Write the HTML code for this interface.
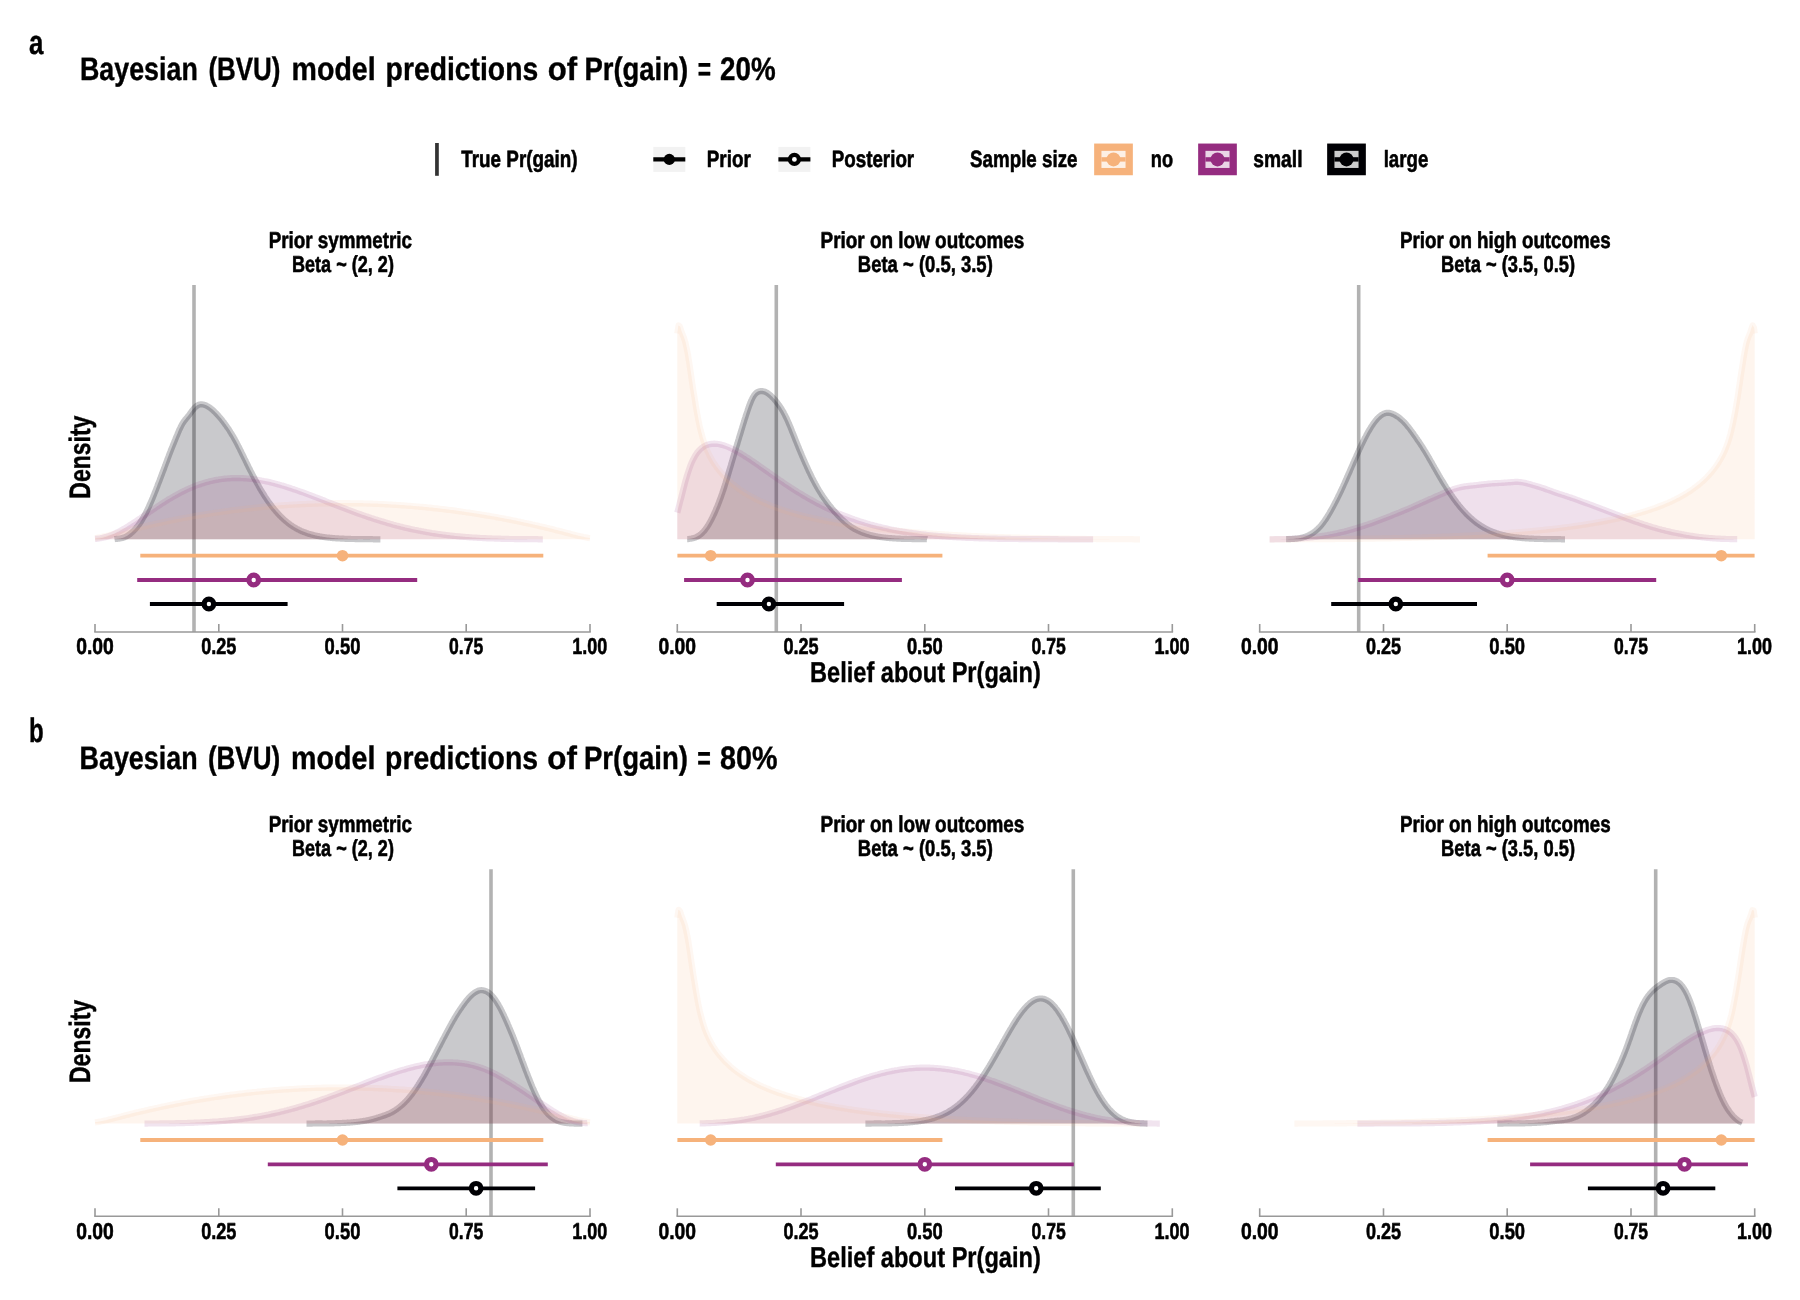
<!DOCTYPE html>
<html><head><meta charset="utf-8"><title>BVU model predictions</title>
<style>html,body{margin:0;padding:0;background:#fff;}svg{display:block;will-change:transform;}</style></head>
<body>
<svg width="1800" height="1300" viewBox="0 0 1800 1300" font-family='"Liberation Sans", sans-serif' fill="#000" text-rendering="geometricPrecision">
<rect width="1800" height="1300" fill="#fff"/>
<defs><filter id="soft" x="0" y="0" width="1800" height="1300" filterUnits="userSpaceOnUse" color-interpolation-filters="sRGB"><feGaussianBlur stdDeviation="0.6"/></filter></defs>
<g filter="url(#soft)">
<rect width="1800" height="1300" fill="#fff"/>
<text x="28.9" y="54.4" font-size="34" font-weight="bold" stroke="#000" stroke-width="0.4" stroke-linejoin="round" textLength="14.4" lengthAdjust="spacingAndGlyphs" >a</text>
<text x="80.0" y="80.4" font-size="32.5" font-weight="bold" stroke="#000" stroke-width="0.4" stroke-linejoin="round" textLength="117.8" lengthAdjust="spacingAndGlyphs" >Bayesian</text>
<text x="208.4" y="80.4" font-size="32.5" font-weight="bold" stroke="#000" stroke-width="0.4" stroke-linejoin="round" textLength="72.0" lengthAdjust="spacingAndGlyphs" >(BVU)</text>
<text x="291.6" y="80.4" font-size="32.5" font-weight="bold" stroke="#000" stroke-width="0.4" stroke-linejoin="round" textLength="84.0" lengthAdjust="spacingAndGlyphs" >model</text>
<text x="385.6" y="80.4" font-size="32.5" font-weight="bold" stroke="#000" stroke-width="0.4" stroke-linejoin="round" textLength="152.6" lengthAdjust="spacingAndGlyphs" >predictions</text>
<text x="547.8" y="80.4" font-size="32.5" font-weight="bold" stroke="#000" stroke-width="0.4" stroke-linejoin="round" textLength="29.3" lengthAdjust="spacingAndGlyphs" >of</text>
<text x="584.4" y="80.4" font-size="32.5" font-weight="bold" stroke="#000" stroke-width="0.4" stroke-linejoin="round" textLength="103.8" lengthAdjust="spacingAndGlyphs" >Pr(gain)</text>
<text x="697.8" y="80.4" font-size="32.5" font-weight="bold" stroke="#000" stroke-width="0.4" stroke-linejoin="round" textLength="13.3" lengthAdjust="spacingAndGlyphs" >=</text>
<text x="720.0" y="80.4" font-size="32.5" font-weight="bold" stroke="#000" stroke-width="0.4" stroke-linejoin="round" textLength="55.6" lengthAdjust="spacingAndGlyphs" >20%</text>
<text x="28.9" y="742.2" font-size="34" font-weight="bold" stroke="#000" stroke-width="0.4" stroke-linejoin="round" textLength="14.7" lengthAdjust="spacingAndGlyphs" >b</text>
<text x="79.5" y="768.9" font-size="32.5" font-weight="bold" stroke="#000" stroke-width="0.4" stroke-linejoin="round" textLength="118.1" lengthAdjust="spacingAndGlyphs" >Bayesian</text>
<text x="207.9" y="768.9" font-size="32.5" font-weight="bold" stroke="#000" stroke-width="0.4" stroke-linejoin="round" textLength="72.3" lengthAdjust="spacingAndGlyphs" >(BVU)</text>
<text x="291.1" y="768.9" font-size="32.5" font-weight="bold" stroke="#000" stroke-width="0.4" stroke-linejoin="round" textLength="84.3" lengthAdjust="spacingAndGlyphs" >model</text>
<text x="385.1" y="768.9" font-size="32.5" font-weight="bold" stroke="#000" stroke-width="0.4" stroke-linejoin="round" textLength="152.9" lengthAdjust="spacingAndGlyphs" >predictions</text>
<text x="547.3" y="768.9" font-size="32.5" font-weight="bold" stroke="#000" stroke-width="0.4" stroke-linejoin="round" textLength="29.6" lengthAdjust="spacingAndGlyphs" >of</text>
<text x="583.9" y="768.9" font-size="32.5" font-weight="bold" stroke="#000" stroke-width="0.4" stroke-linejoin="round" textLength="104.1" lengthAdjust="spacingAndGlyphs" >Pr(gain)</text>
<text x="697.3" y="768.9" font-size="32.5" font-weight="bold" stroke="#000" stroke-width="0.4" stroke-linejoin="round" textLength="13.6" lengthAdjust="spacingAndGlyphs" >=</text>
<text x="720.1" y="768.9" font-size="32.5" font-weight="bold" stroke="#000" stroke-width="0.4" stroke-linejoin="round" textLength="57.5" lengthAdjust="spacingAndGlyphs" >80%</text>
<rect x="435.1" y="143" width="3.7" height="32.8" fill="#333"/>
<text x="461.3" y="167.0" font-size="23.5" font-weight="bold" stroke="#000" stroke-width="0.6" stroke-linejoin="round" textLength="116.2" lengthAdjust="spacingAndGlyphs" >True Pr(gain)</text>
<rect x="653.3" y="146.9" width="32.0" height="25.0" fill="#f2f2f2"/><line x1="653.3" y1="159.4" x2="685.3" y2="159.4" stroke="#000" stroke-width="4.4"/><circle cx="669.3" cy="159.4" r="5.6" fill="#000"/>
<text x="706.7" y="167.0" font-size="23.5" font-weight="bold" stroke="#000" stroke-width="0.6" stroke-linejoin="round" textLength="44.1" lengthAdjust="spacingAndGlyphs" >Prior</text>
<rect x="778.4" y="146.9" width="32.0" height="25.0" fill="#f2f2f2"/><line x1="778.4" y1="159.4" x2="810.4" y2="159.4" stroke="#000" stroke-width="4.4"/><circle cx="794.4" cy="159.4" r="4.5" fill="#fff" stroke="#000" stroke-width="4.2"/>
<text x="831.7" y="167.0" font-size="23.5" font-weight="bold" stroke="#000" stroke-width="0.6" stroke-linejoin="round" textLength="82.5" lengthAdjust="spacingAndGlyphs" >Posterior</text>
<text x="970.0" y="167.0" font-size="23.5" font-weight="bold" stroke="#000" stroke-width="0.6" stroke-linejoin="round" textLength="107.5" lengthAdjust="spacingAndGlyphs" >Sample size</text>
<rect x="1097.8" y="147.2" width="31.4" height="24.4" fill="#F6B27B" fill-opacity="0.2" stroke="#F6B27B" stroke-width="7.3"/><line x1="1101.4" y1="159.4" x2="1125.6" y2="159.4" stroke="#F6B27B" stroke-width="4.4"/><circle cx="1113.5" cy="159.4" r="7.0" fill="#F6B27B"/>
<text x="1150.8" y="167.0" font-size="23.5" font-weight="bold" stroke="#000" stroke-width="0.6" stroke-linejoin="round" textLength="22.2" lengthAdjust="spacingAndGlyphs" >no</text>
<rect x="1201.8" y="147.2" width="31.4" height="24.4" fill="#952C80" fill-opacity="0.2" stroke="#952C80" stroke-width="7.3"/><line x1="1205.4" y1="159.4" x2="1229.6" y2="159.4" stroke="#952C80" stroke-width="4.4"/><circle cx="1217.5" cy="159.4" r="7.0" fill="#952C80"/>
<text x="1253.3" y="167.0" font-size="23.5" font-weight="bold" stroke="#000" stroke-width="0.6" stroke-linejoin="round" textLength="49.2" lengthAdjust="spacingAndGlyphs" >small</text>
<rect x="1330.8" y="147.2" width="31.4" height="24.4" fill="#000004" fill-opacity="0.2" stroke="#000004" stroke-width="7.3"/><line x1="1334.4" y1="159.4" x2="1358.6" y2="159.4" stroke="#000004" stroke-width="4.4"/><circle cx="1346.5" cy="159.4" r="7.0" fill="#000004"/>
<text x="1383.7" y="167.0" font-size="23.5" font-weight="bold" stroke="#000" stroke-width="0.6" stroke-linejoin="round" textLength="44.6" lengthAdjust="spacingAndGlyphs" >large</text>
<text x="268.7" y="247.8" font-size="23" font-weight="bold" stroke="#000" stroke-width="0.6" stroke-linejoin="round" textLength="143.3" lengthAdjust="spacingAndGlyphs" >Prior symmetric</text>
<text x="292.0" y="271.9" font-size="23" font-weight="bold" stroke="#000" stroke-width="0.6" stroke-linejoin="round" textLength="101.9" lengthAdjust="spacingAndGlyphs" >Beta ~ (2, 2)</text>
<text x="820.6" y="247.8" font-size="23" font-weight="bold" stroke="#000" stroke-width="0.6" stroke-linejoin="round" textLength="203.8" lengthAdjust="spacingAndGlyphs" >Prior on low outcomes</text>
<text x="857.8" y="271.9" font-size="23" font-weight="bold" stroke="#000" stroke-width="0.6" stroke-linejoin="round" textLength="135.0" lengthAdjust="spacingAndGlyphs" >Beta ~ (0.5, 3.5)</text>
<text x="1399.9" y="247.8" font-size="23" font-weight="bold" stroke="#000" stroke-width="0.6" stroke-linejoin="round" textLength="210.7" lengthAdjust="spacingAndGlyphs" >Prior on high outcomes</text>
<text x="1441.1" y="271.9" font-size="23" font-weight="bold" stroke="#000" stroke-width="0.6" stroke-linejoin="round" textLength="134.0" lengthAdjust="spacingAndGlyphs" >Beta ~ (3.5, 0.5)</text>
<text x="268.7" y="832.1" font-size="23" font-weight="bold" stroke="#000" stroke-width="0.6" stroke-linejoin="round" textLength="143.3" lengthAdjust="spacingAndGlyphs" >Prior symmetric</text>
<text x="292.0" y="856.2" font-size="23" font-weight="bold" stroke="#000" stroke-width="0.6" stroke-linejoin="round" textLength="101.9" lengthAdjust="spacingAndGlyphs" >Beta ~ (2, 2)</text>
<text x="820.6" y="832.1" font-size="23" font-weight="bold" stroke="#000" stroke-width="0.6" stroke-linejoin="round" textLength="203.8" lengthAdjust="spacingAndGlyphs" >Prior on low outcomes</text>
<text x="857.8" y="856.2" font-size="23" font-weight="bold" stroke="#000" stroke-width="0.6" stroke-linejoin="round" textLength="135.0" lengthAdjust="spacingAndGlyphs" >Beta ~ (0.5, 3.5)</text>
<text x="1399.9" y="832.1" font-size="23" font-weight="bold" stroke="#000" stroke-width="0.6" stroke-linejoin="round" textLength="210.7" lengthAdjust="spacingAndGlyphs" >Prior on high outcomes</text>
<text x="1441.1" y="856.2" font-size="23" font-weight="bold" stroke="#000" stroke-width="0.6" stroke-linejoin="round" textLength="134.0" lengthAdjust="spacingAndGlyphs" >Beta ~ (3.5, 0.5)</text>
<line x1="194.0" y1="285.0" x2="194.0" y2="632.0" stroke="#000" stroke-opacity="0.3" stroke-width="3.6"/>
<path d="M114.5,539.1 L115.1,539.0 L115.8,539.0 L116.4,538.9 L117.1,538.8 L117.8,538.8 L118.4,538.7 L119.1,538.6 L119.7,538.5 L120.4,538.4 L121.1,538.2 L121.7,538.1 L122.4,537.9 L123.0,537.7 L123.7,537.5 L124.3,537.2 L125.0,536.9 L125.6,536.6 L126.3,536.3 L126.9,535.9 L127.6,535.5 L128.2,535.0 L128.9,534.6 L129.5,534.1 L130.1,533.5 L130.8,533.0 L131.4,532.4 L132.1,531.8 L132.7,531.2 L133.4,530.6 L134.1,529.9 L134.7,529.2 L135.4,528.5 L136.0,527.7 L136.7,526.9 L137.3,526.1 L138.0,525.2 L138.6,524.3 L139.3,523.4 L140.0,522.4 L140.6,521.5 L141.3,520.4 L141.9,519.4 L142.6,518.3 L143.2,517.1 L143.9,516.0 L144.6,514.7 L145.2,513.5 L145.9,512.2 L146.5,510.9 L147.2,509.6 L147.9,508.2 L148.5,506.8 L149.2,505.3 L149.8,503.8 L150.5,502.3 L151.2,500.8 L151.8,499.2 L152.5,497.6 L153.1,496.0 L153.8,494.4 L154.5,492.7 L155.1,491.0 L155.8,489.4 L156.4,487.7 L157.1,485.9 L157.7,484.2 L158.4,482.5 L159.1,480.8 L159.7,479.1 L160.4,477.3 L161.0,475.6 L161.7,473.9 L162.4,472.1 L163.0,470.4 L163.7,468.6 L164.3,466.9 L165.0,465.1 L165.7,463.3 L166.3,461.6 L167.0,459.8 L167.6,458.0 L168.3,456.2 L169.0,454.5 L169.6,452.7 L170.3,451.0 L171.0,449.3 L171.6,447.7 L172.3,446.0 L172.9,444.4 L173.6,442.8 L174.3,441.2 L174.9,439.6 L175.6,438.0 L176.2,436.4 L176.9,434.8 L177.6,433.2 L178.2,431.6 L178.9,430.1 L179.5,428.6 L180.2,427.2 L180.9,425.9 L181.5,424.7 L182.2,423.5 L182.9,422.4 L183.5,421.5 L184.2,420.5 L184.9,419.7 L185.5,418.9 L186.2,418.1 L186.8,417.3 L187.5,416.5 L188.2,415.7 L188.8,414.8 L189.5,413.9 L190.1,413.0 L190.8,412.1 L191.4,411.2 L192.1,410.3 L192.8,409.5 L193.4,408.7 L194.1,407.9 L194.8,407.2 L195.5,406.6 L196.1,406.0 L196.8,405.5 L197.5,405.1 L198.2,404.8 L198.9,404.5 L199.5,404.3 L200.2,404.1 L200.9,404.1 L201.6,404.0 L202.3,404.1 L203.0,404.2 L203.6,404.3 L204.3,404.5 L205.0,404.7 L205.7,405.0 L206.3,405.3 L207.0,405.6 L207.7,406.0 L208.3,406.3 L209.0,406.8 L209.7,407.2 L210.3,407.7 L211.0,408.2 L211.7,408.7 L212.3,409.3 L213.0,409.8 L213.7,410.4 L214.3,411.1 L215.0,411.7 L215.7,412.4 L216.3,413.1 L217.0,413.8 L217.7,414.5 L218.3,415.2 L219.0,416.0 L219.6,416.8 L220.3,417.5 L221.0,418.3 L221.6,419.1 L222.3,420.0 L222.9,420.8 L223.6,421.6 L224.3,422.5 L224.9,423.4 L225.6,424.3 L226.3,425.2 L226.9,426.2 L227.6,427.1 L228.2,428.1 L228.9,429.1 L229.6,430.1 L230.2,431.1 L230.9,432.2 L231.5,433.2 L232.2,434.3 L232.9,435.4 L233.5,436.6 L234.2,437.7 L234.9,438.9 L235.5,440.1 L236.2,441.3 L236.8,442.5 L237.5,443.8 L238.2,445.1 L238.8,446.4 L239.5,447.7 L240.1,449.0 L240.8,450.3 L241.5,451.7 L242.1,453.0 L242.8,454.4 L243.4,455.7 L244.1,457.1 L244.8,458.4 L245.4,459.8 L246.1,461.1 L246.7,462.5 L247.4,463.8 L248.1,465.2 L248.7,466.5 L249.4,467.8 L250.0,469.2 L250.7,470.5 L251.4,471.8 L252.0,473.1 L252.7,474.3 L253.3,475.6 L254.0,476.9 L254.7,478.1 L255.3,479.4 L256.0,480.6 L256.6,481.8 L257.3,483.0 L258.0,484.2 L258.6,485.4 L259.3,486.5 L259.9,487.7 L260.6,488.8 L261.2,489.9 L261.9,491.0 L262.6,492.1 L263.2,493.2 L263.9,494.2 L264.5,495.3 L265.2,496.3 L265.9,497.3 L266.5,498.3 L267.2,499.3 L267.8,500.3 L268.5,501.2 L269.2,502.1 L269.8,503.0 L270.5,503.9 L271.1,504.8 L271.8,505.7 L272.4,506.5 L273.1,507.4 L273.8,508.2 L274.4,509.0 L275.1,509.8 L275.7,510.6 L276.4,511.4 L277.1,512.1 L277.7,512.8 L278.4,513.6 L279.0,514.3 L279.7,515.0 L280.3,515.6 L281.0,516.3 L281.7,517.0 L282.3,517.6 L283.0,518.2 L283.6,518.8 L284.3,519.4 L284.9,520.0 L285.6,520.6 L286.3,521.1 L286.9,521.7 L287.6,522.2 L288.2,522.7 L288.9,523.2 L289.5,523.7 L290.2,524.2 L290.9,524.7 L291.5,525.2 L292.2,525.6 L292.8,526.0 L293.5,526.5 L294.1,526.9 L294.8,527.3 L295.5,527.7 L296.1,528.0 L296.8,528.4 L297.4,528.8 L298.1,529.1 L298.7,529.4 L299.4,529.8 L300.1,530.1 L300.7,530.4 L301.4,530.7 L302.0,531.0 L302.7,531.3 L303.3,531.5 L304.0,531.8 L304.7,532.0 L305.3,532.3 L306.0,532.5 L306.6,532.8 L307.3,533.0 L307.9,533.2 L308.6,533.4 L309.2,533.6 L309.9,533.8 L310.6,534.0 L311.2,534.2 L311.9,534.4 L312.5,534.6 L313.2,534.8 L313.8,534.9 L314.5,535.1 L315.2,535.3 L315.8,535.4 L316.5,535.6 L317.1,535.7 L317.8,535.9 L318.4,536.0 L319.1,536.1 L319.8,536.2 L320.4,536.4 L321.1,536.5 L321.7,536.6 L322.4,536.7 L323.0,536.8 L323.7,536.9 L324.4,537.0 L325.0,537.1 L325.7,537.2 L326.3,537.3 L327.0,537.4 L327.7,537.4 L328.3,537.5 L329.0,537.6 L329.6,537.7 L330.3,537.7 L331.0,537.8 L331.6,537.9 L332.3,537.9 L332.9,538.0 L333.6,538.0 L334.3,538.1 L334.9,538.2 L335.6,538.2 L336.2,538.3 L336.9,538.3 L337.6,538.3 L338.2,538.4 L338.9,538.4 L339.5,538.5 L340.2,538.5 L340.9,538.5 L341.5,538.6 L342.2,538.6 L342.8,538.6 L343.5,538.7 L344.2,538.7 L344.8,538.7 L345.5,538.8 L346.1,538.8 L346.8,538.8 L347.5,538.8 L348.1,538.9 L348.8,538.9 L349.4,538.9 L350.1,538.9 L350.8,538.9 L351.4,538.9 L352.1,539.0 L352.7,539.0 L353.4,539.0 L354.1,539.0 L354.7,539.0 L355.4,539.0 L356.0,539.1 L356.7,539.1 L357.4,539.1 L358.0,539.2 L358.7,539.2 L359.3,539.2 L360.0,539.2 L360.6,539.2 L361.3,539.2 L362.0,539.2 L362.6,539.2 L363.3,539.1 L363.9,539.1 L364.6,539.1 L365.3,539.1 L365.9,539.1 L366.6,539.1 L367.3,539.1 L367.9,539.1 L368.6,539.1 L369.2,539.1 L369.9,539.1 L370.6,539.2 L371.2,539.2 L371.9,539.2 L372.5,539.2 L373.2,539.3 L373.9,539.3 L374.5,539.3 L375.2,539.3 L375.8,539.3 L376.5,539.3 L377.2,539.3 L377.8,539.3 L378.5,539.3 L379.1,539.3 L379.8,539.3 L380.4,539.3 L380.4,539.3 L114.5,539.3 Z" fill="#00000E" fill-opacity="0.212"/>
<path d="M114.5,539.1 L115.1,539.0 L115.8,539.0 L116.5,538.9 L117.1,538.9 L117.8,538.8 L118.4,538.7 L119.1,538.6 L119.8,538.5 L120.4,538.4 L121.1,538.3 L121.7,538.1 L122.4,538.0 L123.0,537.8 L123.7,537.6 L124.4,537.3 L125.0,537.0 L125.7,536.7 L126.3,536.4 L127.0,536.0 L127.7,535.6 L128.3,535.2 L129.0,534.7 L129.7,534.3 L130.3,533.8 L131.0,533.2 L131.6,532.7 L132.3,532.1 L132.9,531.4 L133.6,530.8 L134.3,530.1 L134.9,529.4 L135.6,528.7 L136.2,527.9 L136.9,527.1 L137.6,526.3 L138.2,525.4 L138.9,524.5 L139.6,523.6 L140.2,522.6 L140.9,521.6 L141.5,520.6 L142.2,519.5 L142.8,518.4 L143.5,517.3 L144.2,516.1 L144.8,514.9 L145.5,513.6 L146.2,512.4 L146.8,511.0 L147.5,509.7 L148.1,508.3 L148.8,506.9 L149.4,505.4 L150.1,503.9 L150.8,502.4 L151.4,500.9 L152.1,499.3 L152.8,497.7 L153.4,496.1 L154.1,494.5 L154.7,492.8 L155.4,491.1 L156.1,489.5 L156.7,487.8 L157.4,486.1 L158.0,484.3 L158.7,482.6 L159.4,480.9 L160.0,479.2 L160.7,477.4 L161.3,475.7 L162.0,474.0 L162.6,472.2 L163.3,470.5 L164.0,468.8 L164.6,467.0 L165.3,465.2 L165.9,463.4 L166.6,461.7 L167.3,459.9 L167.9,458.1 L168.6,456.3 L169.2,454.6 L169.9,452.8 L170.6,451.1 L171.2,449.4 L171.9,447.8 L172.6,446.1 L173.2,444.5 L173.9,442.9 L174.5,441.3 L175.2,439.7 L175.8,438.1 L176.5,436.5 L177.2,434.9 L177.8,433.3 L178.5,431.8 L179.1,430.2 L179.8,428.8 L180.5,427.4 L181.1,426.1 L181.8,424.8 L182.4,423.7 L183.1,422.6 L183.8,421.6 L184.4,420.7 L185.1,419.9 L185.8,419.0 L186.4,418.3 L187.1,417.5 L187.7,416.7 L188.4,415.8 L189.1,415.0 L189.7,414.1 L190.4,413.2 L191.0,412.3 L191.7,411.4 L192.3,410.5 L193.0,409.7 L193.7,408.9 L194.3,408.1 L195.0,407.4 L195.7,406.8 L196.3,406.2 L197.0,405.8 L197.6,405.4 L198.3,405.0 L198.9,404.8 L199.6,404.6 L200.3,404.4 L200.9,404.4 L201.6,404.3 L202.2,404.4 L202.9,404.5 L203.6,404.6 L204.2,404.8 L204.9,405.0 L205.6,405.2 L206.2,405.5 L206.9,405.9 L207.5,406.2 L208.2,406.6 L208.8,407.0 L209.5,407.5 L210.2,407.9 L210.8,408.4 L211.5,408.9 L212.2,409.5 L212.8,410.1 L213.5,410.7 L214.1,411.3 L214.8,411.9 L215.4,412.6 L216.1,413.3 L216.8,414.0 L217.4,414.7 L218.1,415.4 L218.8,416.2 L219.4,416.9 L220.1,417.7 L220.7,418.5 L221.4,419.3 L222.1,420.1 L222.7,421.0 L223.4,421.8 L224.0,422.7 L224.7,423.6 L225.3,424.5 L226.0,425.4 L226.7,426.3 L227.3,427.3 L228.0,428.2 L228.7,429.2 L229.3,430.2 L230.0,431.3 L230.6,432.3 L231.3,433.4 L231.9,434.5 L232.6,435.6 L233.3,436.7 L233.9,437.9 L234.6,439.0 L235.2,440.2 L235.9,441.4 L236.6,442.7 L237.2,443.9 L237.9,445.2 L238.5,446.5 L239.2,447.8 L239.9,449.1 L240.5,450.5 L241.2,451.8 L241.8,453.1 L242.5,454.5 L243.2,455.9 L243.8,457.2 L244.5,458.6 L245.2,459.9 L245.8,461.3 L246.5,462.6 L247.1,464.0 L247.8,465.3 L248.4,466.6 L249.1,468.0 L249.8,469.3 L250.4,470.6 L251.1,471.9 L251.8,473.2 L252.4,474.5 L253.1,475.7 L253.7,477.0 L254.4,478.3 L255.0,479.5 L255.7,480.7 L256.4,481.9 L257.0,483.1 L257.7,484.3 L258.4,485.5 L259.0,486.7 L259.7,487.8 L260.3,489.0 L261.0,490.1 L261.6,491.2 L262.3,492.3 L263.0,493.3 L263.6,494.4 L264.3,495.4 L264.9,496.5 L265.6,497.5 L266.3,498.5 L266.9,499.5 L267.6,500.4 L268.2,501.4 L268.9,502.3 L269.6,503.2 L270.2,504.1 L270.9,505.0 L271.5,505.9 L272.2,506.7 L272.9,507.6 L273.5,508.4 L274.2,509.2 L274.9,510.0 L275.5,510.8 L276.2,511.6 L276.8,512.3 L277.5,513.0 L278.1,513.8 L278.8,514.5 L279.5,515.2 L280.1,515.9 L280.8,516.5 L281.4,517.2 L282.1,517.8 L282.8,518.4 L283.4,519.1 L284.1,519.7 L284.8,520.2 L285.4,520.8 L286.1,521.4 L286.7,521.9 L287.4,522.5 L288.1,523.0 L288.7,523.5 L289.4,524.0 L290.0,524.5 L290.7,524.9 L291.4,525.4 L292.0,525.8 L292.7,526.3 L293.3,526.7 L294.0,527.1 L294.6,527.5 L295.3,527.9 L296.0,528.3 L296.6,528.7 L297.3,529.0 L297.9,529.4 L298.6,529.7 L299.3,530.0 L299.9,530.4 L300.6,530.7 L301.2,531.0 L301.9,531.3 L302.6,531.5 L303.2,531.8 L303.9,532.1 L304.6,532.3 L305.2,532.6 L305.9,532.8 L306.5,533.0 L307.2,533.3 L307.9,533.5 L308.5,533.7 L309.2,533.9 L309.8,534.1 L310.5,534.3 L311.1,534.5 L311.8,534.6 L312.5,534.8 L313.1,535.0 L313.8,535.1 L314.4,535.3 L315.1,535.5 L315.8,535.6 L316.4,535.7 L317.1,535.9 L317.8,536.0 L318.4,536.1 L319.1,536.3 L319.7,536.4 L320.4,536.5 L321.1,536.6 L321.7,536.7 L322.4,536.8 L323.0,536.9 L323.7,537.0 L324.4,537.1 L325.0,537.2 L325.7,537.3 L326.3,537.4 L327.0,537.5 L327.6,537.5 L328.3,537.6 L329.0,537.7 L329.6,537.7 L330.3,537.8 L330.9,537.9 L331.6,537.9 L332.3,538.0 L332.9,538.1 L333.6,538.1 L334.2,538.2 L334.9,538.2 L335.6,538.3 L336.2,538.3 L336.9,538.3 L337.5,538.4 L338.2,538.4 L338.9,538.5 L339.5,538.5 L340.2,538.5 L340.9,538.6 L341.5,538.6 L342.2,538.6 L342.8,538.7 L343.5,538.7 L344.1,538.7 L344.8,538.8 L345.5,538.8 L346.1,538.8 L346.8,538.8 L347.5,538.9 L348.1,538.9 L348.8,538.9 L349.4,538.9 L350.1,538.9 L350.8,539.0 L351.4,539.0 L352.1,539.0 L352.7,539.0 L353.4,539.0 L354.1,539.0 L354.7,539.0 L355.4,539.1 L356.0,539.1 L356.7,539.1 L357.4,539.1 L358.0,539.2 L358.7,539.2 L359.3,539.2 L360.0,539.2 L360.6,539.2 L361.3,539.2 L362.0,539.2 L362.6,539.2 L363.3,539.1 L363.9,539.1 L364.6,539.1 L365.3,539.1 L365.9,539.1 L366.6,539.1 L367.2,539.1 L367.9,539.1 L368.6,539.1 L369.2,539.1 L369.9,539.2 L370.6,539.2 L371.2,539.2 L371.9,539.2 L372.5,539.2 L373.2,539.3 L373.9,539.3 L374.5,539.3 L375.2,539.3 L375.8,539.3 L376.5,539.3 L377.1,539.3 L377.8,539.3 L378.5,539.3 L379.1,539.3 L379.8,539.3 L380.4,539.3" fill="none" stroke="#00000E" stroke-opacity="0.215" stroke-width="6.2" stroke-linejoin="round"/>
<path d="M95.0,538.9 L96.3,538.8 L97.6,538.6 L99.0,538.5 L100.3,538.2 L101.6,538.0 L102.9,537.7 L104.2,537.3 L105.5,537.0 L106.8,536.6 L108.2,536.1 L109.5,535.6 L110.8,535.1 L112.1,534.6 L113.4,534.0 L114.7,533.4 L116.0,532.7 L117.3,532.1 L118.6,531.4 L119.9,530.7 L121.3,530.0 L122.6,529.2 L123.9,528.5 L125.2,527.7 L126.5,526.9 L127.8,526.1 L129.2,525.3 L130.5,524.4 L131.8,523.6 L133.1,522.7 L134.4,521.9 L135.8,521.0 L137.1,520.1 L138.4,519.2 L139.7,518.3 L141.0,517.4 L142.4,516.5 L143.7,515.6 L145.0,514.7 L146.3,513.8 L147.6,512.9 L149.0,512.0 L150.3,511.1 L151.6,510.2 L152.9,509.3 L154.2,508.4 L155.6,507.5 L156.9,506.6 L158.2,505.7 L159.5,504.8 L160.8,504.0 L162.2,503.1 L163.5,502.3 L164.8,501.4 L166.1,500.6 L167.4,499.8 L168.8,499.0 L170.1,498.2 L171.4,497.4 L172.7,496.6 L174.1,495.9 L175.4,495.1 L176.7,494.4 L178.0,493.7 L179.3,493.0 L180.7,492.3 L182.0,491.6 L183.3,490.9 L184.6,490.3 L186.0,489.7 L187.3,489.0 L188.6,488.4 L189.9,487.8 L191.2,487.3 L192.6,486.7 L193.9,486.2 L195.2,485.7 L196.5,485.2 L197.9,484.7 L199.2,484.2 L200.5,483.7 L201.8,483.3 L203.2,482.9 L204.5,482.5 L205.8,482.1 L207.1,481.7 L208.4,481.4 L209.8,481.0 L211.1,480.7 L212.4,480.4 L213.7,480.1 L215.1,479.8 L216.4,479.6 L217.7,479.4 L219.0,479.1 L220.4,478.9 L221.7,478.7 L223.0,478.6 L224.3,478.4 L225.7,478.3 L227.0,478.2 L228.3,478.1 L229.6,478.0 L230.9,477.9 L232.3,477.8 L233.6,477.8 L234.9,477.8 L236.2,477.8 L237.6,477.8 L238.9,477.8 L240.2,477.8 L241.5,477.9 L242.9,477.9 L244.2,478.0 L245.5,478.1 L246.8,478.2 L248.1,478.3 L249.5,478.4 L250.8,478.6 L252.1,478.7 L253.4,478.9 L254.8,479.1 L256.1,479.3 L257.4,479.5 L258.7,479.7 L260.1,479.9 L261.4,480.2 L262.7,480.4 L264.0,480.7 L265.3,480.9 L266.7,481.2 L268.0,481.5 L269.3,481.8 L270.6,482.1 L272.0,482.5 L273.3,482.8 L274.6,483.1 L275.9,483.5 L277.2,483.8 L278.6,484.2 L279.9,484.6 L281.2,485.0 L282.5,485.4 L283.8,485.8 L285.2,486.2 L286.5,486.6 L287.8,487.0 L289.1,487.4 L290.5,487.8 L291.8,488.3 L293.1,488.7 L294.4,489.2 L295.7,489.6 L297.1,490.1 L298.4,490.5 L299.7,491.0 L301.0,491.5 L302.3,492.0 L303.7,492.4 L305.0,492.9 L306.3,493.4 L307.6,493.9 L308.9,494.4 L310.3,494.9 L311.6,495.4 L312.9,495.9 L314.2,496.4 L315.5,496.9 L316.9,497.4 L318.2,497.9 L319.5,498.4 L320.8,498.9 L322.1,499.4 L323.5,499.9 L324.8,500.5 L326.1,501.0 L327.4,501.5 L328.7,502.0 L330.1,502.5 L331.4,503.0 L332.7,503.5 L334.0,504.1 L335.3,504.6 L336.7,505.1 L338.0,505.6 L339.3,506.1 L340.6,506.6 L341.9,507.1 L343.3,507.6 L344.6,508.1 L345.9,508.6 L347.2,509.1 L348.5,509.6 L349.9,510.1 L351.2,510.6 L352.5,511.1 L353.8,511.6 L355.1,512.1 L356.5,512.5 L357.8,513.0 L359.1,513.5 L360.4,514.0 L361.7,514.4 L363.1,514.9 L364.4,515.3 L365.7,515.8 L367.0,516.2 L368.3,516.7 L369.7,517.1 L371.0,517.6 L372.3,518.0 L373.6,518.4 L374.9,518.9 L376.3,519.3 L377.6,519.7 L378.9,520.1 L380.2,520.5 L381.5,520.9 L382.8,521.3 L384.2,521.7 L385.5,522.1 L386.8,522.5 L388.1,522.9 L389.4,523.3 L390.8,523.6 L392.1,524.0 L393.4,524.4 L394.7,524.7 L396.0,525.1 L397.4,525.4 L398.7,525.8 L400.0,526.1 L401.3,526.4 L402.6,526.8 L404.0,527.1 L405.3,527.4 L406.6,527.7 L407.9,528.0 L409.2,528.3 L410.5,528.6 L411.9,528.9 L413.2,529.2 L414.5,529.5 L415.8,529.7 L417.1,530.0 L418.5,530.3 L419.8,530.5 L421.1,530.8 L422.4,531.0 L423.7,531.3 L425.1,531.5 L426.4,531.8 L427.7,532.0 L429.0,532.2 L430.3,532.4 L431.6,532.7 L433.0,532.9 L434.3,533.1 L435.6,533.3 L436.9,533.5 L438.2,533.7 L439.6,533.9 L440.9,534.1 L442.2,534.3 L443.5,534.4 L444.8,534.6 L446.1,534.8 L447.5,535.0 L448.8,535.1 L450.1,535.3 L451.4,535.4 L452.7,535.6 L454.1,535.7 L455.4,535.9 L456.7,536.0 L458.0,536.2 L459.3,536.3 L460.7,536.4 L462.0,536.5 L463.3,536.7 L464.6,536.8 L465.9,536.9 L467.2,537.0 L468.6,537.1 L469.9,537.2 L471.2,537.3 L472.5,537.4 L473.8,537.5 L475.2,537.6 L476.5,537.7 L477.8,537.7 L479.1,537.8 L480.4,537.9 L481.8,538.0 L483.1,538.0 L484.4,538.1 L485.7,538.2 L487.0,538.2 L488.4,538.3 L489.7,538.3 L491.0,538.4 L492.3,538.4 L493.6,538.5 L495.0,538.5 L496.3,538.6 L497.6,538.6 L498.9,538.7 L500.2,538.7 L501.6,538.8 L502.9,538.8 L504.2,538.8 L505.5,538.9 L506.8,538.9 L508.2,538.9 L509.5,538.9 L510.8,539.0 L512.1,539.0 L513.4,539.0 L514.8,539.0 L516.1,539.1 L517.4,539.1 L518.7,539.1 L520.0,539.1 L521.4,539.1 L522.7,539.1 L524.0,539.1 L525.3,539.1 L526.6,539.1 L528.0,539.2 L529.3,539.2 L530.6,539.2 L531.9,539.2 L533.2,539.2 L534.6,539.2 L535.9,539.2 L537.2,539.2 L538.5,539.3 L539.8,539.3 L541.2,539.3 L542.5,539.3 L542.8,539.3 L542.8,539.3 L95.0,539.3 Z" fill="#952C80" fill-opacity="0.15"/>
<path d="M95.0,538.9 L96.3,538.8 L97.6,538.7 L99.0,538.5 L100.3,538.3 L101.6,538.0 L102.9,537.8 L104.2,537.4 L105.6,537.1 L106.9,536.7 L108.2,536.3 L109.5,535.8 L110.8,535.3 L112.2,534.8 L113.5,534.2 L114.8,533.6 L116.1,533.0 L117.4,532.3 L118.8,531.7 L120.1,531.0 L121.4,530.3 L122.7,529.5 L124.0,528.7 L125.4,528.0 L126.7,527.2 L128.0,526.4 L129.3,525.5 L130.6,524.7 L132.0,523.8 L133.3,523.0 L134.6,522.1 L135.9,521.2 L137.2,520.3 L138.6,519.4 L139.9,518.6 L141.2,517.6 L142.5,516.7 L143.8,515.8 L145.2,514.9 L146.5,514.0 L147.8,513.1 L149.1,512.2 L150.4,511.3 L151.8,510.4 L153.1,509.5 L154.4,508.6 L155.7,507.7 L157.0,506.8 L158.4,506.0 L159.7,505.1 L161.0,504.2 L162.3,503.4 L163.6,502.5 L165.0,501.7 L166.3,500.9 L167.6,500.0 L168.9,499.2 L170.2,498.4 L171.6,497.7 L172.9,496.9 L174.2,496.1 L175.5,495.4 L176.8,494.7 L178.2,493.9 L179.5,493.2 L180.8,492.5 L182.1,491.9 L183.4,491.2 L184.8,490.6 L186.1,489.9 L187.4,489.3 L188.7,488.7 L190.0,488.1 L191.4,487.6 L192.7,487.0 L194.0,486.5 L195.3,485.9 L196.6,485.4 L198.0,484.9 L199.3,484.5 L200.6,484.0 L201.9,483.6 L203.2,483.2 L204.6,482.8 L205.9,482.4 L207.2,482.0 L208.5,481.7 L209.8,481.3 L211.2,481.0 L212.5,480.7 L213.8,480.4 L215.1,480.1 L216.4,479.9 L217.8,479.7 L219.1,479.4 L220.4,479.2 L221.7,479.0 L223.0,478.9 L224.4,478.7 L225.7,478.6 L227.0,478.5 L228.3,478.4 L229.6,478.3 L231.0,478.2 L232.3,478.1 L233.6,478.1 L234.9,478.1 L236.2,478.1 L237.6,478.1 L238.9,478.1 L240.2,478.1 L241.5,478.2 L242.8,478.2 L244.2,478.3 L245.5,478.4 L246.8,478.5 L248.1,478.6 L249.4,478.7 L250.8,478.9 L252.1,479.0 L253.4,479.2 L254.7,479.4 L256.0,479.6 L257.4,479.8 L258.7,480.0 L260.0,480.2 L261.3,480.5 L262.6,480.7 L264.0,481.0 L265.3,481.2 L266.6,481.5 L267.9,481.8 L269.2,482.1 L270.6,482.4 L271.9,482.8 L273.2,483.1 L274.5,483.4 L275.8,483.8 L277.2,484.1 L278.5,484.5 L279.8,484.9 L281.1,485.3 L282.4,485.6 L283.8,486.0 L285.1,486.4 L286.4,486.9 L287.7,487.3 L289.0,487.7 L290.4,488.1 L291.7,488.6 L293.0,489.0 L294.3,489.5 L295.6,489.9 L297.0,490.4 L298.3,490.8 L299.6,491.3 L300.9,491.8 L302.2,492.2 L303.6,492.7 L304.9,493.2 L306.2,493.7 L307.5,494.2 L308.8,494.7 L310.2,495.2 L311.5,495.7 L312.8,496.2 L314.1,496.7 L315.4,497.2 L316.8,497.7 L318.1,498.2 L319.4,498.7 L320.7,499.2 L322.0,499.7 L323.4,500.2 L324.7,500.7 L326.0,501.3 L327.3,501.8 L328.6,502.3 L330.0,502.8 L331.3,503.3 L332.6,503.8 L333.9,504.3 L335.2,504.8 L336.6,505.4 L337.9,505.9 L339.2,506.4 L340.5,506.9 L341.8,507.4 L343.2,507.9 L344.5,508.4 L345.8,508.9 L347.1,509.4 L348.4,509.9 L349.8,510.4 L351.1,510.9 L352.4,511.4 L353.7,511.9 L355.0,512.3 L356.4,512.8 L357.7,513.3 L359.0,513.8 L360.3,514.2 L361.6,514.7 L363.0,515.2 L364.3,515.6 L365.6,516.1 L366.9,516.5 L368.2,517.0 L369.6,517.4 L370.9,517.9 L372.2,518.3 L373.5,518.7 L374.8,519.2 L376.2,519.6 L377.5,520.0 L378.8,520.4 L380.1,520.8 L381.4,521.2 L382.8,521.6 L384.1,522.0 L385.4,522.4 L386.7,522.8 L388.0,523.2 L389.4,523.6 L390.7,523.9 L392.0,524.3 L393.3,524.7 L394.6,525.0 L396.0,525.4 L397.3,525.7 L398.6,526.1 L399.9,526.4 L401.2,526.7 L402.6,527.1 L403.9,527.4 L405.2,527.7 L406.5,528.0 L407.8,528.3 L409.2,528.6 L410.5,528.9 L411.8,529.2 L413.1,529.5 L414.4,529.8 L415.8,530.0 L417.1,530.3 L418.4,530.6 L419.7,530.8 L421.0,531.1 L422.4,531.3 L423.7,531.6 L425.0,531.8 L426.3,532.1 L427.6,532.3 L429.0,532.5 L430.3,532.7 L431.6,533.0 L432.9,533.2 L434.2,533.4 L435.6,533.6 L436.9,533.8 L438.2,534.0 L439.5,534.1 L440.8,534.3 L442.2,534.5 L443.5,534.7 L444.8,534.8 L446.1,535.0 L447.4,535.2 L448.8,535.3 L450.1,535.5 L451.4,535.6 L452.7,535.8 L454.0,535.9 L455.4,536.0 L456.7,536.2 L458.0,536.3 L459.3,536.4 L460.6,536.6 L462.0,536.7 L463.3,536.8 L464.6,536.9 L465.9,537.0 L467.2,537.1 L468.6,537.2 L469.9,537.3 L471.2,537.4 L472.5,537.5 L473.8,537.6 L475.2,537.7 L476.5,537.7 L477.8,537.8 L479.1,537.9 L480.4,538.0 L481.8,538.0 L483.1,538.1 L484.4,538.2 L485.7,538.2 L487.0,538.3 L488.4,538.3 L489.7,538.4 L491.0,538.4 L492.3,538.5 L493.6,538.5 L495.0,538.6 L496.3,538.6 L497.6,538.7 L498.9,538.7 L500.2,538.7 L501.6,538.8 L502.9,538.8 L504.2,538.8 L505.5,538.9 L506.8,538.9 L508.2,538.9 L509.5,539.0 L510.8,539.0 L512.1,539.0 L513.4,539.0 L514.8,539.1 L516.1,539.1 L517.4,539.1 L518.7,539.1 L520.0,539.1 L521.4,539.1 L522.7,539.1 L524.0,539.1 L525.3,539.1 L526.6,539.2 L528.0,539.2 L529.3,539.2 L530.6,539.2 L531.9,539.2 L533.2,539.2 L534.6,539.2 L535.9,539.2 L537.2,539.2 L538.5,539.3 L539.8,539.3 L541.2,539.3 L542.5,539.3 L542.8,539.3" fill="none" stroke="#952C80" stroke-opacity="0.13" stroke-width="6.2" stroke-linejoin="round"/>
<path d="M95.0,538.0 L96.6,537.8 L98.3,537.5 L99.9,537.2 L101.6,536.8 L103.2,536.5 L104.9,536.1 L106.5,535.7 L108.2,535.3 L109.8,534.8 L111.4,534.4 L113.1,534.0 L114.7,533.5 L116.4,533.1 L118.0,532.6 L119.7,532.2 L121.3,531.8 L123.0,531.3 L124.6,530.9 L126.3,530.5 L127.9,530.1 L129.6,529.7 L131.2,529.2 L132.9,528.8 L134.5,528.4 L136.2,528.0 L137.8,527.6 L139.5,527.2 L141.1,526.8 L142.8,526.4 L144.4,526.1 L146.1,525.7 L147.7,525.3 L149.4,524.9 L151.0,524.5 L152.7,524.2 L154.3,523.8 L156.0,523.4 L157.6,523.1 L159.3,522.7 L160.9,522.4 L162.6,522.0 L164.2,521.7 L165.9,521.3 L167.5,521.0 L169.2,520.6 L170.8,520.3 L172.5,520.0 L174.1,519.6 L175.8,519.3 L177.4,519.0 L179.1,518.7 L180.7,518.4 L182.4,518.0 L184.0,517.7 L185.7,517.4 L187.3,517.1 L189.0,516.8 L190.6,516.5 L192.3,516.2 L193.9,515.9 L195.6,515.6 L197.2,515.4 L198.9,515.1 L200.6,514.8 L202.2,514.5 L203.9,514.3 L205.5,514.0 L207.2,513.7 L208.8,513.5 L210.5,513.2 L212.1,512.9 L213.8,512.7 L215.4,512.4 L217.1,512.2 L218.7,512.0 L220.4,511.7 L222.0,511.5 L223.7,511.2 L225.3,511.0 L227.0,510.8 L228.6,510.6 L230.3,510.3 L231.9,510.1 L233.6,509.9 L235.2,509.7 L236.9,509.5 L238.5,509.3 L240.2,509.1 L241.8,508.9 L243.5,508.7 L245.1,508.5 L246.8,508.3 L248.4,508.1 L250.1,508.0 L251.7,507.8 L253.4,507.6 L255.0,507.4 L256.7,507.3 L258.3,507.1 L260.0,506.9 L261.6,506.8 L263.3,506.6 L264.9,506.5 L266.6,506.3 L268.2,506.2 L269.9,506.0 L271.5,505.9 L273.2,505.8 L274.8,505.6 L276.5,505.5 L278.1,505.4 L279.8,505.2 L281.4,505.1 L283.1,505.0 L284.7,504.9 L286.4,504.8 L288.0,504.7 L289.7,504.6 L291.3,504.5 L293.0,504.4 L294.6,504.3 L296.3,504.2 L297.9,504.1 L299.6,504.0 L301.2,503.9 L302.9,503.8 L304.5,503.8 L306.2,503.7 L307.8,503.6 L309.5,503.6 L311.1,503.5 L312.8,503.4 L314.4,503.4 L316.1,503.3 L317.7,503.3 L319.4,503.2 L321.0,503.2 L322.7,503.1 L324.3,503.1 L326.0,503.1 L327.6,503.0 L329.3,503.0 L330.9,503.0 L332.6,503.0 L334.2,503.0 L335.9,502.9 L337.5,502.9 L339.2,502.9 L340.8,502.9 L342.5,502.9 L344.2,502.9 L345.8,502.9 L347.5,502.9 L349.1,502.9 L350.8,503.0 L352.4,503.0 L354.1,503.0 L355.7,503.0 L357.4,503.0 L359.0,503.1 L360.7,503.1 L362.3,503.1 L364.0,503.2 L365.6,503.2 L367.3,503.3 L368.9,503.3 L370.6,503.4 L372.2,503.4 L373.9,503.5 L375.5,503.6 L377.2,503.6 L378.8,503.7 L380.5,503.8 L382.1,503.8 L383.8,503.9 L385.4,504.0 L387.1,504.1 L388.7,504.2 L390.4,504.3 L392.0,504.4 L393.7,504.5 L395.3,504.6 L397.0,504.7 L398.6,504.8 L400.3,504.9 L401.9,505.0 L403.6,505.1 L405.2,505.2 L406.9,505.4 L408.5,505.5 L410.2,505.6 L411.8,505.8 L413.5,505.9 L415.1,506.0 L416.8,506.2 L418.4,506.3 L420.1,506.5 L421.7,506.6 L423.4,506.8 L425.0,506.9 L426.7,507.1 L428.3,507.3 L430.0,507.4 L431.6,507.6 L433.3,507.8 L434.9,508.0 L436.6,508.1 L438.2,508.3 L439.9,508.5 L441.5,508.7 L443.2,508.9 L444.8,509.1 L446.5,509.3 L448.1,509.5 L449.8,509.7 L451.4,509.9 L453.1,510.1 L454.7,510.3 L456.4,510.6 L458.0,510.8 L459.7,511.0 L461.3,511.2 L463.0,511.5 L464.6,511.7 L466.3,512.0 L467.9,512.2 L469.6,512.4 L471.2,512.7 L472.9,512.9 L474.5,513.2 L476.2,513.5 L477.8,513.7 L479.5,514.0 L481.1,514.3 L482.8,514.5 L484.4,514.8 L486.1,515.1 L487.8,515.4 L489.4,515.6 L491.1,515.9 L492.7,516.2 L494.4,516.5 L496.0,516.8 L497.7,517.1 L499.3,517.4 L501.0,517.7 L502.6,518.0 L504.3,518.4 L505.9,518.7 L507.6,519.0 L509.2,519.3 L510.9,519.6 L512.5,520.0 L514.2,520.3 L515.8,520.6 L517.5,521.0 L519.1,521.3 L520.8,521.7 L522.4,522.0 L524.1,522.4 L525.7,522.7 L527.4,523.1 L529.0,523.4 L530.7,523.8 L532.3,524.2 L534.0,524.5 L535.6,524.9 L537.3,525.3 L538.9,525.7 L540.6,526.1 L542.2,526.4 L543.9,526.8 L545.5,527.2 L547.2,527.6 L548.8,528.0 L550.5,528.4 L552.1,528.8 L553.8,529.2 L555.4,529.7 L557.1,530.1 L558.7,530.5 L560.4,530.9 L562.0,531.3 L563.7,531.8 L565.3,532.2 L567.0,532.6 L568.6,533.1 L570.3,533.5 L571.9,534.0 L573.6,534.4 L575.2,534.8 L576.8,535.3 L578.5,535.7 L580.1,536.1 L581.8,536.5 L583.4,536.8 L585.1,537.2 L586.7,537.5 L588.4,537.8 L590.0,538.0 L590.0,539.3 L95.0,539.3 Z" fill="#F6B27B" fill-opacity="0.13"/>
<path d="M95.0,538.1 L96.7,537.9 L98.3,537.6 L100.0,537.3 L101.6,537.0 L103.2,536.6 L104.9,536.2 L106.5,535.9 L108.2,535.5 L109.8,535.0 L111.5,534.6 L113.2,534.2 L114.8,533.8 L116.5,533.3 L118.1,532.9 L119.8,532.5 L121.4,532.1 L123.0,531.6 L124.7,531.2 L126.3,530.8 L128.0,530.4 L129.7,530.0 L131.3,529.5 L132.9,529.1 L134.6,528.7 L136.2,528.3 L137.9,527.9 L139.6,527.5 L141.2,527.1 L142.8,526.7 L144.5,526.4 L146.2,526.0 L147.8,525.6 L149.4,525.2 L151.1,524.8 L152.8,524.5 L154.4,524.1 L156.1,523.7 L157.7,523.4 L159.4,523.0 L161.0,522.7 L162.6,522.3 L164.3,522.0 L165.9,521.6 L167.6,521.3 L169.2,520.9 L170.9,520.6 L172.6,520.3 L174.2,519.9 L175.8,519.6 L177.5,519.3 L179.1,519.0 L180.8,518.6 L182.4,518.3 L184.1,518.0 L185.8,517.7 L187.4,517.4 L189.1,517.1 L190.7,516.8 L192.3,516.5 L194.0,516.2 L195.7,515.9 L197.3,515.7 L198.9,515.4 L200.6,515.1 L202.2,514.8 L203.9,514.6 L205.6,514.3 L207.2,514.0 L208.8,513.8 L210.5,513.5 L212.2,513.2 L213.8,513.0 L215.4,512.7 L217.1,512.5 L218.8,512.3 L220.4,512.0 L222.1,511.8 L223.7,511.5 L225.3,511.3 L227.0,511.1 L228.7,510.9 L230.3,510.6 L231.9,510.4 L233.6,510.2 L235.2,510.0 L236.9,509.8 L238.5,509.6 L240.2,509.4 L241.8,509.2 L243.5,509.0 L245.2,508.8 L246.8,508.6 L248.4,508.4 L250.1,508.3 L251.8,508.1 L253.4,507.9 L255.0,507.7 L256.7,507.6 L258.4,507.4 L260.0,507.2 L261.6,507.1 L263.3,506.9 L264.9,506.8 L266.6,506.6 L268.2,506.5 L269.9,506.3 L271.5,506.2 L273.2,506.0 L274.9,505.9 L276.5,505.8 L278.1,505.7 L279.8,505.5 L281.4,505.4 L283.1,505.3 L284.8,505.2 L286.4,505.1 L288.1,505.0 L289.7,504.9 L291.4,504.8 L293.0,504.7 L294.6,504.6 L296.3,504.5 L297.9,504.4 L299.6,504.3 L301.2,504.2 L302.9,504.1 L304.6,504.1 L306.2,504.0 L307.9,503.9 L309.5,503.9 L311.1,503.8 L312.8,503.7 L314.4,503.7 L316.1,503.6 L317.8,503.6 L319.4,503.5 L321.1,503.5 L322.7,503.4 L324.4,503.4 L326.0,503.4 L327.6,503.3 L329.3,503.3 L330.9,503.3 L332.6,503.3 L334.2,503.3 L335.9,503.2 L337.5,503.2 L339.2,503.2 L340.9,503.2 L342.5,503.2 L344.1,503.2 L345.8,503.2 L347.5,503.2 L349.1,503.2 L350.8,503.3 L352.4,503.3 L354.1,503.3 L355.7,503.3 L357.4,503.3 L359.0,503.4 L360.6,503.4 L362.3,503.4 L363.9,503.5 L365.6,503.5 L367.2,503.6 L368.9,503.6 L370.6,503.7 L372.2,503.7 L373.9,503.8 L375.5,503.9 L377.1,503.9 L378.8,504.0 L380.4,504.1 L382.1,504.1 L383.7,504.2 L385.4,504.3 L387.1,504.4 L388.7,504.5 L390.4,504.6 L392.0,504.7 L393.6,504.8 L395.3,504.9 L396.9,505.0 L398.6,505.1 L400.2,505.2 L401.9,505.3 L403.5,505.4 L405.2,505.5 L406.9,505.7 L408.5,505.8 L410.1,505.9 L411.8,506.0 L413.4,506.2 L415.1,506.3 L416.8,506.5 L418.4,506.6 L420.0,506.8 L421.7,506.9 L423.4,507.1 L425.0,507.2 L426.6,507.4 L428.3,507.6 L429.9,507.7 L431.6,507.9 L433.2,508.1 L434.9,508.3 L436.5,508.4 L438.2,508.6 L439.9,508.8 L441.5,509.0 L443.1,509.2 L444.8,509.4 L446.4,509.6 L448.1,509.8 L449.8,510.0 L451.4,510.2 L453.0,510.4 L454.7,510.6 L456.3,510.9 L458.0,511.1 L459.7,511.3 L461.3,511.5 L462.9,511.8 L464.6,512.0 L466.2,512.3 L467.9,512.5 L469.5,512.7 L471.2,513.0 L472.8,513.2 L474.5,513.5 L476.2,513.8 L477.8,514.0 L479.4,514.3 L481.1,514.6 L482.8,514.8 L484.4,515.1 L486.0,515.4 L487.7,515.7 L489.3,515.9 L491.0,516.2 L492.6,516.5 L494.3,516.8 L495.9,517.1 L497.6,517.4 L499.2,517.7 L500.9,518.0 L502.5,518.3 L504.2,518.6 L505.8,519.0 L507.5,519.3 L509.1,519.6 L510.8,519.9 L512.5,520.3 L514.1,520.6 L515.8,520.9 L517.4,521.3 L519.0,521.6 L520.7,522.0 L522.3,522.3 L524.0,522.7 L525.6,523.0 L527.3,523.4 L529.0,523.7 L530.6,524.1 L532.2,524.5 L533.9,524.8 L535.5,525.2 L537.2,525.6 L538.8,526.0 L540.5,526.4 L542.1,526.7 L543.8,527.1 L545.5,527.5 L547.1,527.9 L548.8,528.3 L550.4,528.7 L552.0,529.1 L553.7,529.5 L555.3,530.0 L557.0,530.4 L558.6,530.8 L560.3,531.2 L562.0,531.6 L563.6,532.1 L565.2,532.5 L566.9,532.9 L568.5,533.3 L570.2,533.8 L571.8,534.2 L573.5,534.6 L575.1,535.0 L576.8,535.5 L578.5,535.9 L580.1,536.2 L581.8,536.6 L583.4,537.0 L585.0,537.3 L586.7,537.6 L588.3,537.9 L590.0,538.1" fill="none" stroke="#F6B27B" stroke-opacity="0.1" stroke-width="6.2" stroke-linejoin="round"/>
<line x1="140.3" y1="555.7" x2="543.3" y2="555.7" stroke="#F6B27B" stroke-width="3.8"/>
<circle cx="342.5" cy="555.7" r="5.8" fill="#F6B27B"/>
<line x1="137.2" y1="580.0" x2="417.2" y2="580.0" stroke="#952C80" stroke-width="3.8"/>
<circle cx="253.7" cy="580.0" r="4.8" fill="#fff" stroke="#952C80" stroke-width="5.2"/>
<line x1="149.9" y1="604.0" x2="287.6" y2="604.0" stroke="#000004" stroke-width="3.8"/>
<circle cx="208.9" cy="604.0" r="4.8" fill="#fff" stroke="#000004" stroke-width="5.2"/>
<line x1="94.2" y1="632.0" x2="590.8" y2="632.0" stroke="#999" stroke-width="1.6"/>
<line x1="95.0" y1="632.0" x2="95.0" y2="624.0" stroke="#999" stroke-width="1.6"/>
<text x="76.2" y="654.2" font-size="23" font-weight="bold" stroke="#000" stroke-width="0.6" stroke-linejoin="round" textLength="37.6" lengthAdjust="spacingAndGlyphs" >0.00</text>
<line x1="218.8" y1="632.0" x2="218.8" y2="624.0" stroke="#999" stroke-width="1.6"/>
<text x="201.2" y="654.2" font-size="23" font-weight="bold" stroke="#000" stroke-width="0.6" stroke-linejoin="round" textLength="35.2" lengthAdjust="spacingAndGlyphs" >0.25</text>
<line x1="342.5" y1="632.0" x2="342.5" y2="624.0" stroke="#999" stroke-width="1.6"/>
<text x="324.6" y="654.2" font-size="23" font-weight="bold" stroke="#000" stroke-width="0.6" stroke-linejoin="round" textLength="35.8" lengthAdjust="spacingAndGlyphs" >0.50</text>
<line x1="466.2" y1="632.0" x2="466.2" y2="624.0" stroke="#999" stroke-width="1.6"/>
<text x="449.1" y="654.2" font-size="23" font-weight="bold" stroke="#000" stroke-width="0.6" stroke-linejoin="round" textLength="34.2" lengthAdjust="spacingAndGlyphs" >0.75</text>
<line x1="590.0" y1="632.0" x2="590.0" y2="624.0" stroke="#999" stroke-width="1.6"/>
<text x="572.2" y="654.2" font-size="23" font-weight="bold" stroke="#000" stroke-width="0.6" stroke-linejoin="round" textLength="35.0" lengthAdjust="spacingAndGlyphs" >1.00</text>
<line x1="776.3" y1="285.0" x2="776.3" y2="632.0" stroke="#000" stroke-opacity="0.3" stroke-width="3.6"/>
<path d="M687.2,539.1 L687.9,539.1 L688.5,539.0 L689.2,538.9 L689.8,538.8 L690.5,538.7 L691.2,538.6 L691.8,538.4 L692.5,538.3 L693.1,538.1 L693.8,537.9 L694.4,537.7 L695.1,537.5 L695.7,537.2 L696.4,536.9 L697.0,536.6 L697.7,536.2 L698.3,535.8 L699.0,535.4 L699.6,534.9 L700.3,534.4 L700.9,533.8 L701.5,533.2 L702.2,532.6 L702.8,531.9 L703.5,531.2 L704.1,530.4 L704.8,529.6 L705.4,528.8 L706.1,527.9 L706.8,526.9 L707.4,525.9 L708.1,524.8 L708.7,523.7 L709.4,522.6 L710.0,521.4 L710.7,520.1 L711.4,518.8 L712.0,517.5 L712.7,516.2 L713.3,514.8 L714.0,513.3 L714.6,511.9 L715.3,510.4 L716.0,508.8 L716.6,507.3 L717.3,505.7 L717.9,504.0 L718.6,502.3 L719.3,500.6 L719.9,498.8 L720.6,497.0 L721.2,495.1 L721.9,493.2 L722.6,491.3 L723.2,489.3 L723.9,487.2 L724.5,485.2 L725.2,483.1 L725.9,480.9 L726.5,478.8 L727.2,476.6 L727.8,474.4 L728.5,472.2 L729.2,470.0 L729.8,467.8 L730.5,465.5 L731.1,463.3 L731.8,461.1 L732.5,458.9 L733.1,456.7 L733.8,454.4 L734.4,452.2 L735.1,450.0 L735.8,447.8 L736.4,445.6 L737.1,443.4 L737.7,441.2 L738.4,439.0 L739.1,436.8 L739.7,434.7 L740.4,432.5 L741.0,430.3 L741.7,428.1 L742.4,426.0 L743.0,423.8 L743.7,421.7 L744.3,419.6 L745.0,417.5 L745.7,415.4 L746.3,413.3 L747.0,411.3 L747.6,409.4 L748.3,407.5 L749.0,405.6 L749.6,403.9 L750.3,402.2 L750.9,400.6 L751.6,399.2 L752.3,397.8 L752.9,396.6 L753.6,395.6 L754.3,394.6 L755.0,393.8 L755.6,393.1 L756.3,392.5 L757.0,392.0 L757.7,391.6 L758.4,391.3 L759.1,391.1 L759.7,390.9 L760.4,390.8 L761.1,390.8 L761.8,390.8 L762.5,390.8 L763.2,391.0 L763.8,391.1 L764.5,391.3 L765.2,391.5 L765.9,391.8 L766.5,392.2 L767.2,392.6 L767.9,393.0 L768.6,393.5 L769.2,394.0 L769.9,394.5 L770.6,395.1 L771.2,395.7 L771.9,396.3 L772.6,397.0 L773.2,397.7 L773.9,398.4 L774.5,399.1 L775.2,399.9 L775.9,400.7 L776.5,401.5 L777.2,402.3 L777.9,403.1 L778.5,404.0 L779.2,404.9 L779.8,405.8 L780.5,406.8 L781.2,407.8 L781.8,408.9 L782.5,410.0 L783.2,411.1 L783.8,412.3 L784.5,413.5 L785.1,414.7 L785.8,416.0 L786.5,417.4 L787.1,418.8 L787.8,420.2 L788.5,421.7 L789.1,423.2 L789.8,424.8 L790.4,426.4 L791.1,428.0 L791.8,429.6 L792.4,431.2 L793.1,432.9 L793.7,434.6 L794.4,436.2 L795.1,437.9 L795.7,439.5 L796.4,441.2 L797.0,442.8 L797.7,444.5 L798.4,446.1 L799.0,447.7 L799.7,449.3 L800.3,450.9 L801.0,452.5 L801.7,454.1 L802.3,455.6 L803.0,457.1 L803.6,458.7 L804.3,460.2 L805.0,461.7 L805.6,463.2 L806.3,464.7 L806.9,466.1 L807.6,467.6 L808.3,469.0 L808.9,470.4 L809.6,471.8 L810.2,473.2 L810.9,474.6 L811.5,475.9 L812.2,477.3 L812.9,478.6 L813.5,479.9 L814.2,481.1 L814.8,482.4 L815.5,483.6 L816.2,484.8 L816.8,486.0 L817.5,487.1 L818.1,488.3 L818.8,489.4 L819.5,490.5 L820.1,491.6 L820.8,492.6 L821.4,493.7 L822.1,494.7 L822.7,495.7 L823.4,496.7 L824.1,497.6 L824.7,498.6 L825.4,499.5 L826.0,500.4 L826.7,501.3 L827.4,502.2 L828.0,503.1 L828.7,503.9 L829.3,504.8 L830.0,505.6 L830.7,506.4 L831.3,507.2 L832.0,508.0 L832.6,508.8 L833.3,509.6 L833.9,510.4 L834.6,511.1 L835.3,511.9 L835.9,512.6 L836.6,513.3 L837.2,514.1 L837.9,514.8 L838.6,515.5 L839.2,516.2 L839.9,516.8 L840.5,517.5 L841.2,518.2 L841.8,518.8 L842.5,519.4 L843.2,520.0 L843.8,520.6 L844.5,521.2 L845.1,521.8 L845.8,522.4 L846.5,522.9 L847.1,523.5 L847.8,524.0 L848.4,524.5 L849.1,525.0 L849.7,525.5 L850.4,525.9 L851.0,526.4 L851.7,526.8 L852.4,527.2 L853.0,527.6 L853.7,528.0 L854.3,528.4 L855.0,528.8 L855.6,529.1 L856.3,529.5 L857.0,529.8 L857.6,530.1 L858.3,530.4 L858.9,530.7 L859.6,531.0 L860.2,531.3 L860.9,531.6 L861.5,531.9 L862.2,532.1 L862.9,532.4 L863.5,532.6 L864.2,532.8 L864.8,533.1 L865.5,533.3 L866.1,533.5 L866.8,533.7 L867.5,533.9 L868.1,534.1 L868.8,534.3 L869.4,534.5 L870.1,534.7 L870.7,534.9 L871.4,535.0 L872.0,535.2 L872.7,535.4 L873.4,535.5 L874.0,535.7 L874.7,535.8 L875.3,535.9 L876.0,536.1 L876.6,536.2 L877.3,536.3 L878.0,536.5 L878.6,536.6 L879.3,536.7 L879.9,536.8 L880.6,536.9 L881.3,537.0 L881.9,537.1 L882.6,537.2 L883.2,537.3 L883.9,537.4 L884.6,537.5 L885.2,537.5 L885.9,537.6 L886.5,537.7 L887.2,537.8 L887.8,537.8 L888.5,537.9 L889.2,538.0 L889.8,538.0 L890.5,538.1 L891.1,538.1 L891.8,538.2 L892.5,538.2 L893.1,538.3 L893.8,538.3 L894.4,538.4 L895.1,538.4 L895.8,538.5 L896.4,538.5 L897.1,538.5 L897.7,538.6 L898.4,538.6 L899.1,538.6 L899.7,538.7 L900.4,538.7 L901.0,538.7 L901.7,538.8 L902.4,538.8 L903.0,538.8 L903.7,538.8 L904.3,538.9 L905.0,538.9 L905.7,538.9 L906.3,538.9 L907.0,538.9 L907.6,539.0 L908.3,539.0 L909.0,539.0 L909.6,539.0 L910.3,539.0 L910.9,539.0 L911.6,539.0 L912.3,539.0 L912.9,539.1 L913.6,539.1 L914.2,539.1 L914.9,539.2 L915.6,539.2 L916.2,539.2 L916.9,539.2 L917.5,539.2 L918.2,539.2 L918.9,539.2 L919.5,539.2 L920.2,539.2 L920.8,539.1 L921.5,539.1 L922.2,539.1 L922.8,539.0 L923.5,539.0 L924.1,539.0 L924.8,539.1 L925.5,539.1 L926.1,539.1 L926.8,539.1 L927.1,539.2 L927.1,539.3 L687.2,539.3 Z" fill="#00000E" fill-opacity="0.212"/>
<path d="M687.2,539.1 L687.9,539.1 L688.5,539.0 L689.2,538.9 L689.8,538.8 L690.5,538.7 L691.2,538.6 L691.8,538.5 L692.5,538.3 L693.1,538.2 L693.8,538.0 L694.5,537.8 L695.1,537.6 L695.8,537.3 L696.4,537.0 L697.1,536.7 L697.8,536.3 L698.4,535.9 L699.1,535.5 L699.7,535.1 L700.4,534.6 L701.1,534.0 L701.7,533.4 L702.4,532.8 L703.0,532.1 L703.7,531.4 L704.4,530.6 L705.0,529.8 L705.7,528.9 L706.3,528.0 L707.0,527.1 L707.7,526.0 L708.3,525.0 L709.0,523.9 L709.6,522.7 L710.3,521.5 L711.0,520.3 L711.6,519.0 L712.3,517.6 L712.9,516.3 L713.6,514.9 L714.3,513.5 L714.9,512.0 L715.6,510.5 L716.2,508.9 L716.9,507.4 L717.6,505.8 L718.2,504.1 L718.9,502.4 L719.5,500.7 L720.2,498.9 L720.9,497.1 L721.5,495.2 L722.2,493.3 L722.8,491.4 L723.5,489.4 L724.2,487.3 L724.8,485.3 L725.5,483.1 L726.1,481.0 L726.8,478.9 L727.5,476.7 L728.1,474.5 L728.8,472.3 L729.4,470.1 L730.1,467.8 L730.8,465.6 L731.4,463.4 L732.1,461.2 L732.7,459.0 L733.4,456.7 L734.1,454.5 L734.7,452.3 L735.4,450.1 L736.0,447.9 L736.7,445.7 L737.4,443.5 L738.0,441.3 L738.7,439.1 L739.3,436.9 L740.0,434.7 L740.7,432.6 L741.3,430.4 L742.0,428.2 L742.6,426.1 L743.3,423.9 L744.0,421.8 L744.6,419.6 L745.3,417.5 L745.9,415.5 L746.6,413.4 L747.3,411.4 L747.9,409.5 L748.6,407.6 L749.2,405.7 L749.9,404.0 L750.6,402.3 L751.2,400.7 L751.9,399.3 L752.5,398.0 L753.2,396.8 L753.9,395.7 L754.5,394.8 L755.2,394.0 L755.8,393.3 L756.5,392.7 L757.2,392.3 L757.8,391.9 L758.5,391.6 L759.1,391.4 L759.8,391.2 L760.5,391.1 L761.1,391.1 L761.8,391.1 L762.4,391.1 L763.1,391.2 L763.8,391.4 L764.4,391.6 L765.1,391.8 L765.7,392.1 L766.4,392.4 L767.1,392.8 L767.7,393.2 L768.4,393.7 L769.0,394.2 L769.7,394.7 L770.4,395.3 L771.0,395.9 L771.7,396.5 L772.3,397.2 L773.0,397.9 L773.7,398.6 L774.3,399.3 L775.0,400.1 L775.6,400.8 L776.3,401.6 L777.0,402.5 L777.6,403.3 L778.3,404.2 L778.9,405.1 L779.6,406.0 L780.3,407.0 L780.9,408.0 L781.6,409.0 L782.2,410.1 L782.9,411.2 L783.6,412.4 L784.2,413.6 L784.9,414.9 L785.5,416.2 L786.2,417.5 L786.9,418.9 L787.5,420.4 L788.2,421.8 L788.8,423.4 L789.5,424.9 L790.2,426.5 L790.8,428.1 L791.5,429.7 L792.1,431.4 L792.8,433.0 L793.5,434.7 L794.1,436.3 L794.8,438.0 L795.4,439.7 L796.1,441.3 L796.8,443.0 L797.4,444.6 L798.1,446.2 L798.7,447.8 L799.4,449.4 L800.1,451.0 L800.7,452.6 L801.4,454.2 L802.0,455.7 L802.7,457.3 L803.4,458.8 L804.0,460.3 L804.7,461.8 L805.3,463.3 L806.0,464.8 L806.7,466.3 L807.3,467.7 L808.0,469.1 L808.6,470.6 L809.3,472.0 L810.0,473.3 L810.6,474.7 L811.3,476.1 L811.9,477.4 L812.6,478.7 L813.3,480.0 L813.9,481.3 L814.6,482.5 L815.2,483.7 L815.9,484.9 L816.6,486.1 L817.2,487.3 L817.9,488.4 L818.5,489.6 L819.2,490.7 L819.9,491.7 L820.5,492.8 L821.2,493.8 L821.8,494.9 L822.5,495.9 L823.2,496.8 L823.8,497.8 L824.5,498.7 L825.1,499.7 L825.8,500.6 L826.5,501.5 L827.1,502.4 L827.8,503.2 L828.4,504.1 L829.1,505.0 L829.8,505.8 L830.4,506.6 L831.1,507.4 L831.7,508.2 L832.4,509.0 L833.1,509.8 L833.7,510.6 L834.4,511.3 L835.0,512.1 L835.7,512.8 L836.4,513.6 L837.0,514.3 L837.7,515.0 L838.3,515.7 L839.0,516.4 L839.7,517.0 L840.3,517.7 L841.0,518.4 L841.6,519.0 L842.3,519.6 L843.0,520.3 L843.6,520.9 L844.3,521.5 L844.9,522.0 L845.6,522.6 L846.3,523.2 L846.9,523.7 L847.6,524.2 L848.2,524.7 L848.9,525.2 L849.6,525.7 L850.2,526.2 L850.9,526.6 L851.5,527.1 L852.2,527.5 L852.9,527.9 L853.5,528.3 L854.2,528.7 L854.8,529.1 L855.5,529.4 L856.2,529.8 L856.8,530.1 L857.5,530.4 L858.1,530.7 L858.8,531.0 L859.5,531.3 L860.1,531.6 L860.8,531.9 L861.4,532.1 L862.1,532.4 L862.8,532.6 L863.4,532.9 L864.1,533.1 L864.7,533.3 L865.4,533.6 L866.1,533.8 L866.7,534.0 L867.4,534.2 L868.0,534.4 L868.7,534.5 L869.4,534.7 L870.0,534.9 L870.7,535.1 L871.3,535.2 L872.0,535.4 L872.7,535.5 L873.3,535.7 L874.0,535.8 L874.6,536.0 L875.3,536.1 L876.0,536.2 L876.6,536.4 L877.3,536.5 L877.9,536.6 L878.6,536.7 L879.3,536.8 L879.9,536.9 L880.6,537.0 L881.2,537.1 L881.9,537.2 L882.6,537.3 L883.2,537.4 L883.9,537.5 L884.5,537.5 L885.2,537.6 L885.9,537.7 L886.5,537.8 L887.2,537.8 L887.8,537.9 L888.5,538.0 L889.2,538.0 L889.8,538.1 L890.5,538.1 L891.1,538.2 L891.8,538.2 L892.5,538.3 L893.1,538.3 L893.8,538.4 L894.4,538.4 L895.1,538.5 L895.8,538.5 L896.4,538.5 L897.1,538.6 L897.7,538.6 L898.4,538.6 L899.1,538.7 L899.7,538.7 L900.4,538.7 L901.0,538.8 L901.7,538.8 L902.4,538.8 L903.0,538.8 L903.7,538.9 L904.3,538.9 L905.0,538.9 L905.7,538.9 L906.3,538.9 L907.0,539.0 L907.6,539.0 L908.3,539.0 L909.0,539.0 L909.6,539.0 L910.3,539.0 L910.9,539.0 L911.6,539.0 L912.3,539.1 L912.9,539.1 L913.6,539.1 L914.2,539.1 L914.9,539.2 L915.6,539.2 L916.2,539.2 L916.9,539.2 L917.5,539.2 L918.2,539.2 L918.9,539.2 L919.5,539.2 L920.2,539.2 L920.8,539.1 L921.5,539.1 L922.2,539.1 L922.8,539.1 L923.5,539.0 L924.1,539.0 L924.8,539.1 L925.5,539.1 L926.1,539.1 L926.8,539.1 L927.1,539.2" fill="none" stroke="#00000E" stroke-opacity="0.215" stroke-width="6.2" stroke-linejoin="round"/>
<path d="M677.3,512.6 L678.3,507.6 L679.6,502.5 L681.0,497.2 L682.3,491.9 L683.6,486.8 L684.9,481.8 L686.3,477.2 L687.6,472.8 L688.9,468.9 L690.2,465.3 L691.5,462.1 L692.9,459.3 L694.2,456.8 L695.5,454.6 L696.9,452.6 L698.2,451.0 L699.5,449.5 L700.9,448.3 L702.2,447.2 L703.5,446.3 L704.9,445.6 L706.2,444.9 L707.6,444.4 L708.9,444.1 L710.2,443.8 L711.6,443.6 L712.9,443.5 L714.3,443.4 L715.6,443.5 L716.9,443.6 L718.3,443.8 L719.6,444.0 L720.9,444.3 L722.3,444.6 L723.6,445.0 L724.9,445.4 L726.2,445.9 L727.6,446.4 L728.9,447.0 L730.2,447.6 L731.5,448.2 L732.9,448.8 L734.2,449.5 L735.5,450.2 L736.8,450.9 L738.2,451.7 L739.5,452.5 L740.8,453.2 L742.1,454.0 L743.5,454.9 L744.8,455.7 L746.1,456.5 L747.4,457.4 L748.7,458.3 L750.1,459.1 L751.4,460.0 L752.7,460.9 L754.0,461.8 L755.4,462.7 L756.7,463.7 L758.0,464.6 L759.3,465.5 L760.6,466.4 L762.0,467.4 L763.3,468.3 L764.6,469.2 L765.9,470.1 L767.2,471.1 L768.6,472.0 L769.9,472.9 L771.2,473.9 L772.5,474.8 L773.8,475.7 L775.2,476.6 L776.5,477.6 L777.8,478.5 L779.1,479.4 L780.4,480.3 L781.7,481.2 L783.1,482.1 L784.4,483.0 L785.7,483.9 L787.0,484.7 L788.3,485.6 L789.7,486.5 L791.0,487.3 L792.3,488.2 L793.6,489.0 L794.9,489.9 L796.3,490.7 L797.6,491.5 L798.9,492.3 L800.2,493.2 L801.5,494.0 L802.9,494.8 L804.2,495.5 L805.5,496.3 L806.8,497.1 L808.1,497.9 L809.4,498.6 L810.8,499.4 L812.1,500.1 L813.4,500.8 L814.7,501.5 L816.0,502.2 L817.4,502.9 L818.7,503.6 L820.0,504.3 L821.3,505.0 L822.6,505.7 L824.0,506.3 L825.3,507.0 L826.6,507.6 L827.9,508.3 L829.2,508.9 L830.5,509.5 L831.9,510.1 L833.2,510.7 L834.5,511.3 L835.8,511.9 L837.1,512.4 L838.5,513.0 L839.8,513.6 L841.1,514.1 L842.4,514.6 L843.7,515.2 L845.0,515.7 L846.4,516.2 L847.7,516.7 L849.0,517.2 L850.3,517.7 L851.6,518.2 L853.0,518.6 L854.3,519.1 L855.6,519.6 L856.9,520.0 L858.2,520.5 L859.6,520.9 L860.9,521.3 L862.2,521.7 L863.5,522.1 L864.8,522.5 L866.1,522.9 L867.5,523.3 L868.8,523.7 L870.1,524.1 L871.4,524.5 L872.7,524.8 L874.1,525.2 L875.4,525.5 L876.7,525.9 L878.0,526.2 L879.3,526.5 L880.7,526.8 L882.0,527.1 L883.3,527.5 L884.6,527.8 L885.9,528.0 L887.2,528.3 L888.6,528.6 L889.9,528.9 L891.2,529.2 L892.5,529.4 L893.8,529.7 L895.2,529.9 L896.5,530.2 L897.8,530.4 L899.1,530.7 L900.4,530.9 L901.8,531.1 L903.1,531.4 L904.4,531.6 L905.7,531.8 L907.0,532.0 L908.3,532.2 L909.7,532.4 L911.0,532.6 L912.3,532.8 L913.6,533.0 L914.9,533.2 L916.3,533.3 L917.6,533.5 L918.9,533.7 L920.2,533.9 L921.5,534.0 L922.8,534.2 L924.2,534.4 L925.5,534.5 L926.8,534.7 L928.1,534.8 L929.4,535.0 L930.8,535.1 L932.1,535.2 L933.4,535.4 L934.7,535.5 L936.0,535.6 L937.4,535.7 L938.7,535.9 L940.0,536.0 L941.3,536.1 L942.6,536.2 L944.0,536.3 L945.3,536.4 L946.6,536.5 L947.9,536.6 L949.2,536.7 L950.5,536.8 L951.9,536.9 L953.2,537.0 L954.5,537.0 L955.8,537.1 L957.1,537.2 L958.5,537.3 L959.8,537.4 L961.1,537.4 L962.4,537.5 L963.7,537.6 L965.1,537.6 L966.4,537.7 L967.7,537.8 L969.0,537.8 L970.3,537.9 L971.7,537.9 L973.0,538.0 L974.3,538.0 L975.6,538.1 L976.9,538.1 L978.3,538.2 L979.6,538.2 L980.9,538.3 L982.2,538.3 L983.5,538.4 L984.9,538.4 L986.2,538.4 L987.5,538.5 L988.8,538.5 L990.1,538.5 L991.5,538.6 L992.8,538.6 L994.1,538.6 L995.4,538.7 L996.7,538.7 L998.1,538.7 L999.4,538.8 L1000.7,538.8 L1002.0,538.8 L1003.3,538.8 L1004.7,538.8 L1006.0,538.9 L1007.3,538.9 L1008.6,538.9 L1009.9,538.9 L1011.3,538.9 L1012.6,539.0 L1013.9,539.0 L1015.2,539.0 L1016.5,539.0 L1017.9,539.0 L1019.2,539.0 L1020.5,539.1 L1021.8,539.1 L1023.1,539.1 L1024.5,539.1 L1025.8,539.1 L1027.1,539.1 L1028.4,539.1 L1029.7,539.1 L1031.1,539.1 L1032.4,539.2 L1033.7,539.2 L1035.0,539.2 L1036.3,539.2 L1037.7,539.2 L1039.0,539.2 L1040.3,539.2 L1041.6,539.2 L1042.9,539.2 L1044.3,539.2 L1045.6,539.2 L1046.9,539.2 L1048.2,539.2 L1049.5,539.2 L1050.9,539.2 L1052.2,539.2 L1053.5,539.2 L1054.8,539.2 L1056.1,539.2 L1057.5,539.2 L1058.8,539.3 L1060.1,539.3 L1061.4,539.3 L1062.7,539.3 L1064.1,539.3 L1065.4,539.3 L1066.7,539.3 L1068.0,539.3 L1069.3,539.3 L1070.7,539.3 L1072.0,539.3 L1073.3,539.3 L1074.6,539.3 L1075.9,539.3 L1077.3,539.3 L1078.6,539.3 L1079.9,539.3 L1081.2,539.3 L1082.5,539.3 L1083.9,539.3 L1085.2,539.3 L1086.5,539.3 L1087.8,539.3 L1089.1,539.3 L1090.5,539.3 L1091.8,539.3 L1093.1,539.3 L1093.1,539.3 L677.3,539.3 Z" fill="#952C80" fill-opacity="0.15"/>
<path d="M677.3,512.6 L678.6,507.7 L679.9,502.6 L681.3,497.3 L682.6,492.0 L683.9,486.9 L685.2,481.9 L686.5,477.3 L687.9,472.9 L689.2,469.0 L690.5,465.4 L691.8,462.2 L693.1,459.4 L694.5,456.9 L695.8,454.7 L697.1,452.8 L698.4,451.2 L699.7,449.8 L701.1,448.5 L702.4,447.5 L703.7,446.6 L705.0,445.8 L706.3,445.2 L707.7,444.7 L709.0,444.3 L710.3,444.1 L711.6,443.9 L712.9,443.8 L714.3,443.7 L715.6,443.8 L716.9,443.9 L718.2,444.0 L719.5,444.3 L720.9,444.6 L722.2,444.9 L723.5,445.3 L724.8,445.7 L726.1,446.2 L727.5,446.7 L728.8,447.3 L730.1,447.9 L731.4,448.5 L732.7,449.1 L734.1,449.8 L735.4,450.5 L736.7,451.2 L738.0,452.0 L739.3,452.7 L740.7,453.5 L742.0,454.3 L743.3,455.1 L744.6,456.0 L745.9,456.8 L747.3,457.7 L748.6,458.5 L749.9,459.4 L751.2,460.3 L752.5,461.2 L753.9,462.1 L755.2,463.0 L756.5,463.9 L757.8,464.8 L759.1,465.7 L760.5,466.7 L761.8,467.6 L763.1,468.5 L764.4,469.5 L765.7,470.4 L767.1,471.3 L768.4,472.3 L769.7,473.2 L771.0,474.1 L772.3,475.0 L773.7,476.0 L775.0,476.9 L776.3,477.8 L777.6,478.7 L778.9,479.6 L780.3,480.5 L781.6,481.4 L782.9,482.3 L784.2,483.2 L785.5,484.1 L786.9,485.0 L788.2,485.9 L789.5,486.7 L790.8,487.6 L792.1,488.4 L793.5,489.3 L794.8,490.1 L796.1,491.0 L797.4,491.8 L798.7,492.6 L800.1,493.4 L801.4,494.2 L802.7,495.0 L804.0,495.8 L805.3,496.6 L806.7,497.3 L808.0,498.1 L809.3,498.9 L810.6,499.6 L811.9,500.3 L813.3,501.1 L814.6,501.8 L815.9,502.5 L817.2,503.2 L818.5,503.9 L819.9,504.6 L821.2,505.3 L822.5,505.9 L823.8,506.6 L825.1,507.2 L826.5,507.9 L827.8,508.5 L829.1,509.1 L830.4,509.8 L831.7,510.4 L833.1,511.0 L834.4,511.6 L835.7,512.1 L837.0,512.7 L838.3,513.3 L839.7,513.8 L841.0,514.4 L842.3,514.9 L843.6,515.4 L844.9,516.0 L846.3,516.5 L847.6,517.0 L848.9,517.5 L850.2,518.0 L851.5,518.5 L852.9,518.9 L854.2,519.4 L855.5,519.8 L856.8,520.3 L858.1,520.7 L859.5,521.2 L860.8,521.6 L862.1,522.0 L863.4,522.4 L864.7,522.8 L866.1,523.2 L867.4,523.6 L868.7,524.0 L870.0,524.4 L871.3,524.7 L872.7,525.1 L874.0,525.5 L875.3,525.8 L876.6,526.1 L877.9,526.5 L879.3,526.8 L880.6,527.1 L881.9,527.4 L883.2,527.7 L884.5,528.0 L885.9,528.3 L887.2,528.6 L888.5,528.9 L889.8,529.2 L891.1,529.5 L892.5,529.7 L893.8,530.0 L895.1,530.2 L896.4,530.5 L897.7,530.7 L899.1,531.0 L900.4,531.2 L901.7,531.4 L903.0,531.7 L904.3,531.9 L905.7,532.1 L907.0,532.3 L908.3,532.5 L909.6,532.7 L910.9,532.9 L912.3,533.1 L913.6,533.3 L914.9,533.4 L916.2,533.6 L917.5,533.8 L918.9,534.0 L920.2,534.1 L921.5,534.3 L922.8,534.4 L924.1,534.6 L925.5,534.7 L926.8,534.9 L928.1,535.0 L929.4,535.2 L930.7,535.3 L932.1,535.4 L933.4,535.5 L934.7,535.7 L936.0,535.8 L937.3,535.9 L938.7,536.0 L940.0,536.1 L941.3,536.2 L942.6,536.3 L943.9,536.4 L945.3,536.5 L946.6,536.6 L947.9,536.7 L949.2,536.8 L950.5,536.9 L951.9,537.0 L953.2,537.1 L954.5,537.2 L955.8,537.2 L957.1,537.3 L958.5,537.4 L959.8,537.4 L961.1,537.5 L962.4,537.6 L963.7,537.6 L965.1,537.7 L966.4,537.8 L967.7,537.8 L969.0,537.9 L970.3,537.9 L971.7,538.0 L973.0,538.0 L974.3,538.1 L975.6,538.1 L976.9,538.2 L978.3,538.2 L979.6,538.3 L980.9,538.3 L982.2,538.4 L983.5,538.4 L984.9,538.4 L986.2,538.5 L987.5,538.5 L988.8,538.5 L990.1,538.6 L991.5,538.6 L992.8,538.6 L994.1,538.7 L995.4,538.7 L996.7,538.7 L998.1,538.8 L999.4,538.8 L1000.7,538.8 L1002.0,538.8 L1003.3,538.8 L1004.7,538.9 L1006.0,538.9 L1007.3,538.9 L1008.6,538.9 L1009.9,538.9 L1011.3,539.0 L1012.6,539.0 L1013.9,539.0 L1015.2,539.0 L1016.5,539.0 L1017.9,539.0 L1019.2,539.1 L1020.5,539.1 L1021.8,539.1 L1023.1,539.1 L1024.5,539.1 L1025.8,539.1 L1027.1,539.1 L1028.4,539.1 L1029.7,539.1 L1031.1,539.2 L1032.4,539.2 L1033.7,539.2 L1035.0,539.2 L1036.3,539.2 L1037.7,539.2 L1039.0,539.2 L1040.3,539.2 L1041.6,539.2 L1042.9,539.2 L1044.3,539.2 L1045.6,539.2 L1046.9,539.2 L1048.2,539.2 L1049.5,539.2 L1050.9,539.2 L1052.2,539.2 L1053.5,539.2 L1054.8,539.2 L1056.1,539.2 L1057.5,539.2 L1058.8,539.3 L1060.1,539.3 L1061.4,539.3 L1062.7,539.3 L1064.1,539.3 L1065.4,539.3 L1066.7,539.3 L1068.0,539.3 L1069.3,539.3 L1070.7,539.3 L1072.0,539.3 L1073.3,539.3 L1074.6,539.3 L1075.9,539.3 L1077.3,539.3 L1078.6,539.3 L1079.9,539.3 L1081.2,539.3 L1082.5,539.3 L1083.9,539.3 L1085.2,539.3 L1086.5,539.3 L1087.8,539.3 L1089.1,539.3 L1090.5,539.3 L1091.8,539.3 L1093.1,539.3" fill="none" stroke="#952C80" stroke-opacity="0.13" stroke-width="6.2" stroke-linejoin="round"/>
<path d="M677.3,333.5 L678.3,325.4 L680.2,326.6 L681.5,330.9 L682.9,334.6 L684.2,337.7 L685.5,341.8 L686.8,347.4 L688.2,354.5 L689.5,362.6 L690.8,371.3 L692.1,380.2 L693.4,389.0 L694.8,397.6 L696.1,405.7 L697.4,413.2 L698.7,420.1 L700.0,426.4 L701.4,431.9 L702.7,436.9 L704.0,441.2 L705.3,445.0 L706.6,448.5 L707.9,451.5 L709.2,454.3 L710.6,456.9 L711.9,459.3 L713.2,461.5 L714.5,463.5 L715.8,465.5 L717.1,467.3 L718.5,469.1 L719.8,470.7 L721.1,472.3 L722.4,473.8 L723.7,475.3 L725.0,476.7 L726.4,478.0 L727.7,479.3 L729.0,480.5 L730.3,481.7 L731.6,482.9 L732.9,484.0 L734.2,485.1 L735.6,486.1 L736.9,487.1 L738.2,488.1 L739.5,489.0 L740.8,489.9 L742.1,490.8 L743.5,491.7 L744.8,492.5 L746.1,493.3 L747.4,494.1 L748.7,494.9 L750.0,495.6 L751.4,496.4 L752.7,497.1 L754.0,497.8 L755.3,498.4 L756.6,499.1 L758.0,499.7 L759.3,500.4 L760.6,501.0 L761.9,501.6 L763.2,502.2 L764.5,502.8 L765.9,503.3 L767.2,503.9 L768.5,504.4 L769.8,505.0 L771.1,505.5 L772.4,506.0 L773.8,506.5 L775.1,507.0 L776.4,507.5 L777.7,507.9 L779.0,508.4 L780.4,508.8 L781.7,509.3 L783.0,509.7 L784.3,510.1 L785.6,510.6 L786.9,511.0 L788.3,511.4 L789.6,511.8 L790.9,512.2 L792.2,512.6 L793.5,512.9 L794.9,513.3 L796.2,513.7 L797.5,514.0 L798.8,514.4 L800.1,514.7 L801.5,515.1 L802.8,515.4 L804.1,515.8 L805.4,516.1 L806.7,516.4 L808.0,516.7 L809.4,517.0 L810.7,517.3 L812.0,517.7 L813.3,517.9 L814.6,518.2 L816.0,518.5 L817.3,518.8 L818.6,519.1 L819.9,519.4 L821.2,519.6 L822.6,519.9 L823.9,520.2 L825.2,520.4 L826.5,520.7 L827.8,521.0 L829.2,521.2 L830.5,521.5 L831.8,521.7 L833.1,521.9 L834.4,522.2 L835.8,522.4 L837.1,522.6 L838.4,522.9 L839.7,523.1 L841.0,523.3 L842.3,523.5 L843.7,523.7 L845.0,524.0 L846.3,524.2 L847.6,524.4 L848.9,524.6 L850.3,524.8 L851.6,525.0 L852.9,525.2 L854.2,525.4 L855.5,525.6 L856.9,525.7 L858.2,525.9 L859.5,526.1 L860.8,526.3 L862.1,526.5 L863.5,526.7 L864.8,526.8 L866.1,527.0 L867.4,527.2 L868.7,527.3 L870.1,527.5 L871.4,527.7 L872.7,527.8 L874.0,528.0 L875.3,528.1 L876.7,528.3 L878.0,528.5 L879.3,528.6 L880.6,528.8 L881.9,528.9 L883.3,529.1 L884.6,529.2 L885.9,529.3 L887.2,529.5 L888.5,529.6 L889.9,529.8 L891.2,529.9 L892.5,530.0 L893.8,530.2 L895.1,530.3 L896.4,530.4 L897.8,530.5 L899.1,530.7 L900.4,530.8 L901.7,530.9 L903.0,531.0 L904.4,531.2 L905.7,531.3 L907.0,531.4 L908.3,531.5 L909.6,531.6 L911.0,531.7 L912.3,531.9 L913.6,532.0 L914.9,532.1 L916.2,532.2 L917.6,532.3 L918.9,532.4 L920.2,532.5 L921.5,532.6 L922.8,532.7 L924.2,532.8 L925.5,532.9 L926.8,533.0 L928.1,533.1 L929.4,533.2 L930.8,533.3 L932.1,533.4 L933.4,533.5 L934.7,533.6 L936.0,533.7 L937.4,533.8 L938.7,533.9 L940.0,533.9 L941.3,534.0 L942.6,534.1 L944.0,534.2 L945.3,534.3 L946.6,534.4 L947.9,534.5 L949.2,534.5 L950.6,534.6 L951.9,534.7 L953.2,534.8 L954.5,534.9 L955.8,534.9 L957.2,535.0 L958.5,535.1 L959.8,535.2 L961.1,535.2 L962.4,535.3 L963.7,535.4 L965.1,535.5 L966.4,535.5 L967.7,535.6 L969.0,535.7 L970.3,535.7 L971.7,535.8 L973.0,535.9 L974.3,535.9 L975.6,536.0 L976.9,536.0 L978.3,536.1 L979.6,536.2 L980.9,536.2 L982.2,536.3 L983.5,536.3 L984.9,536.4 L986.2,536.5 L987.5,536.5 L988.8,536.6 L990.1,536.6 L991.5,536.7 L992.8,536.7 L994.1,536.8 L995.4,536.8 L996.7,536.9 L998.1,536.9 L999.4,537.0 L1000.7,537.0 L1002.0,537.1 L1003.3,537.1 L1004.7,537.2 L1006.0,537.2 L1007.3,537.3 L1008.6,537.3 L1009.9,537.4 L1011.3,537.4 L1012.6,537.4 L1013.9,537.5 L1015.2,537.5 L1016.5,537.6 L1017.9,537.6 L1019.2,537.6 L1020.5,537.7 L1021.8,537.7 L1023.1,537.8 L1024.5,537.8 L1025.8,537.8 L1027.1,537.9 L1028.4,537.9 L1029.7,537.9 L1031.1,538.0 L1032.4,538.0 L1033.7,538.0 L1035.0,538.1 L1036.3,538.1 L1037.7,538.1 L1039.0,538.2 L1040.3,538.2 L1041.6,538.2 L1042.9,538.2 L1044.3,538.3 L1045.6,538.3 L1046.9,538.3 L1048.2,538.4 L1049.5,538.4 L1050.9,538.4 L1052.2,538.4 L1053.5,538.5 L1054.8,538.5 L1056.1,538.5 L1057.5,538.5 L1058.8,538.6 L1060.1,538.6 L1061.4,538.6 L1062.7,538.6 L1064.1,538.6 L1065.4,538.7 L1066.7,538.7 L1068.0,538.7 L1069.3,538.7 L1070.7,538.7 L1072.0,538.8 L1073.3,538.8 L1074.6,538.8 L1075.9,538.8 L1077.3,538.8 L1078.6,538.8 L1079.9,538.9 L1081.2,538.9 L1082.5,538.9 L1083.9,538.9 L1085.2,538.9 L1086.5,538.9 L1087.8,539.0 L1089.1,539.0 L1090.5,539.0 L1091.8,539.0 L1093.1,539.0 L1094.4,539.0 L1095.7,539.0 L1097.1,539.0 L1098.4,539.1 L1099.7,539.1 L1101.0,539.1 L1102.3,539.1 L1103.7,539.1 L1105.0,539.1 L1106.3,539.1 L1107.6,539.1 L1108.9,539.1 L1110.3,539.2 L1111.6,539.2 L1112.9,539.2 L1114.2,539.2 L1115.5,539.2 L1116.9,539.2 L1118.2,539.2 L1119.5,539.2 L1120.8,539.2 L1122.1,539.2 L1123.5,539.2 L1124.8,539.2 L1126.1,539.2 L1127.4,539.2 L1128.7,539.2 L1130.1,539.2 L1131.4,539.2 L1132.7,539.2 L1134.0,539.2 L1135.3,539.3 L1136.7,539.3 L1138.0,539.3 L1139.3,539.3 L1140.0,539.3 L1140.0,539.3 L677.3,539.3 Z" fill="#F6B27B" fill-opacity="0.13"/>
<path d="M677.3,333.5 L678.6,325.5 L679.9,326.8 L681.3,331.0 L682.6,334.7 L683.9,337.8 L685.2,341.9 L686.5,347.5 L687.9,354.5 L689.2,362.6 L690.5,371.3 L691.8,380.2 L693.1,389.1 L694.5,397.6 L695.8,405.7 L697.1,413.3 L698.4,420.2 L699.7,426.4 L701.1,432.0 L702.4,436.9 L703.7,441.3 L705.0,445.2 L706.3,448.6 L707.7,451.7 L709.0,454.5 L710.3,457.0 L711.6,459.4 L712.9,461.6 L714.3,463.7 L715.6,465.6 L716.9,467.5 L718.2,469.3 L719.5,470.9 L720.9,472.5 L722.2,474.0 L723.5,475.5 L724.8,476.9 L726.1,478.2 L727.5,479.5 L728.8,480.8 L730.1,482.0 L731.4,483.1 L732.7,484.2 L734.1,485.3 L735.4,486.3 L736.7,487.3 L738.0,488.3 L739.3,489.3 L740.7,490.2 L742.0,491.1 L743.3,491.9 L744.6,492.8 L745.9,493.6 L747.3,494.4 L748.6,495.1 L749.9,495.9 L751.2,496.6 L752.5,497.3 L753.9,498.0 L755.2,498.7 L756.5,499.4 L757.8,500.0 L759.1,500.7 L760.5,501.3 L761.8,501.9 L763.1,502.5 L764.4,503.0 L765.7,503.6 L767.1,504.2 L768.4,504.7 L769.7,505.2 L771.0,505.8 L772.3,506.3 L773.7,506.8 L775.0,507.3 L776.3,507.7 L777.6,508.2 L778.9,508.7 L780.3,509.1 L781.6,509.6 L782.9,510.0 L784.2,510.4 L785.5,510.9 L786.9,511.3 L788.2,511.7 L789.5,512.1 L790.8,512.5 L792.1,512.9 L793.5,513.2 L794.8,513.6 L796.1,514.0 L797.4,514.3 L798.7,514.7 L800.1,515.0 L801.4,515.4 L802.7,515.7 L804.0,516.1 L805.3,516.4 L806.7,516.7 L808.0,517.0 L809.3,517.3 L810.6,517.6 L811.9,517.9 L813.3,518.2 L814.6,518.5 L815.9,518.8 L817.2,519.1 L818.5,519.4 L819.9,519.7 L821.2,519.9 L822.5,520.2 L823.8,520.5 L825.1,520.7 L826.5,521.0 L827.8,521.3 L829.1,521.5 L830.4,521.7 L831.7,522.0 L833.1,522.2 L834.4,522.5 L835.7,522.7 L837.0,522.9 L838.3,523.2 L839.7,523.4 L841.0,523.6 L842.3,523.8 L843.6,524.0 L844.9,524.3 L846.3,524.5 L847.6,524.7 L848.9,524.9 L850.2,525.1 L851.5,525.3 L852.9,525.5 L854.2,525.7 L855.5,525.9 L856.8,526.0 L858.1,526.2 L859.5,526.4 L860.8,526.6 L862.1,526.8 L863.4,527.0 L864.7,527.1 L866.1,527.3 L867.4,527.5 L868.7,527.6 L870.0,527.8 L871.3,528.0 L872.7,528.1 L874.0,528.3 L875.3,528.4 L876.6,528.6 L877.9,528.8 L879.3,528.9 L880.6,529.1 L881.9,529.2 L883.2,529.4 L884.5,529.5 L885.9,529.6 L887.2,529.8 L888.5,529.9 L889.8,530.1 L891.1,530.2 L892.5,530.3 L893.8,530.5 L895.1,530.6 L896.4,530.7 L897.7,530.8 L899.1,531.0 L900.4,531.1 L901.7,531.2 L903.0,531.3 L904.3,531.5 L905.7,531.6 L907.0,531.7 L908.3,531.8 L909.6,531.9 L910.9,532.0 L912.3,532.2 L913.6,532.3 L914.9,532.4 L916.2,532.5 L917.5,532.6 L918.9,532.7 L920.2,532.8 L921.5,532.9 L922.8,533.0 L924.1,533.1 L925.5,533.2 L926.8,533.3 L928.1,533.4 L929.4,533.5 L930.7,533.6 L932.1,533.7 L933.4,533.8 L934.7,533.8 L936.0,533.9 L937.3,534.0 L938.7,534.1 L940.0,534.2 L941.3,534.3 L942.6,534.4 L943.9,534.4 L945.3,534.5 L946.6,534.6 L947.9,534.7 L949.2,534.8 L950.5,534.8 L951.9,534.9 L953.2,535.0 L954.5,535.1 L955.8,535.1 L957.1,535.2 L958.5,535.3 L959.8,535.4 L961.1,535.4 L962.4,535.5 L963.7,535.6 L965.1,535.6 L966.4,535.7 L967.7,535.8 L969.0,535.8 L970.3,535.9 L971.7,536.0 L973.0,536.0 L974.3,536.1 L975.6,536.1 L976.9,536.2 L978.3,536.3 L979.6,536.3 L980.9,536.4 L982.2,536.4 L983.5,536.5 L984.9,536.5 L986.2,536.6 L987.5,536.6 L988.8,536.7 L990.1,536.8 L991.5,536.8 L992.8,536.9 L994.1,536.9 L995.4,537.0 L996.7,537.0 L998.1,537.0 L999.4,537.1 L1000.7,537.1 L1002.0,537.2 L1003.3,537.2 L1004.7,537.3 L1006.0,537.3 L1007.3,537.4 L1008.6,537.4 L1009.9,537.4 L1011.3,537.5 L1012.6,537.5 L1013.9,537.6 L1015.2,537.6 L1016.5,537.6 L1017.9,537.7 L1019.2,537.7 L1020.5,537.8 L1021.8,537.8 L1023.1,537.8 L1024.5,537.9 L1025.8,537.9 L1027.1,537.9 L1028.4,538.0 L1029.7,538.0 L1031.1,538.0 L1032.4,538.1 L1033.7,538.1 L1035.0,538.1 L1036.3,538.2 L1037.7,538.2 L1039.0,538.2 L1040.3,538.2 L1041.6,538.3 L1042.9,538.3 L1044.3,538.3 L1045.6,538.3 L1046.9,538.4 L1048.2,538.4 L1049.5,538.4 L1050.9,538.5 L1052.2,538.5 L1053.5,538.5 L1054.8,538.5 L1056.1,538.5 L1057.5,538.6 L1058.8,538.6 L1060.1,538.6 L1061.4,538.6 L1062.7,538.7 L1064.1,538.7 L1065.4,538.7 L1066.7,538.7 L1068.0,538.7 L1069.3,538.7 L1070.7,538.8 L1072.0,538.8 L1073.3,538.8 L1074.6,538.8 L1075.9,538.8 L1077.3,538.9 L1078.6,538.9 L1079.9,538.9 L1081.2,538.9 L1082.5,538.9 L1083.9,538.9 L1085.2,538.9 L1086.5,539.0 L1087.8,539.0 L1089.1,539.0 L1090.5,539.0 L1091.8,539.0 L1093.1,539.0 L1094.4,539.0 L1095.7,539.0 L1097.1,539.1 L1098.4,539.1 L1099.7,539.1 L1101.0,539.1 L1102.3,539.1 L1103.7,539.1 L1105.0,539.1 L1106.3,539.1 L1107.6,539.1 L1108.9,539.1 L1110.3,539.2 L1111.6,539.2 L1112.9,539.2 L1114.2,539.2 L1115.5,539.2 L1116.9,539.2 L1118.2,539.2 L1119.5,539.2 L1120.8,539.2 L1122.1,539.2 L1123.5,539.2 L1124.8,539.2 L1126.1,539.2 L1127.4,539.2 L1128.7,539.2 L1130.1,539.2 L1131.4,539.2 L1132.7,539.2 L1134.0,539.3 L1135.3,539.3 L1136.7,539.3 L1138.0,539.3 L1139.3,539.3 L1140.0,539.3" fill="none" stroke="#F6B27B" stroke-opacity="0.1" stroke-width="6.2" stroke-linejoin="round"/>
<line x1="677.4" y1="555.7" x2="942.4" y2="555.7" stroke="#F6B27B" stroke-width="3.8"/>
<circle cx="710.7" cy="555.7" r="5.8" fill="#F6B27B"/>
<line x1="684.1" y1="580.0" x2="901.9" y2="580.0" stroke="#952C80" stroke-width="3.8"/>
<circle cx="747.5" cy="580.0" r="4.8" fill="#fff" stroke="#952C80" stroke-width="5.2"/>
<line x1="716.7" y1="604.0" x2="844.1" y2="604.0" stroke="#000004" stroke-width="3.8"/>
<circle cx="768.9" cy="604.0" r="4.8" fill="#fff" stroke="#000004" stroke-width="5.2"/>
<line x1="676.5" y1="632.0" x2="1173.1" y2="632.0" stroke="#999" stroke-width="1.6"/>
<line x1="677.3" y1="632.0" x2="677.3" y2="624.0" stroke="#999" stroke-width="1.6"/>
<text x="658.5" y="654.2" font-size="23" font-weight="bold" stroke="#000" stroke-width="0.6" stroke-linejoin="round" textLength="37.6" lengthAdjust="spacingAndGlyphs" >0.00</text>
<line x1="801.0" y1="632.0" x2="801.0" y2="624.0" stroke="#999" stroke-width="1.6"/>
<text x="783.4" y="654.2" font-size="23" font-weight="bold" stroke="#000" stroke-width="0.6" stroke-linejoin="round" textLength="35.2" lengthAdjust="spacingAndGlyphs" >0.25</text>
<line x1="924.8" y1="632.0" x2="924.8" y2="624.0" stroke="#999" stroke-width="1.6"/>
<text x="906.9" y="654.2" font-size="23" font-weight="bold" stroke="#000" stroke-width="0.6" stroke-linejoin="round" textLength="35.8" lengthAdjust="spacingAndGlyphs" >0.50</text>
<line x1="1048.5" y1="632.0" x2="1048.5" y2="624.0" stroke="#999" stroke-width="1.6"/>
<text x="1031.5" y="654.2" font-size="23" font-weight="bold" stroke="#000" stroke-width="0.6" stroke-linejoin="round" textLength="34.2" lengthAdjust="spacingAndGlyphs" >0.75</text>
<line x1="1172.3" y1="632.0" x2="1172.3" y2="624.0" stroke="#999" stroke-width="1.6"/>
<text x="1154.5" y="654.2" font-size="23" font-weight="bold" stroke="#000" stroke-width="0.6" stroke-linejoin="round" textLength="35.0" lengthAdjust="spacingAndGlyphs" >1.00</text>
<line x1="1358.7" y1="285.0" x2="1358.7" y2="632.0" stroke="#000" stroke-opacity="0.3" stroke-width="3.6"/>
<path d="M1286.1,539.2 L1286.8,539.2 L1287.4,539.2 L1288.1,539.2 L1288.7,539.1 L1289.4,539.1 L1290.1,539.1 L1290.7,539.0 L1291.4,539.0 L1292.0,538.9 L1292.7,538.9 L1293.4,538.9 L1294.0,538.8 L1294.7,538.8 L1295.3,538.7 L1296.0,538.6 L1296.7,538.6 L1297.3,538.5 L1298.0,538.4 L1298.6,538.3 L1299.3,538.2 L1299.9,538.0 L1300.6,537.9 L1301.3,537.8 L1301.9,537.6 L1302.6,537.4 L1303.2,537.2 L1303.9,537.0 L1304.5,536.8 L1305.2,536.6 L1305.9,536.3 L1306.5,536.1 L1307.2,535.8 L1307.8,535.5 L1308.5,535.2 L1309.1,534.8 L1309.8,534.5 L1310.4,534.1 L1311.0,533.7 L1311.7,533.3 L1312.3,532.9 L1313.0,532.4 L1313.6,532.0 L1314.3,531.5 L1315.0,531.0 L1315.6,530.4 L1316.3,529.9 L1316.9,529.3 L1317.6,528.7 L1318.2,528.0 L1318.9,527.4 L1319.5,526.7 L1320.2,525.9 L1320.9,525.2 L1321.5,524.4 L1322.2,523.5 L1322.8,522.7 L1323.5,521.8 L1324.1,520.9 L1324.8,519.9 L1325.4,518.9 L1326.1,517.9 L1326.8,516.9 L1327.4,515.8 L1328.1,514.8 L1328.7,513.7 L1329.4,512.5 L1330.1,511.4 L1330.7,510.2 L1331.4,509.0 L1332.0,507.8 L1332.7,506.6 L1333.4,505.4 L1334.0,504.1 L1334.7,502.9 L1335.3,501.6 L1336.0,500.3 L1336.7,499.0 L1337.3,497.7 L1338.0,496.4 L1338.6,495.0 L1339.3,493.7 L1339.9,492.3 L1340.6,490.9 L1341.3,489.5 L1341.9,488.1 L1342.6,486.6 L1343.2,485.2 L1343.9,483.7 L1344.6,482.2 L1345.2,480.8 L1345.9,479.3 L1346.5,477.8 L1347.2,476.3 L1347.9,474.8 L1348.5,473.3 L1349.2,471.7 L1349.8,470.2 L1350.5,468.7 L1351.2,467.2 L1351.8,465.7 L1352.5,464.1 L1353.1,462.6 L1353.8,461.1 L1354.5,459.6 L1355.1,458.1 L1355.8,456.6 L1356.4,455.1 L1357.1,453.7 L1357.8,452.2 L1358.4,450.7 L1359.1,449.3 L1359.7,447.9 L1360.4,446.4 L1361.1,445.0 L1361.7,443.7 L1362.4,442.3 L1363.1,440.9 L1363.7,439.6 L1364.4,438.3 L1365.0,437.0 L1365.7,435.8 L1366.4,434.5 L1367.0,433.3 L1367.7,432.1 L1368.3,430.9 L1369.0,429.8 L1369.7,428.7 L1370.3,427.6 L1371.0,426.6 L1371.6,425.5 L1372.3,424.6 L1373.0,423.6 L1373.6,422.7 L1374.3,421.8 L1375.0,420.9 L1375.6,420.1 L1376.3,419.3 L1377.0,418.6 L1377.6,417.9 L1378.3,417.2 L1379.0,416.6 L1379.6,416.0 L1380.3,415.5 L1381.0,415.0 L1381.6,414.5 L1382.3,414.1 L1383.0,413.7 L1383.7,413.4 L1384.3,413.1 L1385.0,412.9 L1385.7,412.7 L1386.4,412.6 L1387.1,412.5 L1387.7,412.5 L1388.4,412.5 L1389.1,412.6 L1389.8,412.7 L1390.5,412.8 L1391.1,413.0 L1391.8,413.2 L1392.5,413.5 L1393.1,413.8 L1393.8,414.1 L1394.5,414.4 L1395.1,414.7 L1395.8,415.1 L1396.5,415.5 L1397.1,415.9 L1397.8,416.4 L1398.5,416.8 L1399.1,417.3 L1399.8,417.8 L1400.5,418.4 L1401.1,418.9 L1401.8,419.5 L1402.5,420.1 L1403.1,420.8 L1403.8,421.4 L1404.5,422.1 L1405.1,422.8 L1405.8,423.5 L1406.4,424.3 L1407.1,425.1 L1407.8,425.9 L1408.4,426.7 L1409.1,427.5 L1409.8,428.4 L1410.4,429.2 L1411.1,430.1 L1411.7,431.0 L1412.4,431.9 L1413.1,432.8 L1413.7,433.7 L1414.4,434.7 L1415.0,435.6 L1415.7,436.6 L1416.4,437.5 L1417.0,438.5 L1417.7,439.4 L1418.3,440.4 L1419.0,441.4 L1419.7,442.3 L1420.3,443.3 L1421.0,444.3 L1421.7,445.3 L1422.3,446.3 L1423.0,447.4 L1423.6,448.4 L1424.3,449.4 L1425.0,450.5 L1425.6,451.6 L1426.3,452.7 L1426.9,453.8 L1427.6,454.9 L1428.3,456.0 L1428.9,457.2 L1429.6,458.3 L1430.2,459.5 L1430.9,460.6 L1431.6,461.8 L1432.2,462.9 L1432.9,464.1 L1433.5,465.3 L1434.2,466.4 L1434.9,467.6 L1435.5,468.8 L1436.2,469.9 L1436.8,471.1 L1437.5,472.2 L1438.2,473.4 L1438.8,474.5 L1439.5,475.6 L1440.1,476.8 L1440.8,477.9 L1441.5,479.0 L1442.1,480.1 L1442.8,481.2 L1443.4,482.3 L1444.1,483.4 L1444.8,484.4 L1445.4,485.5 L1446.1,486.6 L1446.7,487.6 L1447.4,488.6 L1448.1,489.7 L1448.7,490.7 L1449.4,491.7 L1450.0,492.7 L1450.7,493.6 L1451.3,494.6 L1452.0,495.6 L1452.7,496.5 L1453.3,497.4 L1454.0,498.4 L1454.6,499.3 L1455.3,500.2 L1456.0,501.0 L1456.6,501.9 L1457.3,502.8 L1457.9,503.6 L1458.6,504.5 L1459.3,505.3 L1459.9,506.1 L1460.6,506.9 L1461.2,507.7 L1461.9,508.4 L1462.5,509.2 L1463.2,509.9 L1463.9,510.7 L1464.5,511.4 L1465.2,512.1 L1465.8,512.8 L1466.5,513.5 L1467.2,514.2 L1467.8,514.8 L1468.5,515.5 L1469.1,516.1 L1469.8,516.7 L1470.4,517.3 L1471.1,517.9 L1471.8,518.5 L1472.4,519.1 L1473.1,519.6 L1473.7,520.2 L1474.4,520.7 L1475.0,521.2 L1475.7,521.7 L1476.4,522.2 L1477.0,522.7 L1477.7,523.2 L1478.3,523.7 L1479.0,524.1 L1479.6,524.6 L1480.3,525.0 L1481.0,525.4 L1481.6,525.9 L1482.3,526.3 L1482.9,526.7 L1483.6,527.0 L1484.2,527.4 L1484.9,527.8 L1485.6,528.1 L1486.2,528.5 L1486.9,528.8 L1487.5,529.2 L1488.2,529.5 L1488.8,529.8 L1489.5,530.1 L1490.2,530.4 L1490.8,530.7 L1491.5,531.0 L1492.1,531.2 L1492.8,531.5 L1493.4,531.8 L1494.1,532.0 L1494.8,532.3 L1495.4,532.5 L1496.1,532.7 L1496.7,532.9 L1497.4,533.2 L1498.0,533.4 L1498.7,533.6 L1499.4,533.8 L1500.0,534.0 L1500.7,534.2 L1501.3,534.4 L1502.0,534.6 L1502.6,534.7 L1503.3,534.9 L1503.9,535.1 L1504.6,535.2 L1505.3,535.4 L1505.9,535.5 L1506.6,535.7 L1507.2,535.8 L1507.9,536.0 L1508.5,536.1 L1509.2,536.2 L1509.9,536.3 L1510.5,536.5 L1511.2,536.6 L1511.8,536.7 L1512.5,536.8 L1513.2,536.9 L1513.8,537.0 L1514.5,537.1 L1515.1,537.2 L1515.8,537.3 L1516.5,537.4 L1517.1,537.4 L1517.8,537.5 L1518.4,537.6 L1519.1,537.7 L1519.7,537.7 L1520.4,537.8 L1521.1,537.9 L1521.7,537.9 L1522.4,538.0 L1523.0,538.0 L1523.7,538.1 L1524.4,538.2 L1525.0,538.2 L1525.7,538.3 L1526.3,538.3 L1527.0,538.4 L1527.7,538.4 L1528.3,538.4 L1529.0,538.5 L1529.6,538.5 L1530.3,538.6 L1531.0,538.6 L1531.6,538.6 L1532.3,538.7 L1532.9,538.7 L1533.6,538.7 L1534.3,538.7 L1534.9,538.8 L1535.6,538.8 L1536.2,538.8 L1536.9,538.8 L1537.6,538.9 L1538.2,538.9 L1538.9,538.9 L1539.5,538.9 L1540.2,538.9 L1540.9,539.0 L1541.5,539.0 L1542.2,539.0 L1542.8,539.0 L1543.5,539.0 L1544.2,539.0 L1544.8,539.1 L1545.5,539.1 L1546.1,539.1 L1546.8,539.1 L1547.5,539.2 L1548.1,539.2 L1548.8,539.2 L1549.4,539.2 L1550.1,539.2 L1550.8,539.2 L1551.4,539.1 L1552.1,539.1 L1552.7,539.1 L1553.4,539.1 L1554.1,539.1 L1554.7,539.1 L1555.4,539.1 L1556.0,539.1 L1556.7,539.1 L1557.4,539.1 L1558.0,539.1 L1558.7,539.2 L1559.3,539.2 L1560.0,539.2 L1560.7,539.2 L1561.3,539.3 L1562.0,539.3 L1562.6,539.3 L1563.3,539.3 L1564.0,539.3 L1564.6,539.3 L1565.0,539.3 L1565.0,539.3 L1286.1,539.3 Z" fill="#00000E" fill-opacity="0.212"/>
<path d="M1286.1,539.2 L1286.8,539.2 L1287.4,539.2 L1288.1,539.2 L1288.7,539.1 L1289.4,539.1 L1290.1,539.1 L1290.7,539.0 L1291.4,539.0 L1292.0,539.0 L1292.7,538.9 L1293.4,538.9 L1294.0,538.8 L1294.7,538.8 L1295.3,538.7 L1296.0,538.7 L1296.7,538.6 L1297.3,538.5 L1298.0,538.4 L1298.6,538.3 L1299.3,538.2 L1300.0,538.1 L1300.6,538.0 L1301.3,537.8 L1301.9,537.7 L1302.6,537.5 L1303.3,537.3 L1303.9,537.1 L1304.6,536.9 L1305.2,536.7 L1305.9,536.5 L1306.6,536.2 L1307.2,535.9 L1307.9,535.7 L1308.5,535.3 L1309.2,535.0 L1309.9,534.7 L1310.5,534.3 L1311.2,533.9 L1311.8,533.5 L1312.5,533.1 L1313.2,532.7 L1313.8,532.2 L1314.5,531.7 L1315.1,531.2 L1315.8,530.7 L1316.5,530.1 L1317.1,529.5 L1317.8,528.9 L1318.4,528.2 L1319.1,527.6 L1319.8,526.9 L1320.4,526.1 L1321.1,525.4 L1321.7,524.6 L1322.4,523.7 L1323.1,522.9 L1323.7,522.0 L1324.4,521.0 L1325.0,520.1 L1325.7,519.1 L1326.4,518.1 L1327.0,517.1 L1327.7,516.0 L1328.3,514.9 L1329.0,513.8 L1329.7,512.7 L1330.3,511.5 L1331.0,510.4 L1331.6,509.2 L1332.3,508.0 L1333.0,506.8 L1333.6,505.5 L1334.3,504.3 L1334.9,503.0 L1335.6,501.7 L1336.3,500.5 L1336.9,499.2 L1337.6,497.8 L1338.2,496.5 L1338.9,495.1 L1339.6,493.8 L1340.2,492.4 L1340.9,491.0 L1341.5,489.6 L1342.2,488.2 L1342.9,486.7 L1343.5,485.3 L1344.2,483.8 L1344.8,482.4 L1345.5,480.9 L1346.2,479.4 L1346.8,477.9 L1347.5,476.4 L1348.1,474.9 L1348.8,473.4 L1349.5,471.9 L1350.1,470.3 L1350.8,468.8 L1351.4,467.3 L1352.1,465.8 L1352.8,464.3 L1353.4,462.7 L1354.1,461.2 L1354.7,459.7 L1355.4,458.2 L1356.1,456.7 L1356.7,455.2 L1357.4,453.8 L1358.0,452.3 L1358.7,450.9 L1359.4,449.4 L1360.0,448.0 L1360.7,446.6 L1361.3,445.2 L1362.0,443.8 L1362.7,442.4 L1363.3,441.1 L1364.0,439.8 L1364.6,438.4 L1365.3,437.2 L1366.0,435.9 L1366.6,434.7 L1367.3,433.4 L1367.9,432.3 L1368.6,431.1 L1369.3,430.0 L1369.9,428.9 L1370.6,427.8 L1371.2,426.7 L1371.9,425.7 L1372.6,424.7 L1373.2,423.8 L1373.9,422.8 L1374.5,422.0 L1375.2,421.1 L1375.9,420.3 L1376.5,419.5 L1377.2,418.8 L1377.8,418.1 L1378.5,417.4 L1379.2,416.8 L1379.8,416.2 L1380.5,415.7 L1381.1,415.2 L1381.8,414.8 L1382.5,414.4 L1383.1,414.0 L1383.8,413.7 L1384.4,413.4 L1385.1,413.2 L1385.8,413.0 L1386.4,412.9 L1387.1,412.8 L1387.7,412.8 L1388.4,412.8 L1389.1,412.9 L1389.7,413.0 L1390.4,413.1 L1391.0,413.3 L1391.7,413.5 L1392.4,413.8 L1393.0,414.0 L1393.7,414.3 L1394.3,414.6 L1395.0,415.0 L1395.7,415.4 L1396.3,415.8 L1397.0,416.2 L1397.6,416.6 L1398.3,417.1 L1399.0,417.6 L1399.6,418.1 L1400.3,418.6 L1400.9,419.2 L1401.6,419.7 L1402.3,420.4 L1402.9,421.0 L1403.6,421.6 L1404.2,422.3 L1404.9,423.0 L1405.6,423.7 L1406.2,424.5 L1406.9,425.3 L1407.5,426.1 L1408.2,426.9 L1408.9,427.7 L1409.5,428.5 L1410.2,429.4 L1410.8,430.3 L1411.5,431.2 L1412.2,432.1 L1412.8,433.0 L1413.5,433.9 L1414.1,434.9 L1414.8,435.8 L1415.5,436.7 L1416.1,437.7 L1416.8,438.6 L1417.4,439.6 L1418.1,440.6 L1418.8,441.5 L1419.4,442.5 L1420.1,443.5 L1420.7,444.5 L1421.4,445.5 L1422.1,446.5 L1422.7,447.5 L1423.4,448.6 L1424.0,449.6 L1424.7,450.7 L1425.4,451.7 L1426.0,452.8 L1426.7,453.9 L1427.3,455.0 L1428.0,456.2 L1428.7,457.3 L1429.3,458.5 L1430.0,459.6 L1430.6,460.8 L1431.3,461.9 L1432.0,463.1 L1432.6,464.3 L1433.3,465.4 L1433.9,466.6 L1434.6,467.8 L1435.3,468.9 L1435.9,470.1 L1436.6,471.2 L1437.2,472.4 L1437.9,473.5 L1438.6,474.7 L1439.2,475.8 L1439.9,476.9 L1440.5,478.0 L1441.2,479.2 L1441.9,480.3 L1442.5,481.4 L1443.2,482.4 L1443.8,483.5 L1444.5,484.6 L1445.2,485.7 L1445.8,486.7 L1446.5,487.8 L1447.1,488.8 L1447.8,489.8 L1448.5,490.8 L1449.1,491.8 L1449.8,492.8 L1450.4,493.8 L1451.1,494.8 L1451.8,495.7 L1452.4,496.7 L1453.1,497.6 L1453.7,498.5 L1454.4,499.4 L1455.1,500.3 L1455.7,501.2 L1456.4,502.1 L1457.0,503.0 L1457.7,503.8 L1458.4,504.6 L1459.0,505.5 L1459.7,506.3 L1460.3,507.1 L1461.0,507.9 L1461.7,508.6 L1462.3,509.4 L1463.0,510.1 L1463.6,510.9 L1464.3,511.6 L1465.0,512.3 L1465.6,513.0 L1466.3,513.7 L1466.9,514.4 L1467.6,515.0 L1468.3,515.7 L1468.9,516.3 L1469.6,516.9 L1470.2,517.5 L1470.9,518.1 L1471.6,518.7 L1472.2,519.3 L1472.9,519.8 L1473.5,520.4 L1474.2,520.9 L1474.9,521.5 L1475.5,522.0 L1476.2,522.5 L1476.8,523.0 L1477.5,523.5 L1478.2,523.9 L1478.8,524.4 L1479.5,524.8 L1480.1,525.3 L1480.8,525.7 L1481.5,526.1 L1482.1,526.5 L1482.8,526.9 L1483.4,527.3 L1484.1,527.7 L1484.8,528.1 L1485.4,528.4 L1486.1,528.8 L1486.7,529.1 L1487.4,529.4 L1488.1,529.8 L1488.7,530.1 L1489.4,530.4 L1490.0,530.7 L1490.7,531.0 L1491.4,531.2 L1492.0,531.5 L1492.7,531.8 L1493.3,532.0 L1494.0,532.3 L1494.7,532.5 L1495.3,532.8 L1496.0,533.0 L1496.6,533.2 L1497.3,533.4 L1498.0,533.7 L1498.6,533.9 L1499.3,534.1 L1499.9,534.2 L1500.6,534.4 L1501.3,534.6 L1501.9,534.8 L1502.6,535.0 L1503.2,535.1 L1503.9,535.3 L1504.6,535.4 L1505.2,535.6 L1505.9,535.7 L1506.5,535.9 L1507.2,536.0 L1507.9,536.1 L1508.5,536.2 L1509.2,536.4 L1509.8,536.5 L1510.5,536.6 L1511.2,536.7 L1511.8,536.8 L1512.5,536.9 L1513.1,537.0 L1513.8,537.1 L1514.5,537.2 L1515.1,537.3 L1515.8,537.4 L1516.4,537.4 L1517.1,537.5 L1517.8,537.6 L1518.4,537.7 L1519.1,537.7 L1519.7,537.8 L1520.4,537.9 L1521.1,537.9 L1521.7,538.0 L1522.4,538.1 L1523.0,538.1 L1523.7,538.2 L1524.4,538.2 L1525.0,538.3 L1525.7,538.3 L1526.3,538.4 L1527.0,538.4 L1527.7,538.4 L1528.3,538.5 L1529.0,538.5 L1529.6,538.6 L1530.3,538.6 L1531.0,538.6 L1531.6,538.7 L1532.3,538.7 L1532.9,538.7 L1533.6,538.7 L1534.3,538.8 L1534.9,538.8 L1535.6,538.8 L1536.2,538.8 L1536.9,538.9 L1537.6,538.9 L1538.2,538.9 L1538.9,538.9 L1539.5,538.9 L1540.2,539.0 L1540.9,539.0 L1541.5,539.0 L1542.2,539.0 L1542.8,539.0 L1543.5,539.0 L1544.2,539.1 L1544.8,539.1 L1545.5,539.1 L1546.1,539.1 L1546.8,539.2 L1547.5,539.2 L1548.1,539.2 L1548.8,539.2 L1549.4,539.2 L1550.1,539.2 L1550.8,539.2 L1551.4,539.1 L1552.1,539.1 L1552.7,539.1 L1553.4,539.1 L1554.1,539.1 L1554.7,539.1 L1555.4,539.1 L1556.0,539.1 L1556.7,539.1 L1557.4,539.1 L1558.0,539.2 L1558.7,539.2 L1559.3,539.2 L1560.0,539.2 L1560.7,539.2 L1561.3,539.3 L1562.0,539.3 L1562.6,539.3 L1563.3,539.3 L1564.0,539.3 L1564.6,539.3 L1565.0,539.3" fill="none" stroke="#00000E" stroke-opacity="0.215" stroke-width="6.2" stroke-linejoin="round"/>
<path d="M1269.6,539.3 L1270.9,539.3 L1272.2,539.3 L1273.6,539.3 L1274.9,539.2 L1276.2,539.2 L1277.5,539.2 L1278.8,539.2 L1280.2,539.2 L1281.5,539.1 L1282.8,539.1 L1284.1,539.1 L1285.4,539.0 L1286.8,539.0 L1288.1,538.9 L1289.4,538.9 L1290.7,538.8 L1292.0,538.8 L1293.4,538.7 L1294.7,538.7 L1296.0,538.6 L1297.3,538.5 L1298.6,538.4 L1300.0,538.3 L1301.3,538.2 L1302.6,538.1 L1303.9,538.0 L1305.2,537.9 L1306.6,537.8 L1307.9,537.7 L1309.2,537.5 L1310.5,537.4 L1311.8,537.2 L1313.1,537.1 L1314.5,536.9 L1315.8,536.8 L1317.1,536.6 L1318.4,536.4 L1319.7,536.2 L1321.1,536.0 L1322.4,535.8 L1323.7,535.6 L1325.0,535.3 L1326.3,535.1 L1327.6,534.9 L1329.0,534.6 L1330.3,534.3 L1331.6,534.1 L1332.9,533.8 L1334.2,533.5 L1335.5,533.2 L1336.9,532.9 L1338.2,532.6 L1339.5,532.3 L1340.8,532.0 L1342.1,531.7 L1343.4,531.4 L1344.8,531.1 L1346.1,530.7 L1347.4,530.4 L1348.7,530.0 L1350.0,529.7 L1351.4,529.3 L1352.7,528.9 L1354.0,528.5 L1355.3,528.1 L1356.6,527.7 L1358.0,527.3 L1359.3,526.9 L1360.6,526.5 L1361.9,526.1 L1363.2,525.7 L1364.5,525.2 L1365.9,524.8 L1367.2,524.3 L1368.5,523.9 L1369.8,523.4 L1371.1,523.0 L1372.5,522.5 L1373.8,522.0 L1375.1,521.6 L1376.4,521.1 L1377.7,520.6 L1379.1,520.1 L1380.4,519.6 L1381.7,519.1 L1383.0,518.6 L1384.3,518.1 L1385.7,517.6 L1387.0,517.1 L1388.3,516.5 L1389.6,516.0 L1390.9,515.5 L1392.2,515.0 L1393.6,514.4 L1394.9,513.9 L1396.2,513.4 L1397.5,512.8 L1398.8,512.3 L1400.2,511.8 L1401.5,511.2 L1402.8,510.7 L1404.1,510.2 L1405.4,509.6 L1406.8,509.1 L1408.1,508.5 L1409.4,507.9 L1410.7,507.4 L1412.0,506.8 L1413.4,506.2 L1414.7,505.6 L1416.0,505.0 L1417.3,504.4 L1418.6,503.9 L1420.0,503.3 L1421.3,502.7 L1422.6,502.1 L1423.9,501.5 L1425.2,500.9 L1426.6,500.3 L1427.9,499.7 L1429.2,499.2 L1430.5,498.6 L1431.8,498.0 L1433.2,497.4 L1434.5,496.8 L1435.8,496.3 L1437.1,495.7 L1438.4,495.1 L1439.8,494.5 L1441.1,494.0 L1442.4,493.4 L1443.7,492.8 L1445.0,492.2 L1446.4,491.6 L1447.7,491.1 L1449.0,490.5 L1450.3,490.0 L1451.7,489.5 L1453.0,489.0 L1454.3,488.6 L1455.6,488.2 L1457.0,487.8 L1458.3,487.4 L1459.6,487.1 L1460.9,486.8 L1462.3,486.6 L1463.6,486.3 L1464.9,486.1 L1466.2,485.9 L1467.6,485.8 L1468.9,485.6 L1470.2,485.4 L1471.5,485.3 L1472.8,485.2 L1474.2,485.0 L1475.5,484.9 L1476.8,484.7 L1478.1,484.6 L1479.4,484.4 L1480.8,484.3 L1482.1,484.1 L1483.4,484.0 L1484.7,483.8 L1486.0,483.7 L1487.4,483.5 L1488.7,483.4 L1490.0,483.3 L1491.3,483.2 L1492.7,483.1 L1494.0,483.0 L1495.3,482.9 L1496.6,482.9 L1497.9,482.8 L1499.3,482.7 L1500.6,482.7 L1501.9,482.6 L1503.2,482.5 L1504.5,482.4 L1505.9,482.3 L1507.2,482.2 L1508.5,482.1 L1509.8,482.0 L1511.1,481.9 L1512.5,481.8 L1513.8,481.7 L1515.1,481.6 L1516.4,481.6 L1517.8,481.6 L1519.1,481.7 L1520.4,481.8 L1521.8,482.0 L1523.1,482.2 L1524.4,482.5 L1525.8,482.8 L1527.1,483.1 L1528.4,483.5 L1529.7,483.8 L1531.0,484.2 L1532.4,484.6 L1533.7,484.9 L1535.0,485.3 L1536.3,485.7 L1537.6,486.1 L1539.0,486.5 L1540.3,486.9 L1541.6,487.4 L1542.9,487.8 L1544.3,488.2 L1545.6,488.7 L1546.9,489.2 L1548.2,489.7 L1549.5,490.1 L1550.9,490.6 L1552.2,491.1 L1553.5,491.6 L1554.8,492.0 L1556.1,492.5 L1557.5,493.0 L1558.8,493.4 L1560.1,493.8 L1561.4,494.2 L1562.7,494.7 L1564.1,495.1 L1565.4,495.5 L1566.7,495.9 L1568.0,496.4 L1569.3,496.8 L1570.7,497.3 L1572.0,497.7 L1573.3,498.2 L1574.6,498.6 L1575.9,499.1 L1577.3,499.6 L1578.6,500.1 L1579.9,500.5 L1581.2,501.0 L1582.5,501.5 L1583.9,502.0 L1585.2,502.5 L1586.5,503.0 L1587.8,503.4 L1589.1,503.9 L1590.5,504.4 L1591.8,504.9 L1593.1,505.4 L1594.4,505.9 L1595.7,506.4 L1597.1,506.9 L1598.4,507.4 L1599.7,507.9 L1601.0,508.4 L1602.3,508.9 L1603.7,509.4 L1605.0,509.9 L1606.3,510.4 L1607.6,510.9 L1608.9,511.4 L1610.3,511.9 L1611.6,512.4 L1612.9,512.9 L1614.2,513.4 L1615.5,513.9 L1616.9,514.4 L1618.2,514.9 L1619.5,515.4 L1620.8,515.9 L1622.1,516.4 L1623.5,516.9 L1624.8,517.4 L1626.1,517.9 L1627.4,518.4 L1628.7,518.9 L1630.1,519.3 L1631.4,519.8 L1632.7,520.3 L1634.0,520.7 L1635.3,521.2 L1636.7,521.7 L1638.0,522.1 L1639.3,522.6 L1640.6,523.0 L1641.9,523.5 L1643.3,523.9 L1644.6,524.3 L1645.9,524.7 L1647.2,525.2 L1648.5,525.6 L1649.8,526.0 L1651.2,526.4 L1652.5,526.8 L1653.8,527.2 L1655.1,527.6 L1656.4,527.9 L1657.8,528.3 L1659.1,528.7 L1660.4,529.0 L1661.7,529.4 L1663.0,529.7 L1664.4,530.1 L1665.7,530.4 L1667.0,530.7 L1668.3,531.0 L1669.6,531.3 L1670.9,531.6 L1672.3,531.9 L1673.6,532.2 L1674.9,532.5 L1676.2,532.7 L1677.5,533.0 L1678.9,533.3 L1680.2,533.6 L1681.5,533.8 L1682.8,534.1 L1684.1,534.4 L1685.4,534.6 L1686.8,534.9 L1688.1,535.1 L1689.4,535.3 L1690.7,535.6 L1692.0,535.8 L1693.3,536.0 L1694.7,536.2 L1696.0,536.4 L1697.3,536.6 L1698.6,536.8 L1699.9,536.9 L1701.3,537.1 L1702.6,537.2 L1703.9,537.4 L1705.2,537.5 L1706.5,537.7 L1707.8,537.8 L1709.2,537.9 L1710.5,538.0 L1711.8,538.1 L1713.1,538.2 L1714.4,538.3 L1715.8,538.4 L1717.1,538.5 L1718.4,538.6 L1719.7,538.7 L1721.0,538.7 L1722.4,538.8 L1723.7,538.8 L1725.0,538.9 L1726.3,538.9 L1727.6,539.0 L1729.0,539.0 L1730.3,539.1 L1731.6,539.1 L1732.9,539.1 L1734.2,539.2 L1735.6,539.2 L1736.9,539.2 L1737.2,539.2 L1737.2,539.3 L1269.6,539.3 Z" fill="#952C80" fill-opacity="0.15"/>
<path d="M1269.6,539.3 L1270.9,539.3 L1272.2,539.3 L1273.6,539.3 L1274.9,539.2 L1276.2,539.2 L1277.5,539.2 L1278.8,539.2 L1280.2,539.2 L1281.5,539.1 L1282.8,539.1 L1284.1,539.1 L1285.4,539.0 L1286.8,539.0 L1288.1,539.0 L1289.4,538.9 L1290.7,538.9 L1292.0,538.8 L1293.4,538.8 L1294.7,538.7 L1296.0,538.6 L1297.3,538.6 L1298.6,538.5 L1300.0,538.4 L1301.3,538.3 L1302.6,538.2 L1303.9,538.1 L1305.2,538.0 L1306.6,537.9 L1307.9,537.8 L1309.2,537.6 L1310.5,537.5 L1311.8,537.3 L1313.2,537.2 L1314.5,537.0 L1315.8,536.9 L1317.1,536.7 L1318.4,536.5 L1319.8,536.3 L1321.1,536.1 L1322.4,535.9 L1323.7,535.7 L1325.0,535.5 L1326.4,535.3 L1327.7,535.1 L1329.0,534.8 L1330.3,534.6 L1331.6,534.3 L1333.0,534.1 L1334.3,533.8 L1335.6,533.5 L1336.9,533.2 L1338.2,532.9 L1339.6,532.6 L1340.9,532.3 L1342.2,532.0 L1343.5,531.7 L1344.8,531.4 L1346.2,531.0 L1347.5,530.7 L1348.8,530.3 L1350.1,529.9 L1351.4,529.6 L1352.8,529.2 L1354.1,528.8 L1355.4,528.4 L1356.7,528.0 L1358.0,527.6 L1359.4,527.2 L1360.7,526.8 L1362.0,526.4 L1363.3,526.0 L1364.6,525.5 L1366.0,525.1 L1367.3,524.6 L1368.6,524.2 L1369.9,523.7 L1371.2,523.3 L1372.6,522.8 L1373.9,522.3 L1375.2,521.8 L1376.5,521.4 L1377.8,520.9 L1379.2,520.4 L1380.5,519.9 L1381.8,519.4 L1383.1,518.9 L1384.4,518.4 L1385.8,517.8 L1387.1,517.3 L1388.4,516.8 L1389.7,516.3 L1391.0,515.8 L1392.4,515.2 L1393.7,514.7 L1395.0,514.2 L1396.3,513.7 L1397.6,513.1 L1399.0,512.6 L1400.3,512.1 L1401.6,511.5 L1402.9,511.0 L1404.2,510.4 L1405.6,509.9 L1406.9,509.3 L1408.2,508.8 L1409.5,508.2 L1410.8,507.6 L1412.2,507.1 L1413.5,506.5 L1414.8,505.9 L1416.1,505.3 L1417.4,504.7 L1418.8,504.1 L1420.1,503.5 L1421.4,502.9 L1422.7,502.4 L1424.0,501.8 L1425.4,501.2 L1426.7,500.6 L1428.0,500.0 L1429.3,499.4 L1430.6,498.8 L1432.0,498.3 L1433.3,497.7 L1434.6,497.1 L1435.9,496.5 L1437.2,496.0 L1438.6,495.4 L1439.9,494.8 L1441.2,494.2 L1442.5,493.7 L1443.8,493.1 L1445.2,492.5 L1446.5,491.9 L1447.8,491.4 L1449.1,490.8 L1450.4,490.3 L1451.8,489.8 L1453.1,489.3 L1454.4,488.9 L1455.7,488.5 L1457.0,488.1 L1458.4,487.7 L1459.7,487.4 L1461.0,487.1 L1462.3,486.9 L1463.6,486.6 L1465.0,486.4 L1466.3,486.2 L1467.6,486.1 L1468.9,485.9 L1470.2,485.7 L1471.6,485.6 L1472.9,485.5 L1474.2,485.3 L1475.5,485.2 L1476.8,485.0 L1478.2,484.9 L1479.5,484.7 L1480.8,484.6 L1482.1,484.4 L1483.4,484.3 L1484.8,484.1 L1486.1,484.0 L1487.4,483.8 L1488.7,483.7 L1490.0,483.6 L1491.4,483.5 L1492.7,483.4 L1494.0,483.3 L1495.3,483.2 L1496.6,483.2 L1498.0,483.1 L1499.3,483.0 L1500.6,483.0 L1501.9,482.9 L1503.2,482.8 L1504.6,482.7 L1505.9,482.6 L1507.2,482.5 L1508.5,482.4 L1509.8,482.3 L1511.2,482.2 L1512.5,482.1 L1513.8,482.0 L1515.1,481.9 L1516.4,481.9 L1517.8,481.9 L1519.1,482.0 L1520.4,482.1 L1521.7,482.3 L1523.0,482.5 L1524.4,482.8 L1525.7,483.1 L1527.0,483.4 L1528.3,483.8 L1529.6,484.1 L1531.0,484.5 L1532.3,484.9 L1533.6,485.2 L1534.9,485.6 L1536.2,486.0 L1537.6,486.4 L1538.9,486.8 L1540.2,487.2 L1541.5,487.6 L1542.8,488.1 L1544.2,488.5 L1545.5,489.0 L1546.8,489.5 L1548.1,489.9 L1549.4,490.4 L1550.8,490.9 L1552.1,491.4 L1553.4,491.9 L1554.7,492.3 L1556.0,492.8 L1557.4,493.2 L1558.7,493.7 L1560.0,494.1 L1561.3,494.5 L1562.6,494.9 L1564.0,495.4 L1565.3,495.8 L1566.6,496.2 L1567.9,496.7 L1569.2,497.1 L1570.6,497.5 L1571.9,498.0 L1573.2,498.4 L1574.5,498.9 L1575.8,499.4 L1577.2,499.9 L1578.5,500.3 L1579.8,500.8 L1581.1,501.3 L1582.4,501.8 L1583.8,502.3 L1585.1,502.8 L1586.4,503.2 L1587.7,503.7 L1589.0,504.2 L1590.4,504.7 L1591.7,505.2 L1593.0,505.7 L1594.3,506.2 L1595.6,506.7 L1597.0,507.2 L1598.3,507.7 L1599.6,508.2 L1600.9,508.7 L1602.2,509.2 L1603.6,509.7 L1604.9,510.2 L1606.2,510.7 L1607.5,511.2 L1608.8,511.7 L1610.2,512.2 L1611.5,512.7 L1612.8,513.2 L1614.1,513.7 L1615.4,514.2 L1616.8,514.7 L1618.1,515.2 L1619.4,515.7 L1620.7,516.2 L1622.0,516.7 L1623.4,517.2 L1624.7,517.7 L1626.0,518.2 L1627.3,518.7 L1628.6,519.1 L1630.0,519.6 L1631.3,520.1 L1632.6,520.6 L1633.9,521.0 L1635.2,521.5 L1636.6,521.9 L1637.9,522.4 L1639.2,522.9 L1640.5,523.3 L1641.8,523.7 L1643.2,524.2 L1644.5,524.6 L1645.8,525.0 L1647.1,525.5 L1648.4,525.9 L1649.8,526.3 L1651.1,526.7 L1652.4,527.1 L1653.7,527.5 L1655.0,527.8 L1656.4,528.2 L1657.7,528.6 L1659.0,529.0 L1660.3,529.3 L1661.6,529.7 L1663.0,530.0 L1664.3,530.3 L1665.6,530.7 L1666.9,531.0 L1668.2,531.3 L1669.6,531.6 L1670.9,531.9 L1672.2,532.2 L1673.5,532.5 L1674.8,532.8 L1676.2,533.0 L1677.5,533.3 L1678.8,533.6 L1680.1,533.8 L1681.4,534.1 L1682.8,534.3 L1684.1,534.6 L1685.4,534.8 L1686.7,535.1 L1688.0,535.3 L1689.4,535.5 L1690.7,535.7 L1692.0,535.9 L1693.3,536.1 L1694.6,536.3 L1696.0,536.5 L1697.3,536.7 L1698.6,536.9 L1699.9,537.0 L1701.2,537.2 L1702.6,537.3 L1703.9,537.5 L1705.2,537.6 L1706.5,537.8 L1707.8,537.9 L1709.2,538.0 L1710.5,538.1 L1711.8,538.2 L1713.1,538.3 L1714.4,538.4 L1715.8,538.5 L1717.1,538.6 L1718.4,538.6 L1719.7,538.7 L1721.0,538.8 L1722.4,538.8 L1723.7,538.9 L1725.0,538.9 L1726.3,539.0 L1727.6,539.0 L1729.0,539.0 L1730.3,539.1 L1731.6,539.1 L1732.9,539.1 L1734.2,539.2 L1735.6,539.2 L1736.9,539.2 L1737.2,539.2" fill="none" stroke="#952C80" stroke-opacity="0.13" stroke-width="6.2" stroke-linejoin="round"/>
<path d="M1269.6,539.3 L1270.9,539.3 L1272.2,539.3 L1273.6,539.3 L1274.9,539.3 L1276.2,539.3 L1277.5,539.3 L1278.8,539.3 L1280.2,539.3 L1281.5,539.3 L1282.8,539.3 L1284.1,539.3 L1285.4,539.3 L1286.8,539.3 L1288.1,539.3 L1289.4,539.3 L1290.7,539.3 L1292.0,539.3 L1293.4,539.3 L1294.7,539.3 L1296.0,539.3 L1297.3,539.3 L1298.6,539.2 L1300.0,539.2 L1301.3,539.2 L1302.6,539.2 L1303.9,539.2 L1305.2,539.2 L1306.6,539.2 L1307.9,539.2 L1309.2,539.2 L1310.5,539.2 L1311.8,539.2 L1313.2,539.2 L1314.5,539.2 L1315.8,539.2 L1317.1,539.2 L1318.4,539.2 L1319.8,539.2 L1321.1,539.2 L1322.4,539.1 L1323.7,539.1 L1325.0,539.1 L1326.4,539.1 L1327.7,539.1 L1329.0,539.1 L1330.3,539.1 L1331.6,539.1 L1333.0,539.1 L1334.3,539.0 L1335.6,539.0 L1336.9,539.0 L1338.2,539.0 L1339.6,539.0 L1340.9,539.0 L1342.2,539.0 L1343.5,539.0 L1344.8,538.9 L1346.2,538.9 L1347.5,538.9 L1348.8,538.9 L1350.1,538.9 L1351.4,538.9 L1352.8,538.9 L1354.1,538.8 L1355.4,538.8 L1356.7,538.8 L1358.0,538.8 L1359.4,538.8 L1360.7,538.8 L1362.0,538.7 L1363.3,538.7 L1364.6,538.7 L1366.0,538.7 L1367.3,538.7 L1368.6,538.6 L1369.9,538.6 L1371.2,538.6 L1372.6,538.6 L1373.9,538.5 L1375.2,538.5 L1376.5,538.5 L1377.8,538.5 L1379.2,538.4 L1380.5,538.4 L1381.8,538.4 L1383.1,538.4 L1384.4,538.3 L1385.8,538.3 L1387.1,538.3 L1388.4,538.3 L1389.7,538.2 L1391.0,538.2 L1392.4,538.2 L1393.7,538.1 L1395.0,538.1 L1396.3,538.1 L1397.6,538.0 L1399.0,538.0 L1400.3,538.0 L1401.6,537.9 L1402.9,537.9 L1404.2,537.9 L1405.6,537.8 L1406.9,537.8 L1408.2,537.8 L1409.5,537.7 L1410.8,537.7 L1412.2,537.7 L1413.5,537.6 L1414.8,537.6 L1416.1,537.5 L1417.4,537.5 L1418.8,537.5 L1420.1,537.4 L1421.4,537.4 L1422.7,537.3 L1424.0,537.3 L1425.4,537.2 L1426.7,537.2 L1428.0,537.2 L1429.3,537.1 L1430.6,537.1 L1432.0,537.0 L1433.3,537.0 L1434.6,536.9 L1435.9,536.9 L1437.2,536.8 L1438.6,536.8 L1439.9,536.7 L1441.2,536.7 L1442.5,536.6 L1443.8,536.5 L1445.2,536.5 L1446.5,536.4 L1447.8,536.4 L1449.1,536.3 L1450.4,536.3 L1451.8,536.2 L1453.1,536.1 L1454.4,536.1 L1455.7,536.0 L1457.0,536.0 L1458.4,535.9 L1459.7,535.8 L1461.0,535.8 L1462.3,535.7 L1463.6,535.6 L1465.0,535.6 L1466.3,535.5 L1467.6,535.4 L1468.9,535.3 L1470.2,535.3 L1471.5,535.2 L1472.9,535.1 L1474.2,535.1 L1475.5,535.0 L1476.8,534.9 L1478.1,534.8 L1479.5,534.7 L1480.8,534.7 L1482.1,534.6 L1483.4,534.5 L1484.7,534.4 L1486.1,534.3 L1487.4,534.2 L1488.7,534.2 L1490.0,534.1 L1491.3,534.0 L1492.7,533.9 L1494.0,533.8 L1495.3,533.7 L1496.6,533.6 L1497.9,533.5 L1499.3,533.4 L1500.6,533.3 L1501.9,533.2 L1503.2,533.1 L1504.5,533.0 L1505.9,532.9 L1507.2,532.8 L1508.5,532.7 L1509.8,532.6 L1511.1,532.5 L1512.5,532.4 L1513.8,532.3 L1515.1,532.2 L1516.4,532.1 L1517.7,532.0 L1519.1,531.9 L1520.4,531.8 L1521.7,531.7 L1523.0,531.6 L1524.3,531.5 L1525.7,531.3 L1527.0,531.2 L1528.3,531.1 L1529.6,531.0 L1530.9,530.9 L1532.3,530.7 L1533.6,530.6 L1534.9,530.5 L1536.2,530.4 L1537.5,530.2 L1538.9,530.1 L1540.2,530.0 L1541.5,529.8 L1542.8,529.7 L1544.1,529.6 L1545.4,529.4 L1546.8,529.3 L1548.1,529.1 L1549.4,529.0 L1550.7,528.8 L1552.0,528.7 L1553.4,528.5 L1554.7,528.4 L1556.0,528.2 L1557.3,528.1 L1558.6,527.9 L1560.0,527.7 L1561.3,527.6 L1562.6,527.4 L1563.9,527.3 L1565.2,527.1 L1566.6,526.9 L1567.9,526.7 L1569.2,526.6 L1570.5,526.4 L1571.8,526.2 L1573.2,526.0 L1574.5,525.8 L1575.8,525.7 L1577.1,525.5 L1578.4,525.3 L1579.8,525.1 L1581.1,524.9 L1582.4,524.7 L1583.7,524.5 L1585.0,524.3 L1586.4,524.1 L1587.7,523.9 L1589.0,523.6 L1590.3,523.4 L1591.6,523.2 L1592.9,523.0 L1594.3,522.8 L1595.6,522.5 L1596.9,522.3 L1598.2,522.1 L1599.5,521.8 L1600.9,521.6 L1602.2,521.3 L1603.5,521.1 L1604.8,520.8 L1606.1,520.6 L1607.5,520.3 L1608.8,520.1 L1610.1,519.8 L1611.4,519.5 L1612.7,519.2 L1614.1,519.0 L1615.4,518.7 L1616.7,518.4 L1618.0,518.1 L1619.3,517.8 L1620.7,517.5 L1622.0,517.2 L1623.3,516.9 L1624.6,516.6 L1625.9,516.3 L1627.2,515.9 L1628.6,515.6 L1629.9,515.3 L1631.2,514.9 L1632.5,514.6 L1633.8,514.2 L1635.2,513.9 L1636.5,513.5 L1637.8,513.1 L1639.1,512.8 L1640.4,512.4 L1641.8,512.0 L1643.1,511.6 L1644.4,511.2 L1645.7,510.8 L1647.0,510.4 L1648.3,509.9 L1649.7,509.5 L1651.0,509.1 L1652.3,508.6 L1653.6,508.2 L1654.9,507.7 L1656.3,507.2 L1657.6,506.7 L1658.9,506.2 L1660.2,505.7 L1661.5,505.2 L1662.8,504.7 L1664.2,504.2 L1665.5,503.6 L1666.8,503.1 L1668.1,502.5 L1669.4,501.9 L1670.8,501.3 L1672.1,500.7 L1673.4,500.1 L1674.7,499.4 L1676.0,498.8 L1677.3,498.1 L1678.7,497.4 L1680.0,496.7 L1681.3,496.0 L1682.6,495.3 L1683.9,494.5 L1685.2,493.7 L1686.6,492.9 L1687.9,492.1 L1689.2,491.2 L1690.5,490.4 L1691.8,489.5 L1693.1,488.5 L1694.5,487.6 L1695.8,486.6 L1697.1,485.6 L1698.4,484.5 L1699.7,483.4 L1701.0,482.3 L1702.4,481.1 L1703.7,479.9 L1705.0,478.7 L1706.3,477.4 L1707.6,476.0 L1708.9,474.6 L1710.3,473.1 L1711.6,471.5 L1712.9,469.9 L1714.2,468.2 L1715.5,466.4 L1716.8,464.5 L1718.1,462.5 L1719.5,460.4 L1720.8,458.1 L1722.1,455.6 L1723.4,453.0 L1724.7,450.0 L1726.0,446.8 L1727.4,443.2 L1728.7,439.1 L1730.0,434.5 L1731.3,429.2 L1732.6,423.3 L1733.9,416.8 L1735.3,409.5 L1736.6,401.7 L1737.9,393.3 L1739.2,384.6 L1740.5,375.7 L1741.9,366.9 L1743.2,358.4 L1744.5,350.8 L1745.8,344.4 L1747.2,339.6 L1748.5,336.1 L1749.8,332.9 L1751.1,328.8 L1752.6,325.1 L1754.3,327.9 L1754.7,333.5 L1754.7,539.3 L1269.6,539.3 Z" fill="#F6B27B" fill-opacity="0.13"/>
<path d="M1269.6,539.3 L1270.9,539.3 L1272.2,539.3 L1273.6,539.3 L1274.9,539.3 L1276.2,539.3 L1277.5,539.3 L1278.8,539.3 L1280.2,539.3 L1281.5,539.3 L1282.8,539.3 L1284.1,539.3 L1285.4,539.3 L1286.8,539.3 L1288.1,539.3 L1289.4,539.3 L1290.7,539.3 L1292.0,539.3 L1293.4,539.3 L1294.7,539.3 L1296.0,539.3 L1297.3,539.3 L1298.6,539.2 L1300.0,539.2 L1301.3,539.2 L1302.6,539.2 L1303.9,539.2 L1305.2,539.2 L1306.6,539.2 L1307.9,539.2 L1309.2,539.2 L1310.5,539.2 L1311.8,539.2 L1313.2,539.2 L1314.5,539.2 L1315.8,539.2 L1317.1,539.2 L1318.4,539.2 L1319.8,539.2 L1321.1,539.2 L1322.4,539.2 L1323.7,539.1 L1325.0,539.1 L1326.4,539.1 L1327.7,539.1 L1329.0,539.1 L1330.3,539.1 L1331.6,539.1 L1333.0,539.1 L1334.3,539.1 L1335.6,539.0 L1336.9,539.0 L1338.2,539.0 L1339.6,539.0 L1340.9,539.0 L1342.2,539.0 L1343.5,539.0 L1344.8,539.0 L1346.2,538.9 L1347.5,538.9 L1348.8,538.9 L1350.1,538.9 L1351.4,538.9 L1352.8,538.9 L1354.1,538.9 L1355.4,538.8 L1356.7,538.8 L1358.0,538.8 L1359.4,538.8 L1360.7,538.8 L1362.0,538.8 L1363.3,538.7 L1364.6,538.7 L1366.0,538.7 L1367.3,538.7 L1368.6,538.7 L1369.9,538.6 L1371.2,538.6 L1372.6,538.6 L1373.9,538.6 L1375.2,538.6 L1376.5,538.5 L1377.8,538.5 L1379.2,538.5 L1380.5,538.5 L1381.8,538.4 L1383.1,538.4 L1384.4,538.4 L1385.8,538.4 L1387.1,538.3 L1388.4,538.3 L1389.7,538.3 L1391.0,538.3 L1392.4,538.2 L1393.7,538.2 L1395.0,538.2 L1396.3,538.1 L1397.6,538.1 L1399.0,538.1 L1400.3,538.0 L1401.6,538.0 L1402.9,538.0 L1404.2,537.9 L1405.6,537.9 L1406.9,537.9 L1408.2,537.8 L1409.5,537.8 L1410.8,537.8 L1412.2,537.7 L1413.5,537.7 L1414.8,537.7 L1416.1,537.6 L1417.4,537.6 L1418.8,537.5 L1420.1,537.5 L1421.4,537.5 L1422.7,537.4 L1424.0,537.4 L1425.4,537.3 L1426.7,537.3 L1428.0,537.3 L1429.3,537.2 L1430.6,537.2 L1432.0,537.1 L1433.3,537.1 L1434.6,537.0 L1435.9,537.0 L1437.2,536.9 L1438.6,536.9 L1439.9,536.8 L1441.2,536.8 L1442.5,536.7 L1443.8,536.7 L1445.2,536.6 L1446.5,536.6 L1447.8,536.5 L1449.1,536.5 L1450.4,536.4 L1451.8,536.3 L1453.1,536.3 L1454.4,536.2 L1455.7,536.2 L1457.0,536.1 L1458.4,536.0 L1459.7,536.0 L1461.0,535.9 L1462.3,535.9 L1463.6,535.8 L1465.0,535.7 L1466.3,535.7 L1467.6,535.6 L1468.9,535.5 L1470.2,535.5 L1471.6,535.4 L1472.9,535.3 L1474.2,535.3 L1475.5,535.2 L1476.8,535.1 L1478.2,535.0 L1479.5,535.0 L1480.8,534.9 L1482.1,534.8 L1483.4,534.7 L1484.8,534.7 L1486.1,534.6 L1487.4,534.5 L1488.7,534.4 L1490.0,534.3 L1491.4,534.2 L1492.7,534.2 L1494.0,534.1 L1495.3,534.0 L1496.6,533.9 L1498.0,533.8 L1499.3,533.7 L1500.6,533.6 L1501.9,533.5 L1503.2,533.4 L1504.6,533.3 L1505.9,533.2 L1507.2,533.1 L1508.5,533.0 L1509.8,532.9 L1511.2,532.8 L1512.5,532.7 L1513.8,532.6 L1515.1,532.5 L1516.4,532.4 L1517.8,532.3 L1519.1,532.2 L1520.4,532.1 L1521.7,532.0 L1523.0,531.9 L1524.4,531.8 L1525.7,531.6 L1527.0,531.5 L1528.3,531.4 L1529.6,531.3 L1531.0,531.2 L1532.3,531.0 L1533.6,530.9 L1534.9,530.8 L1536.2,530.7 L1537.6,530.5 L1538.9,530.4 L1540.2,530.3 L1541.5,530.1 L1542.8,530.0 L1544.2,529.8 L1545.5,529.7 L1546.8,529.6 L1548.1,529.4 L1549.4,529.3 L1550.8,529.1 L1552.1,529.0 L1553.4,528.8 L1554.7,528.7 L1556.0,528.5 L1557.4,528.4 L1558.7,528.2 L1560.0,528.0 L1561.3,527.9 L1562.6,527.7 L1564.0,527.6 L1565.3,527.4 L1566.6,527.2 L1567.9,527.0 L1569.2,526.9 L1570.6,526.7 L1571.9,526.5 L1573.2,526.3 L1574.5,526.1 L1575.8,525.9 L1577.2,525.8 L1578.5,525.6 L1579.8,525.4 L1581.1,525.2 L1582.4,525.0 L1583.8,524.8 L1585.1,524.6 L1586.4,524.4 L1587.7,524.1 L1589.0,523.9 L1590.4,523.7 L1591.7,523.5 L1593.0,523.3 L1594.3,523.0 L1595.6,522.8 L1597.0,522.6 L1598.3,522.4 L1599.6,522.1 L1600.9,521.9 L1602.2,521.6 L1603.6,521.4 L1604.9,521.1 L1606.2,520.9 L1607.5,520.6 L1608.8,520.3 L1610.2,520.1 L1611.5,519.8 L1612.8,519.5 L1614.1,519.3 L1615.4,519.0 L1616.8,518.7 L1618.1,518.4 L1619.4,518.1 L1620.7,517.8 L1622.0,517.5 L1623.4,517.2 L1624.7,516.9 L1626.0,516.5 L1627.3,516.2 L1628.6,515.9 L1630.0,515.6 L1631.3,515.2 L1632.6,514.9 L1633.9,514.5 L1635.2,514.2 L1636.6,513.8 L1637.9,513.4 L1639.2,513.0 L1640.5,512.7 L1641.8,512.3 L1643.2,511.9 L1644.5,511.5 L1645.8,511.1 L1647.1,510.6 L1648.4,510.2 L1649.8,509.8 L1651.1,509.3 L1652.4,508.9 L1653.7,508.4 L1655.0,508.0 L1656.4,507.5 L1657.7,507.0 L1659.0,506.5 L1660.3,506.0 L1661.6,505.5 L1663.0,505.0 L1664.3,504.4 L1665.6,503.9 L1666.9,503.3 L1668.2,502.8 L1669.6,502.2 L1670.9,501.6 L1672.2,501.0 L1673.5,500.3 L1674.8,499.7 L1676.2,499.0 L1677.5,498.4 L1678.8,497.7 L1680.1,497.0 L1681.4,496.3 L1682.8,495.5 L1684.1,494.8 L1685.4,494.0 L1686.7,493.2 L1688.0,492.3 L1689.4,491.5 L1690.7,490.6 L1692.0,489.7 L1693.3,488.8 L1694.6,487.8 L1696.0,486.8 L1697.3,485.8 L1698.6,484.8 L1699.9,483.7 L1701.2,482.5 L1702.6,481.4 L1703.9,480.2 L1705.2,478.9 L1706.5,477.6 L1707.8,476.2 L1709.2,474.8 L1710.5,473.3 L1711.8,471.7 L1713.1,470.1 L1714.4,468.4 L1715.8,466.6 L1717.1,464.7 L1718.4,462.7 L1719.7,460.5 L1721.0,458.2 L1722.4,455.8 L1723.7,453.1 L1725.0,450.2 L1726.3,446.9 L1727.6,443.3 L1729.0,439.2 L1730.3,434.5 L1731.6,429.3 L1732.9,423.4 L1734.2,416.8 L1735.6,409.6 L1736.9,401.7 L1738.2,393.4 L1739.5,384.7 L1740.8,375.8 L1742.2,366.9 L1743.5,358.5 L1744.8,350.9 L1746.1,344.5 L1747.4,339.7 L1748.8,336.2 L1750.1,333.0 L1751.4,328.9 L1752.7,325.4 L1754.0,328.0 L1754.7,333.5" fill="none" stroke="#F6B27B" stroke-opacity="0.1" stroke-width="6.2" stroke-linejoin="round"/>
<line x1="1487.6" y1="555.7" x2="1754.6" y2="555.7" stroke="#F6B27B" stroke-width="3.8"/>
<circle cx="1721.3" cy="555.7" r="5.8" fill="#F6B27B"/>
<line x1="1358.2" y1="580.0" x2="1656.2" y2="580.0" stroke="#952C80" stroke-width="3.8"/>
<circle cx="1507.2" cy="580.0" r="4.8" fill="#fff" stroke="#952C80" stroke-width="5.2"/>
<line x1="1331.2" y1="604.0" x2="1477.0" y2="604.0" stroke="#000004" stroke-width="3.8"/>
<circle cx="1395.8" cy="604.0" r="4.8" fill="#fff" stroke="#000004" stroke-width="5.2"/>
<line x1="1258.9" y1="632.0" x2="1755.5" y2="632.0" stroke="#999" stroke-width="1.6"/>
<line x1="1259.7" y1="632.0" x2="1259.7" y2="624.0" stroke="#999" stroke-width="1.6"/>
<text x="1240.9" y="654.2" font-size="23" font-weight="bold" stroke="#000" stroke-width="0.6" stroke-linejoin="round" textLength="37.6" lengthAdjust="spacingAndGlyphs" >0.00</text>
<line x1="1383.5" y1="632.0" x2="1383.5" y2="624.0" stroke="#999" stroke-width="1.6"/>
<text x="1365.9" y="654.2" font-size="23" font-weight="bold" stroke="#000" stroke-width="0.6" stroke-linejoin="round" textLength="35.2" lengthAdjust="spacingAndGlyphs" >0.25</text>
<line x1="1507.2" y1="632.0" x2="1507.2" y2="624.0" stroke="#999" stroke-width="1.6"/>
<text x="1489.3" y="654.2" font-size="23" font-weight="bold" stroke="#000" stroke-width="0.6" stroke-linejoin="round" textLength="35.8" lengthAdjust="spacingAndGlyphs" >0.50</text>
<line x1="1631.0" y1="632.0" x2="1631.0" y2="624.0" stroke="#999" stroke-width="1.6"/>
<text x="1613.9" y="654.2" font-size="23" font-weight="bold" stroke="#000" stroke-width="0.6" stroke-linejoin="round" textLength="34.2" lengthAdjust="spacingAndGlyphs" >0.75</text>
<line x1="1754.7" y1="632.0" x2="1754.7" y2="624.0" stroke="#999" stroke-width="1.6"/>
<text x="1736.9" y="654.2" font-size="23" font-weight="bold" stroke="#000" stroke-width="0.6" stroke-linejoin="round" textLength="35.0" lengthAdjust="spacingAndGlyphs" >1.00</text>
<text x="810.0" y="682.2" font-size="28.8" font-weight="bold" stroke="#000" stroke-width="0.4" stroke-linejoin="round" textLength="230.8" lengthAdjust="spacingAndGlyphs" >Belief about Pr(gain)</text>
<text transform="translate(90,498.7) rotate(-90)" font-size="29.5" font-weight="bold" stroke="#000" stroke-width="0.45" textLength="83.1" lengthAdjust="spacingAndGlyphs">Density</text>
<line x1="491.0" y1="869.3" x2="491.0" y2="1216.3" stroke="#000" stroke-opacity="0.3" stroke-width="3.6"/>
<path d="M306.5,1123.6 L307.2,1123.6 L307.8,1123.6 L308.5,1123.6 L309.2,1123.6 L309.8,1123.6 L310.5,1123.6 L311.1,1123.6 L311.8,1123.6 L312.5,1123.5 L313.1,1123.5 L313.8,1123.5 L314.4,1123.5 L315.1,1123.4 L315.8,1123.4 L316.4,1123.4 L317.1,1123.4 L317.7,1123.4 L318.4,1123.4 L319.1,1123.4 L319.7,1123.4 L320.4,1123.4 L321.1,1123.4 L321.7,1123.4 L322.4,1123.5 L323.0,1123.5 L323.7,1123.5 L324.4,1123.5 L325.0,1123.5 L325.7,1123.5 L326.3,1123.5 L327.0,1123.5 L327.6,1123.4 L328.3,1123.4 L329.0,1123.4 L329.6,1123.3 L330.3,1123.3 L330.9,1123.3 L331.6,1123.3 L332.3,1123.3 L332.9,1123.3 L333.6,1123.2 L334.2,1123.2 L334.9,1123.2 L335.6,1123.2 L336.2,1123.2 L336.9,1123.2 L337.5,1123.1 L338.2,1123.1 L338.9,1123.1 L339.5,1123.1 L340.2,1123.0 L340.8,1123.0 L341.5,1123.0 L342.2,1122.9 L342.8,1122.9 L343.5,1122.9 L344.1,1122.8 L344.8,1122.8 L345.5,1122.8 L346.1,1122.7 L346.8,1122.7 L347.4,1122.6 L348.1,1122.6 L348.8,1122.6 L349.4,1122.5 L350.1,1122.5 L350.7,1122.4 L351.4,1122.3 L352.1,1122.3 L352.7,1122.2 L353.4,1122.2 L354.0,1122.1 L354.7,1122.0 L355.4,1122.0 L356.0,1121.9 L356.7,1121.8 L357.3,1121.7 L358.0,1121.7 L358.7,1121.6 L359.3,1121.5 L360.0,1121.4 L360.6,1121.3 L361.3,1121.2 L362.0,1121.1 L362.6,1121.0 L363.3,1120.9 L363.9,1120.8 L364.6,1120.7 L365.2,1120.5 L365.9,1120.4 L366.6,1120.3 L367.2,1120.2 L367.9,1120.0 L368.5,1119.9 L369.2,1119.7 L369.8,1119.6 L370.5,1119.4 L371.2,1119.2 L371.8,1119.1 L372.5,1118.9 L373.1,1118.7 L373.8,1118.5 L374.4,1118.3 L375.1,1118.1 L375.8,1117.9 L376.4,1117.7 L377.1,1117.5 L377.7,1117.3 L378.4,1117.1 L379.0,1116.9 L379.7,1116.7 L380.4,1116.4 L381.0,1116.2 L381.7,1116.0 L382.3,1115.8 L383.0,1115.6 L383.7,1115.3 L384.3,1115.1 L385.0,1114.9 L385.6,1114.6 L386.3,1114.4 L386.9,1114.1 L387.6,1113.9 L388.3,1113.6 L388.9,1113.3 L389.6,1113.0 L390.2,1112.7 L390.9,1112.4 L391.5,1112.0 L392.2,1111.7 L392.8,1111.3 L393.5,1110.9 L394.2,1110.5 L394.8,1110.1 L395.5,1109.7 L396.1,1109.2 L396.8,1108.8 L397.4,1108.3 L398.1,1107.8 L398.7,1107.3 L399.4,1106.8 L400.1,1106.3 L400.7,1105.7 L401.4,1105.2 L402.0,1104.6 L402.7,1104.0 L403.3,1103.4 L404.0,1102.7 L404.7,1102.1 L405.3,1101.4 L406.0,1100.7 L406.6,1100.0 L407.3,1099.3 L407.9,1098.5 L408.6,1097.8 L409.3,1097.0 L409.9,1096.1 L410.6,1095.3 L411.2,1094.5 L411.9,1093.6 L412.5,1092.7 L413.2,1091.8 L413.9,1090.9 L414.5,1089.9 L415.2,1089.0 L415.8,1088.0 L416.5,1087.0 L417.2,1086.0 L417.8,1085.0 L418.5,1084.0 L419.1,1082.9 L419.8,1081.9 L420.5,1080.8 L421.1,1079.7 L421.8,1078.6 L422.4,1077.5 L423.1,1076.4 L423.8,1075.3 L424.4,1074.1 L425.1,1072.9 L425.7,1071.8 L426.4,1070.6 L427.0,1069.4 L427.7,1068.1 L428.4,1066.9 L429.0,1065.7 L429.7,1064.4 L430.3,1063.2 L431.0,1061.9 L431.7,1060.6 L432.3,1059.4 L433.0,1058.1 L433.6,1056.8 L434.3,1055.5 L435.0,1054.2 L435.6,1052.9 L436.3,1051.6 L436.9,1050.4 L437.6,1049.1 L438.3,1047.8 L438.9,1046.5 L439.6,1045.2 L440.2,1044.0 L440.9,1042.7 L441.6,1041.4 L442.2,1040.2 L442.9,1038.9 L443.5,1037.6 L444.2,1036.4 L444.9,1035.1 L445.5,1033.9 L446.2,1032.6 L446.8,1031.4 L447.5,1030.2 L448.2,1028.9 L448.8,1027.7 L449.5,1026.5 L450.1,1025.3 L450.8,1024.1 L451.5,1022.9 L452.1,1021.7 L452.8,1020.6 L453.5,1019.4 L454.1,1018.3 L454.8,1017.2 L455.4,1016.1 L456.1,1015.0 L456.8,1013.9 L457.4,1012.9 L458.1,1011.9 L458.7,1010.8 L459.4,1009.8 L460.1,1008.9 L460.7,1007.9 L461.4,1006.9 L462.0,1006.0 L462.7,1005.1 L463.4,1004.2 L464.0,1003.3 L464.7,1002.4 L465.4,1001.5 L466.0,1000.7 L466.7,999.9 L467.3,999.1 L468.0,998.3 L468.7,997.6 L469.3,996.8 L470.0,996.1 L470.7,995.5 L471.3,994.9 L472.0,994.3 L472.7,993.7 L473.3,993.2 L474.0,992.7 L474.7,992.2 L475.3,991.8 L476.0,991.4 L476.7,991.1 L477.4,990.8 L478.0,990.5 L478.7,990.3 L479.4,990.2 L480.1,990.0 L480.7,989.9 L481.4,989.9 L482.1,989.9 L482.8,990.0 L483.5,990.1 L484.1,990.2 L484.8,990.4 L485.5,990.6 L486.2,990.9 L486.8,991.3 L487.5,991.6 L488.2,992.1 L488.9,992.5 L489.5,993.0 L490.2,993.6 L490.9,994.2 L491.5,994.9 L492.2,995.6 L492.9,996.3 L493.5,997.1 L494.2,997.9 L494.9,998.8 L495.5,999.7 L496.2,1000.7 L496.9,1001.7 L497.5,1002.7 L498.2,1003.8 L498.8,1004.9 L499.5,1006.1 L500.2,1007.3 L500.8,1008.5 L501.5,1009.8 L502.2,1011.1 L502.8,1012.4 L503.5,1013.8 L504.1,1015.2 L504.8,1016.6 L505.5,1018.1 L506.1,1019.5 L506.8,1021.0 L507.4,1022.5 L508.1,1024.0 L508.8,1025.6 L509.4,1027.1 L510.1,1028.7 L510.7,1030.3 L511.4,1031.8 L512.1,1033.4 L512.7,1035.1 L513.4,1036.7 L514.0,1038.3 L514.7,1040.0 L515.4,1041.7 L516.0,1043.4 L516.7,1045.1 L517.4,1046.8 L518.0,1048.6 L518.7,1050.3 L519.3,1052.1 L520.0,1053.8 L520.7,1055.6 L521.3,1057.4 L522.0,1059.2 L522.6,1061.0 L523.3,1062.7 L524.0,1064.5 L524.6,1066.3 L525.3,1068.0 L525.9,1069.8 L526.6,1071.5 L527.2,1073.2 L527.9,1074.9 L528.6,1076.6 L529.2,1078.3 L529.9,1079.9 L530.5,1081.6 L531.2,1083.2 L531.9,1084.8 L532.5,1086.3 L533.2,1087.9 L533.8,1089.4 L534.5,1090.9 L535.2,1092.4 L535.8,1093.8 L536.5,1095.2 L537.1,1096.6 L537.8,1097.9 L538.5,1099.2 L539.1,1100.5 L539.8,1101.7 L540.4,1102.9 L541.1,1104.0 L541.7,1105.1 L542.4,1106.2 L543.1,1107.2 L543.7,1108.2 L544.4,1109.1 L545.0,1110.0 L545.7,1110.8 L546.3,1111.6 L547.0,1112.4 L547.7,1113.1 L548.3,1113.8 L549.0,1114.5 L549.6,1115.1 L550.3,1115.7 L550.9,1116.3 L551.6,1116.8 L552.2,1117.3 L552.9,1117.8 L553.5,1118.3 L554.2,1118.7 L554.8,1119.1 L555.4,1119.5 L556.1,1119.9 L556.7,1120.2 L557.4,1120.5 L558.0,1120.8 L558.7,1121.1 L559.3,1121.3 L560.0,1121.6 L560.7,1121.8 L561.3,1122.0 L562.0,1122.2 L562.6,1122.3 L563.3,1122.5 L563.9,1122.6 L564.6,1122.7 L565.3,1122.8 L565.9,1122.9 L566.6,1123.0 L567.2,1123.1 L567.9,1123.1 L568.6,1123.2 L569.2,1123.3 L569.9,1123.3 L570.5,1123.4 L571.2,1123.4 L571.9,1123.5 L572.5,1123.5 L573.2,1123.5 L573.8,1123.5 L574.5,1123.6 L575.2,1123.6 L575.8,1123.6 L576.5,1123.6 L577.1,1123.6 L577.8,1123.6 L578.5,1123.6 L579.1,1123.6 L579.8,1123.6 L580.4,1123.6 L581.1,1123.6 L581.8,1123.6 L582.4,1123.6 L582.4,1123.6 L306.5,1123.6 Z" fill="#00000E" fill-opacity="0.212"/>
<path d="M306.5,1123.6 L307.2,1123.6 L307.9,1123.6 L308.5,1123.6 L309.2,1123.6 L309.8,1123.6 L310.5,1123.6 L311.1,1123.6 L311.8,1123.6 L312.5,1123.5 L313.1,1123.5 L313.8,1123.5 L314.4,1123.5 L315.1,1123.5 L315.8,1123.4 L316.4,1123.4 L317.1,1123.4 L317.8,1123.4 L318.4,1123.4 L319.1,1123.4 L319.7,1123.4 L320.4,1123.4 L321.1,1123.4 L321.7,1123.4 L322.4,1123.5 L323.0,1123.5 L323.7,1123.5 L324.4,1123.5 L325.0,1123.5 L325.7,1123.5 L326.3,1123.5 L327.0,1123.5 L327.6,1123.4 L328.3,1123.4 L329.0,1123.4 L329.6,1123.4 L330.3,1123.3 L330.9,1123.3 L331.6,1123.3 L332.3,1123.3 L332.9,1123.3 L333.6,1123.3 L334.2,1123.3 L334.9,1123.2 L335.6,1123.2 L336.2,1123.2 L336.9,1123.2 L337.5,1123.2 L338.2,1123.1 L338.9,1123.1 L339.5,1123.1 L340.2,1123.1 L340.9,1123.0 L341.5,1123.0 L342.2,1123.0 L342.8,1122.9 L343.5,1122.9 L344.1,1122.9 L344.8,1122.8 L345.5,1122.8 L346.1,1122.8 L346.8,1122.7 L347.5,1122.7 L348.1,1122.6 L348.8,1122.6 L349.4,1122.6 L350.1,1122.5 L350.8,1122.5 L351.4,1122.4 L352.1,1122.4 L352.7,1122.3 L353.4,1122.2 L354.1,1122.2 L354.7,1122.1 L355.4,1122.0 L356.0,1122.0 L356.7,1121.9 L357.4,1121.8 L358.0,1121.8 L358.7,1121.7 L359.3,1121.6 L360.0,1121.5 L360.6,1121.4 L361.3,1121.3 L362.0,1121.2 L362.6,1121.1 L363.3,1121.0 L363.9,1120.9 L364.6,1120.8 L365.3,1120.7 L365.9,1120.6 L366.6,1120.4 L367.2,1120.3 L367.9,1120.2 L368.6,1120.0 L369.2,1119.9 L369.9,1119.8 L370.6,1119.6 L371.2,1119.4 L371.9,1119.3 L372.5,1119.1 L373.2,1118.9 L373.9,1118.8 L374.5,1118.6 L375.2,1118.4 L375.8,1118.2 L376.5,1118.0 L377.1,1117.8 L377.8,1117.6 L378.5,1117.4 L379.1,1117.2 L379.8,1116.9 L380.4,1116.7 L381.1,1116.5 L381.8,1116.3 L382.4,1116.1 L383.1,1115.9 L383.7,1115.6 L384.4,1115.4 L385.1,1115.2 L385.7,1114.9 L386.4,1114.7 L387.1,1114.4 L387.7,1114.1 L388.4,1113.9 L389.0,1113.6 L389.7,1113.3 L390.4,1113.0 L391.0,1112.6 L391.7,1112.3 L392.3,1111.9 L393.0,1111.6 L393.6,1111.2 L394.3,1110.8 L395.0,1110.4 L395.6,1109.9 L396.3,1109.5 L396.9,1109.0 L397.6,1108.6 L398.3,1108.1 L398.9,1107.6 L399.6,1107.0 L400.2,1106.5 L400.9,1106.0 L401.6,1105.4 L402.2,1104.8 L402.9,1104.2 L403.5,1103.6 L404.2,1103.0 L404.9,1102.3 L405.5,1101.6 L406.2,1100.9 L406.9,1100.2 L407.5,1099.5 L408.2,1098.7 L408.8,1097.9 L409.5,1097.2 L410.1,1096.3 L410.8,1095.5 L411.5,1094.6 L412.1,1093.8 L412.8,1092.9 L413.4,1092.0 L414.1,1091.0 L414.8,1090.1 L415.4,1089.2 L416.1,1088.2 L416.8,1087.2 L417.4,1086.2 L418.1,1085.2 L418.7,1084.1 L419.4,1083.1 L420.0,1082.0 L420.7,1081.0 L421.4,1079.9 L422.0,1078.8 L422.7,1077.7 L423.4,1076.5 L424.0,1075.4 L424.7,1074.3 L425.3,1073.1 L426.0,1071.9 L426.6,1070.7 L427.3,1069.5 L428.0,1068.3 L428.6,1067.1 L429.3,1065.8 L429.9,1064.6 L430.6,1063.3 L431.3,1062.0 L431.9,1060.8 L432.6,1059.5 L433.2,1058.2 L433.9,1056.9 L434.6,1055.6 L435.2,1054.4 L435.9,1053.1 L436.5,1051.8 L437.2,1050.5 L437.9,1049.2 L438.5,1047.9 L439.2,1046.6 L439.9,1045.4 L440.5,1044.1 L441.2,1042.8 L441.8,1041.6 L442.5,1040.3 L443.1,1039.0 L443.8,1037.8 L444.5,1036.5 L445.1,1035.3 L445.8,1034.0 L446.4,1032.8 L447.1,1031.5 L447.8,1030.3 L448.4,1029.1 L449.1,1027.8 L449.8,1026.6 L450.4,1025.4 L451.1,1024.2 L451.7,1023.0 L452.4,1021.9 L453.0,1020.7 L453.7,1019.6 L454.4,1018.4 L455.0,1017.3 L455.7,1016.2 L456.3,1015.2 L457.0,1014.1 L457.7,1013.0 L458.3,1012.0 L459.0,1011.0 L459.7,1010.0 L460.3,1009.0 L461.0,1008.1 L461.6,1007.1 L462.3,1006.2 L462.9,1005.3 L463.6,1004.4 L464.3,1003.5 L464.9,1002.6 L465.6,1001.7 L466.2,1000.9 L466.9,1000.1 L467.6,999.3 L468.2,998.5 L468.9,997.8 L469.5,997.0 L470.2,996.4 L470.9,995.7 L471.5,995.1 L472.2,994.5 L472.8,993.9 L473.5,993.4 L474.2,992.9 L474.8,992.5 L475.5,992.1 L476.2,991.7 L476.8,991.4 L477.5,991.1 L478.1,990.8 L478.8,990.6 L479.4,990.4 L480.1,990.3 L480.8,990.2 L481.4,990.2 L482.1,990.2 L482.8,990.3 L483.4,990.4 L484.1,990.5 L484.7,990.7 L485.4,990.9 L486.0,991.2 L486.7,991.5 L487.4,991.9 L488.0,992.3 L488.7,992.8 L489.3,993.3 L490.0,993.8 L490.7,994.4 L491.3,995.1 L492.0,995.8 L492.6,996.5 L493.3,997.3 L494.0,998.1 L494.6,999.0 L495.3,999.9 L495.9,1000.8 L496.6,1001.8 L497.3,1002.9 L497.9,1004.0 L498.6,1005.1 L499.2,1006.2 L499.9,1007.4 L500.6,1008.7 L501.2,1009.9 L501.9,1011.2 L502.5,1012.6 L503.2,1013.9 L503.9,1015.3 L504.5,1016.7 L505.2,1018.2 L505.8,1019.7 L506.5,1021.1 L507.2,1022.6 L507.8,1024.2 L508.5,1025.7 L509.1,1027.2 L509.8,1028.8 L510.5,1030.4 L511.1,1032.0 L511.8,1033.6 L512.5,1035.2 L513.1,1036.8 L513.8,1038.4 L514.4,1040.1 L515.1,1041.8 L515.8,1043.5 L516.4,1045.2 L517.1,1046.9 L517.7,1048.7 L518.4,1050.4 L519.0,1052.2 L519.7,1053.9 L520.4,1055.7 L521.0,1057.5 L521.7,1059.3 L522.3,1061.1 L523.0,1062.8 L523.7,1064.6 L524.3,1066.4 L525.0,1068.1 L525.6,1069.9 L526.3,1071.6 L527.0,1073.3 L527.6,1075.0 L528.3,1076.7 L529.0,1078.4 L529.6,1080.0 L530.3,1081.7 L530.9,1083.3 L531.6,1084.9 L532.2,1086.4 L532.9,1088.0 L533.6,1089.5 L534.2,1091.0 L534.9,1092.5 L535.5,1093.9 L536.2,1095.3 L536.9,1096.7 L537.5,1098.1 L538.2,1099.4 L538.8,1100.6 L539.5,1101.9 L540.2,1103.1 L540.8,1104.2 L541.5,1105.3 L542.1,1106.4 L542.8,1107.4 L543.5,1108.3 L544.1,1109.3 L544.8,1110.2 L545.5,1111.0 L546.1,1111.8 L546.8,1112.6 L547.4,1113.3 L548.1,1114.0 L548.8,1114.7 L549.4,1115.3 L550.1,1115.9 L550.7,1116.5 L551.4,1117.0 L552.0,1117.5 L552.7,1118.0 L553.4,1118.5 L554.0,1118.9 L554.7,1119.3 L555.3,1119.7 L556.0,1120.0 L556.7,1120.4 L557.3,1120.7 L558.0,1120.9 L558.6,1121.2 L559.3,1121.5 L560.0,1121.7 L560.6,1121.9 L561.3,1122.1 L562.0,1122.2 L562.6,1122.4 L563.3,1122.5 L563.9,1122.6 L564.6,1122.8 L565.2,1122.9 L565.9,1122.9 L566.6,1123.0 L567.2,1123.1 L567.9,1123.2 L568.5,1123.2 L569.2,1123.3 L569.9,1123.3 L570.5,1123.4 L571.2,1123.4 L571.8,1123.5 L572.5,1123.5 L573.2,1123.5 L573.8,1123.5 L574.5,1123.6 L575.1,1123.6 L575.8,1123.6 L576.5,1123.6 L577.1,1123.6 L577.8,1123.6 L578.5,1123.6 L579.1,1123.6 L579.8,1123.6 L580.4,1123.6 L581.1,1123.6 L581.8,1123.6 L582.4,1123.6" fill="none" stroke="#00000E" stroke-opacity="0.215" stroke-width="6.2" stroke-linejoin="round"/>
<path d="M144.5,1123.6 L145.8,1123.6 L147.1,1123.6 L148.5,1123.5 L149.8,1123.5 L151.1,1123.5 L152.4,1123.5 L153.7,1123.5 L155.1,1123.5 L156.4,1123.5 L157.7,1123.5 L159.0,1123.4 L160.3,1123.4 L161.7,1123.4 L163.0,1123.4 L164.3,1123.4 L165.6,1123.4 L166.9,1123.4 L168.3,1123.4 L169.6,1123.3 L170.9,1123.3 L172.2,1123.3 L173.5,1123.3 L174.9,1123.3 L176.2,1123.2 L177.5,1123.2 L178.8,1123.2 L180.1,1123.1 L181.5,1123.1 L182.8,1123.1 L184.1,1123.0 L185.4,1123.0 L186.7,1123.0 L188.1,1122.9 L189.4,1122.9 L190.7,1122.8 L192.0,1122.8 L193.3,1122.7 L194.7,1122.7 L196.0,1122.6 L197.3,1122.6 L198.6,1122.5 L199.9,1122.4 L201.3,1122.4 L202.6,1122.3 L203.9,1122.2 L205.2,1122.2 L206.5,1122.1 L207.9,1122.0 L209.2,1121.9 L210.5,1121.8 L211.8,1121.7 L213.1,1121.6 L214.5,1121.5 L215.8,1121.5 L217.1,1121.3 L218.4,1121.2 L219.7,1121.1 L221.0,1121.0 L222.4,1120.9 L223.7,1120.8 L225.0,1120.7 L226.3,1120.5 L227.6,1120.4 L229.0,1120.3 L230.3,1120.1 L231.6,1120.0 L232.9,1119.8 L234.2,1119.7 L235.6,1119.5 L236.9,1119.4 L238.2,1119.2 L239.5,1119.0 L240.8,1118.8 L242.1,1118.7 L243.5,1118.5 L244.8,1118.3 L246.1,1118.1 L247.4,1117.9 L248.7,1117.7 L250.1,1117.5 L251.4,1117.3 L252.7,1117.1 L254.0,1116.8 L255.3,1116.6 L256.6,1116.4 L258.0,1116.2 L259.3,1115.9 L260.6,1115.7 L261.9,1115.5 L263.2,1115.2 L264.6,1115.0 L265.9,1114.7 L267.2,1114.4 L268.5,1114.2 L269.8,1113.9 L271.2,1113.6 L272.5,1113.3 L273.8,1113.1 L275.1,1112.8 L276.4,1112.5 L277.8,1112.2 L279.1,1111.9 L280.4,1111.5 L281.7,1111.2 L283.0,1110.9 L284.3,1110.6 L285.7,1110.2 L287.0,1109.9 L288.3,1109.6 L289.6,1109.2 L290.9,1108.9 L292.3,1108.5 L293.6,1108.1 L294.9,1107.8 L296.2,1107.4 L297.5,1107.0 L298.9,1106.6 L300.2,1106.2 L301.5,1105.8 L302.8,1105.4 L304.1,1105.0 L305.5,1104.6 L306.8,1104.2 L308.1,1103.8 L309.4,1103.4 L310.7,1103.0 L312.0,1102.5 L313.4,1102.1 L314.7,1101.7 L316.0,1101.2 L317.3,1100.8 L318.6,1100.3 L320.0,1099.9 L321.3,1099.4 L322.6,1098.9 L323.9,1098.5 L325.2,1098.0 L326.6,1097.5 L327.9,1097.1 L329.2,1096.6 L330.5,1096.1 L331.8,1095.6 L333.2,1095.1 L334.5,1094.7 L335.8,1094.2 L337.1,1093.7 L338.4,1093.2 L339.8,1092.7 L341.1,1092.2 L342.4,1091.7 L343.7,1091.2 L345.0,1090.7 L346.4,1090.1 L347.7,1089.6 L349.0,1089.1 L350.3,1088.6 L351.6,1088.1 L353.0,1087.6 L354.3,1087.1 L355.6,1086.6 L356.9,1086.0 L358.2,1085.5 L359.6,1085.0 L360.9,1084.5 L362.2,1084.0 L363.5,1083.5 L364.8,1083.0 L366.2,1082.5 L367.5,1081.9 L368.8,1081.4 L370.1,1080.9 L371.4,1080.4 L372.8,1079.9 L374.1,1079.4 L375.4,1078.9 L376.7,1078.4 L378.0,1077.9 L379.4,1077.5 L380.7,1077.0 L382.0,1076.5 L383.3,1076.0 L384.6,1075.5 L386.0,1075.1 L387.3,1074.6 L388.6,1074.1 L389.9,1073.7 L391.2,1073.2 L392.6,1072.8 L393.9,1072.4 L395.2,1071.9 L396.5,1071.5 L397.8,1071.1 L399.2,1070.7 L400.5,1070.3 L401.8,1069.9 L403.1,1069.5 L404.5,1069.1 L405.8,1068.7 L407.1,1068.3 L408.4,1068.0 L409.7,1067.6 L411.1,1067.3 L412.4,1066.9 L413.7,1066.6 L415.0,1066.3 L416.4,1066.0 L417.7,1065.7 L419.0,1065.4 L420.3,1065.1 L421.6,1064.8 L423.0,1064.6 L424.3,1064.3 L425.6,1064.1 L426.9,1063.9 L428.3,1063.7 L429.6,1063.5 L430.9,1063.3 L432.2,1063.1 L433.5,1063.0 L434.9,1062.8 L436.2,1062.7 L437.5,1062.5 L438.8,1062.4 L440.2,1062.3 L441.5,1062.3 L442.8,1062.2 L444.1,1062.1 L445.5,1062.1 L446.8,1062.1 L448.1,1062.1 L449.4,1062.1 L450.7,1062.1 L452.1,1062.1 L453.4,1062.2 L454.7,1062.2 L456.0,1062.3 L457.4,1062.4 L458.7,1062.5 L460.0,1062.7 L461.3,1062.8 L462.7,1063.0 L464.0,1063.1 L465.3,1063.4 L466.6,1063.6 L468.0,1063.8 L469.3,1064.1 L470.6,1064.4 L471.9,1064.7 L473.3,1065.0 L474.6,1065.4 L475.9,1065.8 L477.2,1066.2 L478.6,1066.6 L479.9,1067.0 L481.2,1067.5 L482.5,1068.0 L483.8,1068.5 L485.2,1069.0 L486.5,1069.5 L487.8,1070.0 L489.1,1070.6 L490.5,1071.2 L491.8,1071.8 L493.1,1072.5 L494.4,1073.1 L495.8,1073.8 L497.1,1074.5 L498.4,1075.3 L499.7,1076.0 L501.1,1076.8 L502.4,1077.6 L503.7,1078.3 L505.0,1079.1 L506.3,1079.9 L507.7,1080.7 L509.0,1081.5 L510.3,1082.3 L511.6,1083.1 L512.9,1084.0 L514.3,1084.8 L515.6,1085.6 L516.9,1086.4 L518.2,1087.3 L519.5,1088.1 L520.9,1089.0 L522.2,1089.8 L523.5,1090.7 L524.8,1091.6 L526.1,1092.5 L527.5,1093.4 L528.8,1094.3 L530.1,1095.2 L531.4,1096.1 L532.7,1097.0 L534.1,1097.9 L535.4,1098.8 L536.7,1099.7 L538.0,1100.6 L539.3,1101.5 L540.7,1102.4 L542.0,1103.3 L543.3,1104.2 L544.6,1105.1 L545.9,1106.0 L547.3,1106.9 L548.6,1107.7 L549.9,1108.6 L551.2,1109.5 L552.5,1110.3 L553.9,1111.1 L555.2,1112.0 L556.5,1112.8 L557.8,1113.5 L559.1,1114.3 L560.4,1115.1 L561.8,1115.8 L563.1,1116.5 L564.4,1117.2 L565.7,1117.8 L567.0,1118.4 L568.3,1119.0 L569.6,1119.6 L570.9,1120.1 L572.2,1120.6 L573.5,1121.0 L574.8,1121.4 L576.2,1121.7 L577.5,1122.0 L578.8,1122.3 L580.1,1122.5 L581.4,1122.7 L582.7,1122.8 L584.1,1123.0 L585.4,1123.1 L586.7,1123.1 L587.4,1123.1 L587.4,1123.6 L144.5,1123.6 Z" fill="#952C80" fill-opacity="0.15"/>
<path d="M144.5,1123.6 L145.8,1123.6 L147.1,1123.6 L148.5,1123.5 L149.8,1123.5 L151.1,1123.5 L152.4,1123.5 L153.7,1123.5 L155.1,1123.5 L156.4,1123.5 L157.7,1123.5 L159.0,1123.5 L160.3,1123.4 L161.7,1123.4 L163.0,1123.4 L164.3,1123.4 L165.6,1123.4 L166.9,1123.4 L168.3,1123.4 L169.6,1123.4 L170.9,1123.3 L172.2,1123.3 L173.5,1123.3 L174.9,1123.3 L176.2,1123.2 L177.5,1123.2 L178.8,1123.2 L180.1,1123.2 L181.5,1123.1 L182.8,1123.1 L184.1,1123.1 L185.4,1123.0 L186.7,1123.0 L188.1,1122.9 L189.4,1122.9 L190.7,1122.9 L192.0,1122.8 L193.3,1122.8 L194.7,1122.7 L196.0,1122.7 L197.3,1122.6 L198.6,1122.5 L199.9,1122.5 L201.3,1122.4 L202.6,1122.4 L203.9,1122.3 L205.2,1122.2 L206.5,1122.1 L207.9,1122.1 L209.2,1122.0 L210.5,1121.9 L211.8,1121.8 L213.1,1121.7 L214.5,1121.6 L215.8,1121.6 L217.1,1121.5 L218.4,1121.4 L219.7,1121.2 L221.1,1121.1 L222.4,1121.0 L223.7,1120.9 L225.0,1120.8 L226.3,1120.7 L227.7,1120.5 L229.0,1120.4 L230.3,1120.3 L231.6,1120.1 L232.9,1120.0 L234.3,1119.9 L235.6,1119.7 L236.9,1119.6 L238.2,1119.4 L239.5,1119.2 L240.9,1119.1 L242.2,1118.9 L243.5,1118.7 L244.8,1118.5 L246.1,1118.4 L247.5,1118.2 L248.8,1118.0 L250.1,1117.8 L251.4,1117.6 L252.7,1117.4 L254.1,1117.1 L255.4,1116.9 L256.7,1116.7 L258.0,1116.5 L259.3,1116.2 L260.7,1116.0 L262.0,1115.8 L263.3,1115.5 L264.6,1115.3 L265.9,1115.0 L267.3,1114.7 L268.6,1114.5 L269.9,1114.2 L271.2,1113.9 L272.5,1113.6 L273.9,1113.4 L275.2,1113.1 L276.5,1112.8 L277.8,1112.5 L279.1,1112.2 L280.5,1111.8 L281.8,1111.5 L283.1,1111.2 L284.4,1110.9 L285.7,1110.5 L287.1,1110.2 L288.4,1109.8 L289.7,1109.5 L291.0,1109.1 L292.3,1108.8 L293.7,1108.4 L295.0,1108.1 L296.3,1107.7 L297.6,1107.3 L298.9,1106.9 L300.3,1106.5 L301.6,1106.1 L302.9,1105.7 L304.2,1105.3 L305.5,1104.9 L306.9,1104.5 L308.2,1104.1 L309.5,1103.7 L310.8,1103.2 L312.1,1102.8 L313.5,1102.4 L314.8,1101.9 L316.1,1101.5 L317.4,1101.1 L318.7,1100.6 L320.1,1100.2 L321.4,1099.7 L322.7,1099.2 L324.0,1098.8 L325.3,1098.3 L326.7,1097.8 L328.0,1097.4 L329.3,1096.9 L330.6,1096.4 L331.9,1095.9 L333.3,1095.4 L334.6,1094.9 L335.9,1094.4 L337.2,1093.9 L338.5,1093.4 L339.9,1092.9 L341.2,1092.4 L342.5,1091.9 L343.8,1091.4 L345.1,1090.9 L346.5,1090.4 L347.8,1089.9 L349.1,1089.4 L350.4,1088.9 L351.7,1088.4 L353.1,1087.9 L354.4,1087.4 L355.7,1086.8 L357.0,1086.3 L358.3,1085.8 L359.7,1085.3 L361.0,1084.8 L362.3,1084.3 L363.6,1083.8 L364.9,1083.2 L366.3,1082.7 L367.6,1082.2 L368.9,1081.7 L370.2,1081.2 L371.5,1080.7 L372.9,1080.2 L374.2,1079.7 L375.5,1079.2 L376.8,1078.7 L378.1,1078.2 L379.5,1077.7 L380.8,1077.3 L382.1,1076.8 L383.4,1076.3 L384.7,1075.8 L386.1,1075.4 L387.4,1074.9 L388.7,1074.4 L390.0,1074.0 L391.3,1073.5 L392.7,1073.1 L394.0,1072.6 L395.3,1072.2 L396.6,1071.8 L397.9,1071.4 L399.3,1070.9 L400.6,1070.5 L401.9,1070.1 L403.2,1069.7 L404.5,1069.4 L405.9,1069.0 L407.2,1068.6 L408.5,1068.3 L409.8,1067.9 L411.1,1067.6 L412.5,1067.2 L413.8,1066.9 L415.1,1066.6 L416.4,1066.3 L417.7,1066.0 L419.1,1065.7 L420.4,1065.4 L421.7,1065.1 L423.0,1064.9 L424.3,1064.6 L425.7,1064.4 L427.0,1064.2 L428.3,1064.0 L429.6,1063.8 L430.9,1063.6 L432.3,1063.4 L433.6,1063.2 L434.9,1063.1 L436.2,1063.0 L437.5,1062.8 L438.9,1062.7 L440.2,1062.6 L441.5,1062.6 L442.8,1062.5 L444.1,1062.4 L445.5,1062.4 L446.8,1062.4 L448.1,1062.4 L449.4,1062.4 L450.7,1062.4 L452.1,1062.4 L453.4,1062.5 L454.7,1062.5 L456.0,1062.6 L457.3,1062.7 L458.7,1062.8 L460.0,1063.0 L461.3,1063.1 L462.6,1063.3 L463.9,1063.4 L465.3,1063.6 L466.6,1063.9 L467.9,1064.1 L469.2,1064.4 L470.5,1064.7 L471.9,1065.0 L473.2,1065.3 L474.5,1065.7 L475.8,1066.1 L477.1,1066.5 L478.5,1066.9 L479.8,1067.3 L481.1,1067.8 L482.4,1068.2 L483.7,1068.7 L485.1,1069.2 L486.4,1069.8 L487.7,1070.3 L489.0,1070.9 L490.3,1071.5 L491.7,1072.1 L493.0,1072.7 L494.3,1073.4 L495.6,1074.1 L496.9,1074.8 L498.3,1075.5 L499.6,1076.3 L500.9,1077.0 L502.2,1077.8 L503.5,1078.6 L504.9,1079.4 L506.2,1080.2 L507.5,1081.0 L508.8,1081.8 L510.1,1082.6 L511.5,1083.4 L512.8,1084.2 L514.1,1085.0 L515.4,1085.9 L516.7,1086.7 L518.1,1087.5 L519.4,1088.4 L520.7,1089.2 L522.0,1090.1 L523.3,1091.0 L524.7,1091.8 L526.0,1092.7 L527.3,1093.6 L528.6,1094.5 L529.9,1095.4 L531.3,1096.3 L532.6,1097.2 L533.9,1098.1 L535.2,1099.0 L536.5,1099.9 L537.9,1100.9 L539.2,1101.8 L540.5,1102.7 L541.8,1103.6 L543.1,1104.5 L544.5,1105.4 L545.8,1106.2 L547.1,1107.1 L548.4,1108.0 L549.7,1108.9 L551.1,1109.7 L552.4,1110.6 L553.7,1111.4 L555.0,1112.2 L556.3,1113.0 L557.7,1113.8 L559.0,1114.6 L560.3,1115.3 L561.6,1116.1 L562.9,1116.8 L564.3,1117.4 L565.6,1118.1 L566.9,1118.7 L568.2,1119.2 L569.5,1119.8 L570.9,1120.2 L572.2,1120.7 L573.5,1121.1 L574.8,1121.5 L576.1,1121.8 L577.5,1122.1 L578.8,1122.3 L580.1,1122.6 L581.4,1122.7 L582.7,1122.9 L584.1,1123.0 L585.4,1123.1 L586.7,1123.2 L587.4,1123.1" fill="none" stroke="#952C80" stroke-opacity="0.13" stroke-width="6.2" stroke-linejoin="round"/>
<path d="M95.0,1122.3 L96.6,1122.1 L98.3,1121.8 L99.9,1121.5 L101.6,1121.1 L103.2,1120.8 L104.9,1120.4 L106.5,1120.0 L108.2,1119.6 L109.8,1119.1 L111.4,1118.7 L113.1,1118.3 L114.7,1117.8 L116.4,1117.4 L118.0,1116.9 L119.7,1116.5 L121.3,1116.1 L123.0,1115.6 L124.6,1115.2 L126.3,1114.8 L127.9,1114.4 L129.6,1114.0 L131.2,1113.5 L132.9,1113.1 L134.5,1112.7 L136.2,1112.3 L137.8,1111.9 L139.5,1111.5 L141.1,1111.1 L142.8,1110.7 L144.4,1110.4 L146.1,1110.0 L147.7,1109.6 L149.4,1109.2 L151.0,1108.8 L152.7,1108.5 L154.3,1108.1 L156.0,1107.7 L157.6,1107.4 L159.3,1107.0 L160.9,1106.7 L162.6,1106.3 L164.2,1106.0 L165.9,1105.6 L167.5,1105.3 L169.2,1104.9 L170.8,1104.6 L172.5,1104.3 L174.1,1103.9 L175.8,1103.6 L177.4,1103.3 L179.1,1103.0 L180.7,1102.7 L182.4,1102.3 L184.0,1102.0 L185.7,1101.7 L187.3,1101.4 L189.0,1101.1 L190.6,1100.8 L192.3,1100.5 L193.9,1100.2 L195.6,1099.9 L197.2,1099.7 L198.9,1099.4 L200.6,1099.1 L202.2,1098.8 L203.9,1098.6 L205.5,1098.3 L207.2,1098.0 L208.8,1097.8 L210.5,1097.5 L212.1,1097.2 L213.8,1097.0 L215.4,1096.7 L217.1,1096.5 L218.7,1096.3 L220.4,1096.0 L222.0,1095.8 L223.7,1095.5 L225.3,1095.3 L227.0,1095.1 L228.6,1094.9 L230.3,1094.6 L231.9,1094.4 L233.6,1094.2 L235.2,1094.0 L236.9,1093.8 L238.5,1093.6 L240.2,1093.4 L241.8,1093.2 L243.5,1093.0 L245.1,1092.8 L246.8,1092.6 L248.4,1092.4 L250.1,1092.3 L251.7,1092.1 L253.4,1091.9 L255.0,1091.7 L256.7,1091.6 L258.3,1091.4 L260.0,1091.2 L261.6,1091.1 L263.3,1090.9 L264.9,1090.8 L266.6,1090.6 L268.2,1090.5 L269.9,1090.3 L271.5,1090.2 L273.2,1090.1 L274.8,1089.9 L276.5,1089.8 L278.1,1089.7 L279.8,1089.5 L281.4,1089.4 L283.1,1089.3 L284.7,1089.2 L286.4,1089.1 L288.0,1089.0 L289.7,1088.9 L291.3,1088.8 L293.0,1088.7 L294.6,1088.6 L296.3,1088.5 L297.9,1088.4 L299.6,1088.3 L301.2,1088.2 L302.9,1088.1 L304.5,1088.1 L306.2,1088.0 L307.8,1087.9 L309.5,1087.9 L311.1,1087.8 L312.8,1087.7 L314.4,1087.7 L316.1,1087.6 L317.7,1087.6 L319.4,1087.5 L321.0,1087.5 L322.7,1087.4 L324.3,1087.4 L326.0,1087.4 L327.6,1087.3 L329.3,1087.3 L330.9,1087.3 L332.6,1087.3 L334.2,1087.3 L335.9,1087.2 L337.5,1087.2 L339.2,1087.2 L340.8,1087.2 L342.5,1087.2 L344.2,1087.2 L345.8,1087.2 L347.5,1087.2 L349.1,1087.2 L350.8,1087.3 L352.4,1087.3 L354.1,1087.3 L355.7,1087.3 L357.4,1087.3 L359.0,1087.4 L360.7,1087.4 L362.3,1087.4 L364.0,1087.5 L365.6,1087.5 L367.3,1087.6 L368.9,1087.6 L370.6,1087.7 L372.2,1087.7 L373.9,1087.8 L375.5,1087.9 L377.2,1087.9 L378.8,1088.0 L380.5,1088.1 L382.1,1088.1 L383.8,1088.2 L385.4,1088.3 L387.1,1088.4 L388.7,1088.5 L390.4,1088.6 L392.0,1088.7 L393.7,1088.8 L395.3,1088.9 L397.0,1089.0 L398.6,1089.1 L400.3,1089.2 L401.9,1089.3 L403.6,1089.4 L405.2,1089.5 L406.9,1089.7 L408.5,1089.8 L410.2,1089.9 L411.8,1090.1 L413.5,1090.2 L415.1,1090.3 L416.8,1090.5 L418.4,1090.6 L420.1,1090.8 L421.7,1090.9 L423.4,1091.1 L425.0,1091.2 L426.7,1091.4 L428.3,1091.6 L430.0,1091.7 L431.6,1091.9 L433.3,1092.1 L434.9,1092.3 L436.6,1092.4 L438.2,1092.6 L439.9,1092.8 L441.5,1093.0 L443.2,1093.2 L444.8,1093.4 L446.5,1093.6 L448.1,1093.8 L449.8,1094.0 L451.4,1094.2 L453.1,1094.4 L454.7,1094.6 L456.4,1094.9 L458.0,1095.1 L459.7,1095.3 L461.3,1095.5 L463.0,1095.8 L464.6,1096.0 L466.3,1096.3 L467.9,1096.5 L469.6,1096.7 L471.2,1097.0 L472.9,1097.2 L474.5,1097.5 L476.2,1097.8 L477.8,1098.0 L479.5,1098.3 L481.1,1098.6 L482.8,1098.8 L484.4,1099.1 L486.1,1099.4 L487.8,1099.7 L489.4,1099.9 L491.1,1100.2 L492.7,1100.5 L494.4,1100.8 L496.0,1101.1 L497.7,1101.4 L499.3,1101.7 L501.0,1102.0 L502.6,1102.3 L504.3,1102.7 L505.9,1103.0 L507.6,1103.3 L509.2,1103.6 L510.9,1103.9 L512.5,1104.3 L514.2,1104.6 L515.8,1104.9 L517.5,1105.3 L519.1,1105.6 L520.8,1106.0 L522.4,1106.3 L524.1,1106.7 L525.7,1107.0 L527.4,1107.4 L529.0,1107.7 L530.7,1108.1 L532.3,1108.5 L534.0,1108.8 L535.6,1109.2 L537.3,1109.6 L538.9,1110.0 L540.6,1110.4 L542.2,1110.7 L543.9,1111.1 L545.5,1111.5 L547.2,1111.9 L548.8,1112.3 L550.5,1112.7 L552.1,1113.1 L553.8,1113.5 L555.4,1114.0 L557.1,1114.4 L558.7,1114.8 L560.4,1115.2 L562.0,1115.6 L563.7,1116.1 L565.3,1116.5 L567.0,1116.9 L568.6,1117.4 L570.3,1117.8 L571.9,1118.3 L573.6,1118.7 L575.2,1119.1 L576.8,1119.6 L578.5,1120.0 L580.1,1120.4 L581.8,1120.8 L583.4,1121.1 L585.1,1121.5 L586.7,1121.8 L588.4,1122.1 L590.0,1122.3 L590.0,1123.6 L95.0,1123.6 Z" fill="#F6B27B" fill-opacity="0.13"/>
<path d="M95.0,1122.4 L96.7,1122.2 L98.3,1121.9 L100.0,1121.6 L101.6,1121.3 L103.2,1120.9 L104.9,1120.5 L106.5,1120.2 L108.2,1119.8 L109.8,1119.3 L111.5,1118.9 L113.2,1118.5 L114.8,1118.1 L116.5,1117.6 L118.1,1117.2 L119.8,1116.8 L121.4,1116.4 L123.0,1115.9 L124.7,1115.5 L126.3,1115.1 L128.0,1114.7 L129.7,1114.3 L131.3,1113.8 L132.9,1113.4 L134.6,1113.0 L136.2,1112.6 L137.9,1112.2 L139.6,1111.8 L141.2,1111.4 L142.8,1111.0 L144.5,1110.7 L146.2,1110.3 L147.8,1109.9 L149.4,1109.5 L151.1,1109.1 L152.8,1108.8 L154.4,1108.4 L156.1,1108.0 L157.7,1107.7 L159.4,1107.3 L161.0,1107.0 L162.6,1106.6 L164.3,1106.3 L165.9,1105.9 L167.6,1105.6 L169.2,1105.2 L170.9,1104.9 L172.6,1104.6 L174.2,1104.2 L175.8,1103.9 L177.5,1103.6 L179.1,1103.3 L180.8,1102.9 L182.4,1102.6 L184.1,1102.3 L185.8,1102.0 L187.4,1101.7 L189.1,1101.4 L190.7,1101.1 L192.3,1100.8 L194.0,1100.5 L195.7,1100.2 L197.3,1100.0 L198.9,1099.7 L200.6,1099.4 L202.2,1099.1 L203.9,1098.9 L205.6,1098.6 L207.2,1098.3 L208.8,1098.1 L210.5,1097.8 L212.2,1097.5 L213.8,1097.3 L215.4,1097.0 L217.1,1096.8 L218.8,1096.6 L220.4,1096.3 L222.1,1096.1 L223.7,1095.8 L225.3,1095.6 L227.0,1095.4 L228.7,1095.2 L230.3,1094.9 L231.9,1094.7 L233.6,1094.5 L235.2,1094.3 L236.9,1094.1 L238.5,1093.9 L240.2,1093.7 L241.8,1093.5 L243.5,1093.3 L245.2,1093.1 L246.8,1092.9 L248.4,1092.7 L250.1,1092.6 L251.8,1092.4 L253.4,1092.2 L255.0,1092.0 L256.7,1091.9 L258.4,1091.7 L260.0,1091.5 L261.6,1091.4 L263.3,1091.2 L264.9,1091.1 L266.6,1090.9 L268.2,1090.8 L269.9,1090.6 L271.5,1090.5 L273.2,1090.3 L274.9,1090.2 L276.5,1090.1 L278.1,1090.0 L279.8,1089.8 L281.4,1089.7 L283.1,1089.6 L284.8,1089.5 L286.4,1089.4 L288.1,1089.3 L289.7,1089.2 L291.4,1089.1 L293.0,1089.0 L294.6,1088.9 L296.3,1088.8 L297.9,1088.7 L299.6,1088.6 L301.2,1088.5 L302.9,1088.4 L304.6,1088.4 L306.2,1088.3 L307.9,1088.2 L309.5,1088.2 L311.1,1088.1 L312.8,1088.0 L314.4,1088.0 L316.1,1087.9 L317.8,1087.9 L319.4,1087.8 L321.1,1087.8 L322.7,1087.7 L324.4,1087.7 L326.0,1087.7 L327.6,1087.6 L329.3,1087.6 L330.9,1087.6 L332.6,1087.6 L334.2,1087.6 L335.9,1087.5 L337.5,1087.5 L339.2,1087.5 L340.9,1087.5 L342.5,1087.5 L344.1,1087.5 L345.8,1087.5 L347.5,1087.5 L349.1,1087.5 L350.8,1087.6 L352.4,1087.6 L354.1,1087.6 L355.7,1087.6 L357.4,1087.6 L359.0,1087.7 L360.6,1087.7 L362.3,1087.7 L363.9,1087.8 L365.6,1087.8 L367.2,1087.9 L368.9,1087.9 L370.6,1088.0 L372.2,1088.0 L373.9,1088.1 L375.5,1088.2 L377.1,1088.2 L378.8,1088.3 L380.4,1088.4 L382.1,1088.4 L383.7,1088.5 L385.4,1088.6 L387.1,1088.7 L388.7,1088.8 L390.4,1088.9 L392.0,1089.0 L393.6,1089.1 L395.3,1089.2 L396.9,1089.3 L398.6,1089.4 L400.2,1089.5 L401.9,1089.6 L403.5,1089.7 L405.2,1089.8 L406.9,1090.0 L408.5,1090.1 L410.1,1090.2 L411.8,1090.3 L413.4,1090.5 L415.1,1090.6 L416.8,1090.8 L418.4,1090.9 L420.0,1091.1 L421.7,1091.2 L423.4,1091.4 L425.0,1091.5 L426.6,1091.7 L428.3,1091.9 L429.9,1092.0 L431.6,1092.2 L433.2,1092.4 L434.9,1092.6 L436.5,1092.7 L438.2,1092.9 L439.9,1093.1 L441.5,1093.3 L443.1,1093.5 L444.8,1093.7 L446.4,1093.9 L448.1,1094.1 L449.8,1094.3 L451.4,1094.5 L453.0,1094.7 L454.7,1094.9 L456.3,1095.2 L458.0,1095.4 L459.7,1095.6 L461.3,1095.8 L462.9,1096.1 L464.6,1096.3 L466.2,1096.6 L467.9,1096.8 L469.5,1097.0 L471.2,1097.3 L472.8,1097.5 L474.5,1097.8 L476.2,1098.1 L477.8,1098.3 L479.4,1098.6 L481.1,1098.9 L482.8,1099.1 L484.4,1099.4 L486.0,1099.7 L487.7,1100.0 L489.3,1100.2 L491.0,1100.5 L492.6,1100.8 L494.3,1101.1 L495.9,1101.4 L497.6,1101.7 L499.2,1102.0 L500.9,1102.3 L502.5,1102.6 L504.2,1102.9 L505.8,1103.3 L507.5,1103.6 L509.1,1103.9 L510.8,1104.2 L512.5,1104.6 L514.1,1104.9 L515.8,1105.2 L517.4,1105.6 L519.0,1105.9 L520.7,1106.3 L522.3,1106.6 L524.0,1107.0 L525.6,1107.3 L527.3,1107.7 L529.0,1108.0 L530.6,1108.4 L532.2,1108.8 L533.9,1109.1 L535.5,1109.5 L537.2,1109.9 L538.8,1110.3 L540.5,1110.7 L542.1,1111.0 L543.8,1111.4 L545.5,1111.8 L547.1,1112.2 L548.8,1112.6 L550.4,1113.0 L552.0,1113.4 L553.7,1113.8 L555.3,1114.3 L557.0,1114.7 L558.6,1115.1 L560.3,1115.5 L562.0,1115.9 L563.6,1116.4 L565.2,1116.8 L566.9,1117.2 L568.5,1117.6 L570.2,1118.1 L571.8,1118.5 L573.5,1118.9 L575.1,1119.3 L576.8,1119.8 L578.5,1120.2 L580.1,1120.5 L581.8,1120.9 L583.4,1121.3 L585.0,1121.6 L586.7,1121.9 L588.3,1122.2 L590.0,1122.4" fill="none" stroke="#F6B27B" stroke-opacity="0.1" stroke-width="6.2" stroke-linejoin="round"/>
<line x1="140.3" y1="1140.0" x2="543.3" y2="1140.0" stroke="#F6B27B" stroke-width="3.8"/>
<circle cx="342.5" cy="1140.0" r="5.8" fill="#F6B27B"/>
<line x1="267.8" y1="1164.3" x2="547.8" y2="1164.3" stroke="#952C80" stroke-width="3.8"/>
<circle cx="431.3" cy="1164.3" r="4.8" fill="#fff" stroke="#952C80" stroke-width="5.2"/>
<line x1="397.4" y1="1188.3" x2="535.1" y2="1188.3" stroke="#000004" stroke-width="3.8"/>
<circle cx="476.1" cy="1188.3" r="4.8" fill="#fff" stroke="#000004" stroke-width="5.2"/>
<line x1="94.2" y1="1216.3" x2="590.8" y2="1216.3" stroke="#999" stroke-width="1.6"/>
<line x1="95.0" y1="1216.3" x2="95.0" y2="1208.3" stroke="#999" stroke-width="1.6"/>
<text x="76.2" y="1238.5" font-size="23" font-weight="bold" stroke="#000" stroke-width="0.6" stroke-linejoin="round" textLength="37.6" lengthAdjust="spacingAndGlyphs" >0.00</text>
<line x1="218.8" y1="1216.3" x2="218.8" y2="1208.3" stroke="#999" stroke-width="1.6"/>
<text x="201.2" y="1238.5" font-size="23" font-weight="bold" stroke="#000" stroke-width="0.6" stroke-linejoin="round" textLength="35.2" lengthAdjust="spacingAndGlyphs" >0.25</text>
<line x1="342.5" y1="1216.3" x2="342.5" y2="1208.3" stroke="#999" stroke-width="1.6"/>
<text x="324.6" y="1238.5" font-size="23" font-weight="bold" stroke="#000" stroke-width="0.6" stroke-linejoin="round" textLength="35.8" lengthAdjust="spacingAndGlyphs" >0.50</text>
<line x1="466.2" y1="1216.3" x2="466.2" y2="1208.3" stroke="#999" stroke-width="1.6"/>
<text x="449.1" y="1238.5" font-size="23" font-weight="bold" stroke="#000" stroke-width="0.6" stroke-linejoin="round" textLength="34.2" lengthAdjust="spacingAndGlyphs" >0.75</text>
<line x1="590.0" y1="1216.3" x2="590.0" y2="1208.3" stroke="#999" stroke-width="1.6"/>
<text x="572.2" y="1238.5" font-size="23" font-weight="bold" stroke="#000" stroke-width="0.6" stroke-linejoin="round" textLength="35.0" lengthAdjust="spacingAndGlyphs" >1.00</text>
<line x1="1073.3" y1="869.3" x2="1073.3" y2="1216.3" stroke="#000" stroke-opacity="0.3" stroke-width="3.6"/>
<path d="M865.4,1123.6 L866.1,1123.6 L866.7,1123.6 L867.4,1123.6 L868.0,1123.6 L868.7,1123.6 L869.4,1123.6 L870.0,1123.6 L870.7,1123.6 L871.3,1123.5 L872.0,1123.5 L872.7,1123.5 L873.3,1123.5 L874.0,1123.4 L874.6,1123.4 L875.3,1123.4 L876.0,1123.4 L876.6,1123.4 L877.3,1123.4 L877.9,1123.4 L878.6,1123.4 L879.3,1123.4 L879.9,1123.4 L880.6,1123.4 L881.2,1123.5 L881.9,1123.5 L882.6,1123.5 L883.2,1123.5 L883.9,1123.5 L884.5,1123.5 L885.2,1123.4 L885.9,1123.4 L886.5,1123.4 L887.2,1123.4 L887.8,1123.3 L888.5,1123.3 L889.2,1123.3 L889.8,1123.3 L890.5,1123.3 L891.1,1123.3 L891.8,1123.2 L892.5,1123.2 L893.1,1123.2 L893.8,1123.2 L894.4,1123.2 L895.1,1123.1 L895.8,1123.1 L896.4,1123.1 L897.1,1123.1 L897.7,1123.0 L898.4,1123.0 L899.1,1123.0 L899.7,1123.0 L900.4,1122.9 L901.0,1122.9 L901.7,1122.9 L902.4,1122.8 L903.0,1122.8 L903.7,1122.7 L904.3,1122.7 L905.0,1122.7 L905.7,1122.6 L906.3,1122.6 L907.0,1122.5 L907.6,1122.5 L908.3,1122.4 L909.0,1122.3 L909.6,1122.3 L910.3,1122.2 L910.9,1122.2 L911.6,1122.1 L912.3,1122.0 L912.9,1122.0 L913.6,1121.9 L914.2,1121.8 L914.9,1121.7 L915.5,1121.7 L916.2,1121.6 L916.9,1121.5 L917.5,1121.4 L918.2,1121.3 L918.8,1121.2 L919.5,1121.1 L920.2,1121.0 L920.8,1120.9 L921.5,1120.8 L922.1,1120.6 L922.8,1120.5 L923.5,1120.4 L924.1,1120.3 L924.8,1120.1 L925.4,1120.0 L926.1,1119.8 L926.7,1119.7 L927.4,1119.5 L928.1,1119.4 L928.7,1119.2 L929.4,1119.0 L930.0,1118.9 L930.7,1118.7 L931.3,1118.5 L932.0,1118.3 L932.6,1118.1 L933.3,1117.9 L934.0,1117.7 L934.6,1117.5 L935.3,1117.2 L935.9,1117.0 L936.6,1116.8 L937.2,1116.6 L937.9,1116.3 L938.6,1116.1 L939.2,1115.8 L939.9,1115.5 L940.5,1115.3 L941.2,1115.0 L941.8,1114.7 L942.5,1114.4 L943.2,1114.1 L943.8,1113.8 L944.5,1113.5 L945.1,1113.1 L945.8,1112.8 L946.4,1112.4 L947.1,1112.1 L947.8,1111.7 L948.4,1111.3 L949.1,1111.0 L949.7,1110.6 L950.4,1110.2 L951.0,1109.7 L951.7,1109.3 L952.4,1108.9 L953.0,1108.4 L953.7,1108.0 L954.3,1107.5 L955.0,1107.0 L955.6,1106.5 L956.3,1106.0 L957.0,1105.5 L957.6,1105.0 L958.3,1104.5 L958.9,1103.9 L959.6,1103.4 L960.2,1102.8 L960.9,1102.2 L961.6,1101.6 L962.2,1101.0 L962.9,1100.4 L963.5,1099.8 L964.2,1099.1 L964.8,1098.5 L965.5,1097.8 L966.2,1097.1 L966.8,1096.4 L967.5,1095.7 L968.1,1095.0 L968.8,1094.2 L969.5,1093.5 L970.1,1092.7 L970.8,1092.0 L971.4,1091.2 L972.1,1090.4 L972.7,1089.6 L973.4,1088.8 L974.1,1087.9 L974.7,1087.1 L975.4,1086.2 L976.0,1085.3 L976.7,1084.5 L977.4,1083.6 L978.0,1082.7 L978.7,1081.7 L979.3,1080.8 L980.0,1079.9 L980.7,1078.9 L981.3,1077.9 L982.0,1077.0 L982.6,1076.0 L983.3,1075.0 L983.9,1074.0 L984.6,1072.9 L985.3,1071.9 L985.9,1070.9 L986.6,1069.8 L987.2,1068.7 L987.9,1067.7 L988.6,1066.6 L989.2,1065.5 L989.9,1064.4 L990.5,1063.3 L991.2,1062.2 L991.9,1061.1 L992.5,1059.9 L993.2,1058.8 L993.8,1057.7 L994.5,1056.5 L995.2,1055.4 L995.8,1054.2 L996.5,1053.1 L997.1,1051.9 L997.8,1050.7 L998.5,1049.6 L999.1,1048.4 L999.8,1047.2 L1000.4,1046.1 L1001.1,1044.9 L1001.8,1043.7 L1002.4,1042.5 L1003.1,1041.4 L1003.7,1040.2 L1004.4,1039.0 L1005.1,1037.9 L1005.7,1036.7 L1006.4,1035.5 L1007.0,1034.4 L1007.7,1033.2 L1008.4,1032.1 L1009.0,1031.0 L1009.7,1029.8 L1010.3,1028.7 L1011.0,1027.6 L1011.7,1026.5 L1012.3,1025.4 L1013.0,1024.3 L1013.6,1023.3 L1014.3,1022.2 L1015.0,1021.2 L1015.6,1020.2 L1016.3,1019.1 L1017.0,1018.1 L1017.6,1017.2 L1018.3,1016.2 L1018.9,1015.3 L1019.6,1014.3 L1020.3,1013.4 L1020.9,1012.5 L1021.6,1011.7 L1022.2,1010.8 L1022.9,1010.0 L1023.6,1009.2 L1024.2,1008.4 L1024.9,1007.6 L1025.6,1006.9 L1026.2,1006.2 L1026.9,1005.5 L1027.6,1004.9 L1028.2,1004.2 L1028.9,1003.6 L1029.5,1003.1 L1030.2,1002.5 L1030.9,1002.0 L1031.5,1001.5 L1032.2,1001.1 L1032.9,1000.6 L1033.6,1000.2 L1034.2,999.9 L1034.9,999.6 L1035.6,999.3 L1036.2,999.0 L1036.9,998.8 L1037.6,998.6 L1038.3,998.4 L1038.9,998.3 L1039.6,998.3 L1040.3,998.2 L1041.0,998.2 L1041.6,998.2 L1042.3,998.3 L1043.0,998.4 L1043.7,998.5 L1044.3,998.7 L1045.0,998.9 L1045.7,999.2 L1046.4,999.5 L1047.0,999.8 L1047.7,1000.2 L1048.4,1000.6 L1049.1,1001.0 L1049.7,1001.5 L1050.4,1002.0 L1051.1,1002.6 L1051.7,1003.2 L1052.4,1003.8 L1053.1,1004.5 L1053.7,1005.2 L1054.4,1005.9 L1055.0,1006.6 L1055.7,1007.4 L1056.4,1008.3 L1057.0,1009.1 L1057.7,1010.0 L1058.4,1011.0 L1059.0,1011.9 L1059.7,1012.9 L1060.4,1013.9 L1061.0,1015.0 L1061.7,1016.1 L1062.3,1017.2 L1063.0,1018.3 L1063.7,1019.5 L1064.3,1020.7 L1065.0,1021.9 L1065.6,1023.1 L1066.3,1024.4 L1067.0,1025.6 L1067.6,1026.9 L1068.3,1028.3 L1068.9,1029.6 L1069.6,1031.0 L1070.3,1032.4 L1070.9,1033.8 L1071.6,1035.2 L1072.3,1036.6 L1072.9,1038.0 L1073.6,1039.5 L1074.2,1040.9 L1074.9,1042.4 L1075.6,1043.9 L1076.2,1045.4 L1076.9,1046.9 L1077.5,1048.4 L1078.2,1049.9 L1078.9,1051.4 L1079.5,1052.9 L1080.2,1054.4 L1080.8,1056.0 L1081.5,1057.5 L1082.2,1059.0 L1082.8,1060.5 L1083.5,1062.0 L1084.1,1063.5 L1084.8,1065.0 L1085.5,1066.5 L1086.1,1068.0 L1086.8,1069.4 L1087.4,1070.9 L1088.1,1072.3 L1088.8,1073.8 L1089.4,1075.2 L1090.1,1076.6 L1090.7,1078.0 L1091.4,1079.4 L1092.0,1080.8 L1092.7,1082.1 L1093.4,1083.4 L1094.0,1084.8 L1094.7,1086.0 L1095.3,1087.3 L1096.0,1088.6 L1096.7,1089.8 L1097.3,1091.0 L1098.0,1092.2 L1098.6,1093.4 L1099.3,1094.5 L1100.0,1095.6 L1100.6,1096.7 L1101.3,1097.8 L1101.9,1098.8 L1102.6,1099.9 L1103.2,1100.9 L1103.9,1101.8 L1104.6,1102.8 L1105.2,1103.7 L1105.9,1104.6 L1106.5,1105.5 L1107.2,1106.3 L1107.9,1107.1 L1108.5,1107.9 L1109.2,1108.7 L1109.8,1109.4 L1110.5,1110.1 L1111.1,1110.8 L1111.8,1111.5 L1112.4,1112.1 L1113.1,1112.7 L1113.8,1113.3 L1114.4,1113.9 L1115.1,1114.5 L1115.7,1115.0 L1116.4,1115.5 L1117.0,1116.0 L1117.7,1116.4 L1118.3,1116.9 L1119.0,1117.3 L1119.6,1117.7 L1120.3,1118.1 L1120.9,1118.5 L1121.6,1118.8 L1122.2,1119.1 L1122.9,1119.5 L1123.5,1119.8 L1124.2,1120.1 L1124.8,1120.3 L1125.5,1120.6 L1126.1,1120.8 L1126.8,1121.0 L1127.5,1121.3 L1128.1,1121.4 L1128.8,1121.6 L1129.4,1121.8 L1130.1,1122.0 L1130.7,1122.1 L1131.4,1122.2 L1132.1,1122.4 L1132.7,1122.5 L1133.4,1122.6 L1134.0,1122.7 L1134.7,1122.8 L1135.3,1122.9 L1136.0,1122.9 L1136.7,1123.0 L1137.3,1123.1 L1138.0,1123.1 L1138.6,1123.2 L1139.3,1123.2 L1140.0,1123.2 L1140.6,1123.3 L1141.3,1123.3 L1141.9,1123.4 L1142.6,1123.4 L1143.3,1123.4 L1143.9,1123.5 L1144.6,1123.5 L1145.2,1123.5 L1145.9,1123.5 L1146.6,1123.6 L1147.2,1123.6 L1147.5,1123.6 L1147.5,1123.6 L865.4,1123.6 Z" fill="#00000E" fill-opacity="0.212"/>
<path d="M865.4,1123.6 L866.1,1123.6 L866.7,1123.6 L867.4,1123.6 L868.0,1123.6 L868.7,1123.6 L869.4,1123.6 L870.0,1123.6 L870.7,1123.6 L871.3,1123.5 L872.0,1123.5 L872.7,1123.5 L873.3,1123.5 L874.0,1123.5 L874.6,1123.4 L875.3,1123.4 L876.0,1123.4 L876.6,1123.4 L877.3,1123.4 L877.9,1123.4 L878.6,1123.4 L879.3,1123.4 L879.9,1123.4 L880.6,1123.4 L881.2,1123.5 L881.9,1123.5 L882.6,1123.5 L883.2,1123.5 L883.9,1123.5 L884.5,1123.5 L885.2,1123.5 L885.9,1123.4 L886.5,1123.4 L887.2,1123.4 L887.8,1123.4 L888.5,1123.3 L889.2,1123.3 L889.8,1123.3 L890.5,1123.3 L891.1,1123.3 L891.8,1123.3 L892.5,1123.2 L893.1,1123.2 L893.8,1123.2 L894.4,1123.2 L895.1,1123.2 L895.8,1123.1 L896.4,1123.1 L897.1,1123.1 L897.7,1123.1 L898.4,1123.0 L899.1,1123.0 L899.7,1123.0 L900.4,1123.0 L901.0,1122.9 L901.7,1122.9 L902.4,1122.9 L903.0,1122.8 L903.7,1122.8 L904.3,1122.7 L905.0,1122.7 L905.7,1122.7 L906.3,1122.6 L907.0,1122.6 L907.6,1122.5 L908.3,1122.5 L909.0,1122.4 L909.6,1122.4 L910.3,1122.3 L910.9,1122.2 L911.6,1122.2 L912.3,1122.1 L912.9,1122.0 L913.6,1122.0 L914.2,1121.9 L914.9,1121.8 L915.6,1121.7 L916.2,1121.7 L916.9,1121.6 L917.5,1121.5 L918.2,1121.4 L918.9,1121.3 L919.5,1121.2 L920.2,1121.1 L920.8,1121.0 L921.5,1120.9 L922.2,1120.8 L922.8,1120.7 L923.5,1120.5 L924.1,1120.4 L924.8,1120.3 L925.5,1120.2 L926.1,1120.0 L926.8,1119.9 L927.4,1119.7 L928.1,1119.6 L928.8,1119.4 L929.4,1119.3 L930.1,1119.1 L930.7,1118.9 L931.4,1118.7 L932.1,1118.5 L932.7,1118.4 L933.4,1118.2 L934.0,1118.0 L934.7,1117.7 L935.4,1117.5 L936.0,1117.3 L936.7,1117.1 L937.3,1116.8 L938.0,1116.6 L938.7,1116.3 L939.3,1116.1 L940.0,1115.8 L940.6,1115.5 L941.3,1115.3 L942.0,1115.0 L942.6,1114.7 L943.3,1114.4 L943.9,1114.1 L944.6,1113.7 L945.3,1113.4 L945.9,1113.1 L946.6,1112.7 L947.2,1112.4 L947.9,1112.0 L948.6,1111.6 L949.2,1111.2 L949.9,1110.8 L950.5,1110.4 L951.2,1110.0 L951.9,1109.6 L952.5,1109.1 L953.2,1108.7 L953.8,1108.2 L954.5,1107.8 L955.2,1107.3 L955.8,1106.8 L956.5,1106.3 L957.1,1105.8 L957.8,1105.2 L958.5,1104.7 L959.1,1104.1 L959.8,1103.6 L960.4,1103.0 L961.1,1102.4 L961.8,1101.8 L962.4,1101.2 L963.1,1100.6 L963.7,1100.0 L964.4,1099.3 L965.1,1098.7 L965.7,1098.0 L966.4,1097.3 L967.0,1096.6 L967.7,1095.9 L968.4,1095.2 L969.0,1094.4 L969.7,1093.7 L970.3,1092.9 L971.0,1092.2 L971.7,1091.4 L972.3,1090.6 L973.0,1089.8 L973.6,1088.9 L974.3,1088.1 L975.0,1087.3 L975.6,1086.4 L976.3,1085.5 L976.9,1084.6 L977.6,1083.7 L978.3,1082.8 L978.9,1081.9 L979.6,1081.0 L980.2,1080.0 L980.9,1079.1 L981.6,1078.1 L982.2,1077.1 L982.9,1076.1 L983.5,1075.1 L984.2,1074.1 L984.9,1073.1 L985.5,1072.1 L986.2,1071.0 L986.8,1070.0 L987.5,1068.9 L988.2,1067.8 L988.8,1066.7 L989.5,1065.7 L990.1,1064.6 L990.8,1063.5 L991.5,1062.3 L992.1,1061.2 L992.8,1060.1 L993.4,1059.0 L994.1,1057.8 L994.8,1056.7 L995.4,1055.5 L996.1,1054.4 L996.7,1053.2 L997.4,1052.1 L998.1,1050.9 L998.7,1049.7 L999.4,1048.5 L1000.0,1047.4 L1000.7,1046.2 L1001.4,1045.0 L1002.0,1043.9 L1002.7,1042.7 L1003.3,1041.5 L1004.0,1040.3 L1004.7,1039.2 L1005.3,1038.0 L1006.0,1036.8 L1006.6,1035.7 L1007.3,1034.5 L1008.0,1033.4 L1008.6,1032.3 L1009.3,1031.1 L1009.9,1030.0 L1010.6,1028.9 L1011.3,1027.8 L1011.9,1026.7 L1012.6,1025.6 L1013.2,1024.5 L1013.9,1023.4 L1014.6,1022.4 L1015.2,1021.3 L1015.9,1020.3 L1016.5,1019.3 L1017.2,1018.3 L1017.9,1017.3 L1018.5,1016.4 L1019.2,1015.4 L1019.8,1014.5 L1020.5,1013.6 L1021.2,1012.7 L1021.8,1011.8 L1022.5,1011.0 L1023.1,1010.2 L1023.8,1009.4 L1024.5,1008.6 L1025.1,1007.8 L1025.8,1007.1 L1026.4,1006.4 L1027.1,1005.7 L1027.8,1005.1 L1028.4,1004.4 L1029.1,1003.9 L1029.7,1003.3 L1030.4,1002.7 L1031.1,1002.2 L1031.7,1001.8 L1032.4,1001.3 L1033.0,1000.9 L1033.7,1000.5 L1034.4,1000.2 L1035.0,999.8 L1035.7,999.5 L1036.3,999.3 L1037.0,999.1 L1037.7,998.9 L1038.3,998.7 L1039.0,998.6 L1039.6,998.5 L1040.3,998.5 L1041.0,998.5 L1041.6,998.5 L1042.3,998.6 L1042.9,998.7 L1043.6,998.8 L1044.3,999.0 L1044.9,999.2 L1045.6,999.5 L1046.2,999.8 L1046.9,1000.1 L1047.6,1000.5 L1048.2,1000.9 L1048.9,1001.3 L1049.5,1001.8 L1050.2,1002.3 L1050.9,1002.8 L1051.5,1003.4 L1052.2,1004.0 L1052.8,1004.7 L1053.5,1005.4 L1054.2,1006.1 L1054.8,1006.8 L1055.5,1007.6 L1056.1,1008.5 L1056.8,1009.3 L1057.5,1010.2 L1058.1,1011.1 L1058.8,1012.1 L1059.4,1013.1 L1060.1,1014.1 L1060.8,1015.1 L1061.4,1016.2 L1062.1,1017.3 L1062.7,1018.5 L1063.4,1019.6 L1064.1,1020.8 L1064.7,1022.0 L1065.4,1023.2 L1066.0,1024.5 L1066.7,1025.8 L1067.4,1027.1 L1068.0,1028.4 L1068.7,1029.7 L1069.3,1031.1 L1070.0,1032.5 L1070.7,1033.9 L1071.3,1035.3 L1072.0,1036.7 L1072.6,1038.2 L1073.3,1039.6 L1074.0,1041.1 L1074.6,1042.5 L1075.3,1044.0 L1075.9,1045.5 L1076.6,1047.0 L1077.3,1048.5 L1077.9,1050.0 L1078.6,1051.5 L1079.2,1053.0 L1079.9,1054.6 L1080.6,1056.1 L1081.2,1057.6 L1081.9,1059.1 L1082.5,1060.6 L1083.2,1062.1 L1083.9,1063.6 L1084.5,1065.1 L1085.2,1066.6 L1085.8,1068.1 L1086.5,1069.6 L1087.2,1071.0 L1087.8,1072.5 L1088.5,1073.9 L1089.1,1075.3 L1089.8,1076.8 L1090.5,1078.1 L1091.1,1079.5 L1091.8,1080.9 L1092.4,1082.2 L1093.1,1083.6 L1093.8,1084.9 L1094.4,1086.2 L1095.1,1087.5 L1095.7,1088.7 L1096.4,1089.9 L1097.1,1091.2 L1097.7,1092.3 L1098.4,1093.5 L1099.0,1094.7 L1099.7,1095.8 L1100.4,1096.9 L1101.0,1097.9 L1101.7,1099.0 L1102.3,1100.0 L1103.0,1101.0 L1103.7,1102.0 L1104.3,1102.9 L1105.0,1103.9 L1105.6,1104.8 L1106.3,1105.6 L1107.0,1106.5 L1107.6,1107.3 L1108.3,1108.1 L1108.9,1108.9 L1109.6,1109.6 L1110.3,1110.3 L1110.9,1111.0 L1111.6,1111.7 L1112.2,1112.3 L1112.9,1113.0 L1113.6,1113.6 L1114.2,1114.1 L1114.9,1114.7 L1115.5,1115.2 L1116.2,1115.7 L1116.9,1116.2 L1117.5,1116.7 L1118.2,1117.1 L1118.8,1117.5 L1119.5,1117.9 L1120.2,1118.3 L1120.8,1118.7 L1121.5,1119.0 L1122.1,1119.3 L1122.8,1119.6 L1123.5,1119.9 L1124.1,1120.2 L1124.8,1120.5 L1125.4,1120.7 L1126.1,1120.9 L1126.8,1121.2 L1127.4,1121.4 L1128.1,1121.5 L1128.7,1121.7 L1129.4,1121.9 L1130.1,1122.0 L1130.7,1122.2 L1131.4,1122.3 L1132.0,1122.4 L1132.7,1122.5 L1133.4,1122.6 L1134.0,1122.7 L1134.7,1122.8 L1135.3,1122.9 L1136.0,1123.0 L1136.7,1123.0 L1137.3,1123.1 L1138.0,1123.1 L1138.6,1123.2 L1139.3,1123.2 L1140.0,1123.3 L1140.6,1123.3 L1141.3,1123.3 L1141.9,1123.4 L1142.6,1123.4 L1143.3,1123.4 L1143.9,1123.5 L1144.6,1123.5 L1145.2,1123.5 L1145.9,1123.5 L1146.6,1123.6 L1147.2,1123.6 L1147.5,1123.6" fill="none" stroke="#00000E" stroke-opacity="0.215" stroke-width="6.2" stroke-linejoin="round"/>
<path d="M699.7,1123.4 L701.1,1123.4 L702.4,1123.3 L703.7,1123.3 L705.0,1123.3 L706.3,1123.2 L707.7,1123.2 L709.0,1123.1 L710.3,1123.1 L711.6,1123.0 L712.9,1122.9 L714.3,1122.9 L715.6,1122.8 L716.9,1122.7 L718.2,1122.6 L719.5,1122.5 L720.9,1122.4 L722.2,1122.3 L723.5,1122.2 L724.8,1122.0 L726.1,1121.9 L727.5,1121.8 L728.8,1121.6 L730.1,1121.5 L731.4,1121.3 L732.7,1121.1 L734.0,1121.0 L735.4,1120.8 L736.7,1120.6 L738.0,1120.4 L739.3,1120.2 L740.6,1120.0 L742.0,1119.7 L743.3,1119.5 L744.6,1119.3 L745.9,1119.0 L747.2,1118.8 L748.5,1118.5 L749.9,1118.2 L751.2,1118.0 L752.5,1117.7 L753.8,1117.4 L755.1,1117.1 L756.4,1116.8 L757.8,1116.5 L759.1,1116.2 L760.4,1115.9 L761.7,1115.5 L763.0,1115.2 L764.3,1114.8 L765.7,1114.5 L767.0,1114.1 L768.3,1113.8 L769.6,1113.4 L770.9,1113.0 L772.3,1112.6 L773.6,1112.2 L774.9,1111.8 L776.2,1111.4 L777.5,1111.0 L778.8,1110.6 L780.2,1110.2 L781.5,1109.8 L782.8,1109.3 L784.1,1108.9 L785.4,1108.4 L786.8,1108.0 L788.1,1107.5 L789.4,1107.0 L790.7,1106.6 L792.0,1106.1 L793.4,1105.6 L794.7,1105.1 L796.0,1104.6 L797.3,1104.1 L798.6,1103.6 L800.0,1103.1 L801.3,1102.6 L802.6,1102.1 L803.9,1101.6 L805.2,1101.1 L806.5,1100.6 L807.9,1100.1 L809.2,1099.5 L810.5,1099.0 L811.8,1098.5 L813.1,1097.9 L814.5,1097.4 L815.8,1096.9 L817.1,1096.3 L818.4,1095.8 L819.7,1095.3 L821.1,1094.7 L822.4,1094.2 L823.7,1093.7 L825.0,1093.1 L826.3,1092.6 L827.7,1092.0 L829.0,1091.5 L830.3,1091.0 L831.6,1090.4 L832.9,1089.9 L834.3,1089.4 L835.6,1088.8 L836.9,1088.3 L838.2,1087.8 L839.5,1087.3 L840.9,1086.7 L842.2,1086.2 L843.5,1085.7 L844.8,1085.2 L846.2,1084.7 L847.5,1084.2 L848.8,1083.7 L850.1,1083.2 L851.4,1082.7 L852.8,1082.2 L854.1,1081.7 L855.4,1081.2 L856.7,1080.8 L858.0,1080.3 L859.4,1079.8 L860.7,1079.4 L862.0,1078.9 L863.3,1078.5 L864.6,1078.0 L866.0,1077.6 L867.3,1077.2 L868.6,1076.8 L869.9,1076.4 L871.3,1076.0 L872.6,1075.6 L873.9,1075.2 L875.2,1074.8 L876.5,1074.4 L877.9,1074.1 L879.2,1073.7 L880.5,1073.4 L881.8,1073.0 L883.1,1072.7 L884.5,1072.4 L885.8,1072.1 L887.1,1071.8 L888.4,1071.5 L889.8,1071.2 L891.1,1070.9 L892.4,1070.6 L893.7,1070.4 L895.0,1070.1 L896.4,1069.9 L897.7,1069.7 L899.0,1069.5 L900.3,1069.2 L901.7,1069.1 L903.0,1068.9 L904.3,1068.7 L905.6,1068.5 L906.9,1068.4 L908.3,1068.2 L909.6,1068.1 L910.9,1068.0 L912.2,1067.9 L913.6,1067.8 L914.9,1067.7 L916.2,1067.6 L917.5,1067.5 L918.8,1067.5 L920.2,1067.4 L921.5,1067.4 L922.8,1067.4 L924.1,1067.4 L925.5,1067.4 L926.8,1067.4 L928.1,1067.4 L929.4,1067.4 L930.8,1067.5 L932.1,1067.5 L933.4,1067.6 L934.7,1067.7 L936.0,1067.8 L937.4,1067.9 L938.7,1068.0 L940.0,1068.1 L941.3,1068.2 L942.7,1068.4 L944.0,1068.5 L945.3,1068.7 L946.6,1068.9 L947.9,1069.1 L949.3,1069.2 L950.6,1069.5 L951.9,1069.7 L953.2,1069.9 L954.6,1070.1 L955.9,1070.4 L957.2,1070.6 L958.5,1070.9 L959.8,1071.2 L961.2,1071.5 L962.5,1071.8 L963.8,1072.1 L965.1,1072.4 L966.5,1072.7 L967.8,1073.0 L969.1,1073.4 L970.4,1073.7 L971.7,1074.1 L973.1,1074.4 L974.4,1074.8 L975.7,1075.2 L977.0,1075.6 L978.3,1076.0 L979.7,1076.4 L981.0,1076.8 L982.3,1077.2 L983.6,1077.6 L985.0,1078.0 L986.3,1078.5 L987.6,1078.9 L988.9,1079.4 L990.2,1079.8 L991.6,1080.3 L992.9,1080.8 L994.2,1081.2 L995.5,1081.7 L996.8,1082.2 L998.2,1082.7 L999.5,1083.2 L1000.8,1083.7 L1002.1,1084.2 L1003.4,1084.7 L1004.8,1085.2 L1006.1,1085.7 L1007.4,1086.2 L1008.7,1086.7 L1010.1,1087.3 L1011.4,1087.8 L1012.7,1088.3 L1014.0,1088.8 L1015.3,1089.4 L1016.7,1089.9 L1018.0,1090.4 L1019.3,1091.0 L1020.6,1091.5 L1021.9,1092.0 L1023.3,1092.6 L1024.6,1093.1 L1025.9,1093.7 L1027.2,1094.2 L1028.5,1094.7 L1029.9,1095.3 L1031.2,1095.8 L1032.5,1096.3 L1033.8,1096.9 L1035.1,1097.4 L1036.5,1097.9 L1037.8,1098.5 L1039.1,1099.0 L1040.4,1099.5 L1041.7,1100.1 L1043.1,1100.6 L1044.4,1101.1 L1045.7,1101.6 L1047.0,1102.1 L1048.3,1102.6 L1049.6,1103.1 L1051.0,1103.6 L1052.3,1104.1 L1053.6,1104.6 L1054.9,1105.1 L1056.2,1105.6 L1057.6,1106.1 L1058.9,1106.6 L1060.2,1107.0 L1061.5,1107.5 L1062.8,1108.0 L1064.2,1108.4 L1065.5,1108.9 L1066.8,1109.3 L1068.1,1109.8 L1069.4,1110.2 L1070.8,1110.6 L1072.1,1111.0 L1073.4,1111.4 L1074.7,1111.8 L1076.0,1112.2 L1077.3,1112.6 L1078.7,1113.0 L1080.0,1113.4 L1081.3,1113.8 L1082.6,1114.1 L1083.9,1114.5 L1085.3,1114.8 L1086.6,1115.2 L1087.9,1115.5 L1089.2,1115.9 L1090.5,1116.2 L1091.8,1116.5 L1093.2,1116.8 L1094.5,1117.1 L1095.8,1117.4 L1097.1,1117.7 L1098.4,1118.0 L1099.7,1118.2 L1101.1,1118.5 L1102.4,1118.8 L1103.7,1119.0 L1105.0,1119.3 L1106.3,1119.5 L1107.6,1119.7 L1109.0,1120.0 L1110.3,1120.2 L1111.6,1120.4 L1112.9,1120.6 L1114.2,1120.8 L1115.6,1121.0 L1116.9,1121.1 L1118.2,1121.3 L1119.5,1121.5 L1120.8,1121.6 L1122.1,1121.8 L1123.5,1121.9 L1124.8,1122.0 L1126.1,1122.2 L1127.4,1122.3 L1128.7,1122.4 L1130.1,1122.5 L1131.4,1122.6 L1132.7,1122.7 L1134.0,1122.8 L1135.3,1122.9 L1136.7,1122.9 L1138.0,1123.0 L1139.3,1123.1 L1140.6,1123.1 L1141.9,1123.2 L1143.3,1123.2 L1144.6,1123.3 L1145.9,1123.3 L1147.2,1123.3 L1148.5,1123.4 L1149.9,1123.4 L1151.2,1123.4 L1152.5,1123.5 L1153.8,1123.5 L1155.1,1123.5 L1156.5,1123.5 L1157.8,1123.5 L1159.1,1123.6 L1159.8,1123.6 L1159.8,1123.6 L699.7,1123.6 Z" fill="#952C80" fill-opacity="0.15"/>
<path d="M699.7,1123.4 L701.1,1123.4 L702.4,1123.4 L703.7,1123.3 L705.0,1123.3 L706.3,1123.2 L707.7,1123.2 L709.0,1123.1 L710.3,1123.1 L711.6,1123.0 L712.9,1123.0 L714.3,1122.9 L715.6,1122.8 L716.9,1122.7 L718.2,1122.6 L719.5,1122.5 L720.9,1122.4 L722.2,1122.3 L723.5,1122.2 L724.8,1122.1 L726.1,1122.0 L727.5,1121.9 L728.8,1121.7 L730.1,1121.6 L731.4,1121.4 L732.7,1121.3 L734.1,1121.1 L735.4,1120.9 L736.7,1120.7 L738.0,1120.5 L739.3,1120.3 L740.7,1120.1 L742.0,1119.9 L743.3,1119.7 L744.6,1119.5 L745.9,1119.2 L747.3,1119.0 L748.6,1118.8 L749.9,1118.5 L751.2,1118.2 L752.5,1118.0 L753.9,1117.7 L755.2,1117.4 L756.5,1117.1 L757.8,1116.8 L759.1,1116.5 L760.5,1116.1 L761.8,1115.8 L763.1,1115.5 L764.4,1115.1 L765.7,1114.8 L767.1,1114.4 L768.4,1114.1 L769.7,1113.7 L771.0,1113.3 L772.3,1112.9 L773.7,1112.5 L775.0,1112.1 L776.3,1111.7 L777.6,1111.3 L778.9,1110.9 L780.3,1110.5 L781.6,1110.0 L782.9,1109.6 L784.2,1109.2 L785.5,1108.7 L786.9,1108.2 L788.2,1107.8 L789.5,1107.3 L790.8,1106.9 L792.1,1106.4 L793.5,1105.9 L794.8,1105.4 L796.1,1104.9 L797.4,1104.4 L798.7,1103.9 L800.1,1103.4 L801.4,1102.9 L802.7,1102.4 L804.0,1101.9 L805.3,1101.4 L806.7,1100.9 L808.0,1100.3 L809.3,1099.8 L810.6,1099.3 L811.9,1098.8 L813.3,1098.2 L814.6,1097.7 L815.9,1097.2 L817.2,1096.6 L818.5,1096.1 L819.9,1095.5 L821.2,1095.0 L822.5,1094.5 L823.8,1093.9 L825.1,1093.4 L826.5,1092.9 L827.8,1092.3 L829.1,1091.8 L830.4,1091.2 L831.7,1090.7 L833.1,1090.2 L834.4,1089.6 L835.7,1089.1 L837.0,1088.6 L838.3,1088.1 L839.7,1087.5 L841.0,1087.0 L842.3,1086.5 L843.6,1086.0 L844.9,1085.5 L846.3,1085.0 L847.6,1084.5 L848.9,1084.0 L850.2,1083.5 L851.5,1083.0 L852.9,1082.5 L854.2,1082.0 L855.5,1081.5 L856.8,1081.0 L858.1,1080.6 L859.5,1080.1 L860.8,1079.7 L862.1,1079.2 L863.4,1078.8 L864.7,1078.3 L866.1,1077.9 L867.4,1077.5 L868.7,1077.1 L870.0,1076.7 L871.3,1076.2 L872.7,1075.9 L874.0,1075.5 L875.3,1075.1 L876.6,1074.7 L877.9,1074.4 L879.3,1074.0 L880.6,1073.6 L881.9,1073.3 L883.2,1073.0 L884.5,1072.7 L885.9,1072.3 L887.2,1072.0 L888.5,1071.8 L889.8,1071.5 L891.1,1071.2 L892.5,1070.9 L893.8,1070.7 L895.1,1070.4 L896.4,1070.2 L897.7,1070.0 L899.1,1069.7 L900.4,1069.5 L901.7,1069.3 L903.0,1069.2 L904.3,1069.0 L905.7,1068.8 L907.0,1068.7 L908.3,1068.5 L909.6,1068.4 L910.9,1068.3 L912.3,1068.2 L913.6,1068.1 L914.9,1068.0 L916.2,1067.9 L917.5,1067.8 L918.9,1067.8 L920.2,1067.7 L921.5,1067.7 L922.8,1067.7 L924.1,1067.7 L925.5,1067.7 L926.8,1067.7 L928.1,1067.7 L929.4,1067.7 L930.7,1067.8 L932.1,1067.8 L933.4,1067.9 L934.7,1068.0 L936.0,1068.1 L937.3,1068.2 L938.7,1068.3 L940.0,1068.4 L941.3,1068.5 L942.6,1068.7 L943.9,1068.8 L945.3,1069.0 L946.6,1069.2 L947.9,1069.3 L949.2,1069.5 L950.5,1069.7 L951.9,1070.0 L953.2,1070.2 L954.5,1070.4 L955.8,1070.7 L957.1,1070.9 L958.5,1071.2 L959.8,1071.5 L961.1,1071.8 L962.4,1072.0 L963.7,1072.3 L965.1,1072.7 L966.4,1073.0 L967.7,1073.3 L969.0,1073.6 L970.3,1074.0 L971.7,1074.4 L973.0,1074.7 L974.3,1075.1 L975.6,1075.5 L976.9,1075.9 L978.3,1076.2 L979.6,1076.7 L980.9,1077.1 L982.2,1077.5 L983.5,1077.9 L984.9,1078.3 L986.2,1078.8 L987.5,1079.2 L988.8,1079.7 L990.1,1080.1 L991.5,1080.6 L992.8,1081.0 L994.1,1081.5 L995.4,1082.0 L996.7,1082.5 L998.1,1083.0 L999.4,1083.5 L1000.7,1084.0 L1002.0,1084.5 L1003.3,1085.0 L1004.7,1085.5 L1006.0,1086.0 L1007.3,1086.5 L1008.6,1087.0 L1009.9,1087.5 L1011.3,1088.1 L1012.6,1088.6 L1013.9,1089.1 L1015.2,1089.6 L1016.5,1090.2 L1017.9,1090.7 L1019.2,1091.2 L1020.5,1091.8 L1021.8,1092.3 L1023.1,1092.9 L1024.5,1093.4 L1025.8,1093.9 L1027.1,1094.5 L1028.4,1095.0 L1029.7,1095.5 L1031.1,1096.1 L1032.4,1096.6 L1033.7,1097.2 L1035.0,1097.7 L1036.3,1098.2 L1037.7,1098.8 L1039.0,1099.3 L1040.3,1099.8 L1041.6,1100.3 L1042.9,1100.9 L1044.3,1101.4 L1045.6,1101.9 L1046.9,1102.4 L1048.2,1102.9 L1049.5,1103.4 L1050.9,1103.9 L1052.2,1104.4 L1053.5,1104.9 L1054.8,1105.4 L1056.1,1105.9 L1057.5,1106.4 L1058.8,1106.9 L1060.1,1107.3 L1061.4,1107.8 L1062.7,1108.2 L1064.1,1108.7 L1065.4,1109.2 L1066.7,1109.6 L1068.0,1110.0 L1069.3,1110.5 L1070.7,1110.9 L1072.0,1111.3 L1073.3,1111.7 L1074.6,1112.1 L1075.9,1112.5 L1077.3,1112.9 L1078.6,1113.3 L1079.9,1113.7 L1081.2,1114.1 L1082.5,1114.4 L1083.9,1114.8 L1085.2,1115.1 L1086.5,1115.5 L1087.8,1115.8 L1089.1,1116.1 L1090.5,1116.5 L1091.8,1116.8 L1093.1,1117.1 L1094.4,1117.4 L1095.7,1117.7 L1097.1,1118.0 L1098.4,1118.2 L1099.7,1118.5 L1101.0,1118.8 L1102.3,1119.0 L1103.7,1119.2 L1105.0,1119.5 L1106.3,1119.7 L1107.6,1119.9 L1108.9,1120.1 L1110.3,1120.3 L1111.6,1120.5 L1112.9,1120.7 L1114.2,1120.9 L1115.5,1121.1 L1116.9,1121.3 L1118.2,1121.4 L1119.5,1121.6 L1120.8,1121.7 L1122.1,1121.9 L1123.5,1122.0 L1124.8,1122.1 L1126.1,1122.2 L1127.4,1122.3 L1128.7,1122.4 L1130.1,1122.5 L1131.4,1122.6 L1132.7,1122.7 L1134.0,1122.8 L1135.3,1122.9 L1136.7,1123.0 L1138.0,1123.0 L1139.3,1123.1 L1140.6,1123.1 L1141.9,1123.2 L1143.3,1123.2 L1144.6,1123.3 L1145.9,1123.3 L1147.2,1123.4 L1148.5,1123.4 L1149.9,1123.4 L1151.2,1123.4 L1152.5,1123.5 L1153.8,1123.5 L1155.1,1123.5 L1156.5,1123.5 L1157.8,1123.6 L1159.1,1123.6 L1159.8,1123.6" fill="none" stroke="#952C80" stroke-opacity="0.13" stroke-width="6.2" stroke-linejoin="round"/>
<path d="M677.3,917.8 L678.3,909.7 L680.2,910.9 L681.5,915.2 L682.9,918.9 L684.2,922.0 L685.5,926.1 L686.8,931.7 L688.2,938.8 L689.5,946.9 L690.8,955.6 L692.1,964.5 L693.4,973.3 L694.8,981.9 L696.1,990.0 L697.4,997.5 L698.7,1004.4 L700.0,1010.7 L701.4,1016.2 L702.7,1021.2 L704.0,1025.5 L705.3,1029.3 L706.6,1032.8 L707.9,1035.8 L709.2,1038.6 L710.6,1041.2 L711.9,1043.6 L713.2,1045.8 L714.5,1047.8 L715.8,1049.8 L717.1,1051.6 L718.5,1053.4 L719.8,1055.0 L721.1,1056.6 L722.4,1058.1 L723.7,1059.6 L725.0,1061.0 L726.4,1062.3 L727.7,1063.6 L729.0,1064.8 L730.3,1066.0 L731.6,1067.2 L732.9,1068.3 L734.2,1069.4 L735.6,1070.4 L736.9,1071.4 L738.2,1072.4 L739.5,1073.3 L740.8,1074.2 L742.1,1075.1 L743.5,1076.0 L744.8,1076.8 L746.1,1077.6 L747.4,1078.4 L748.7,1079.2 L750.0,1079.9 L751.4,1080.7 L752.7,1081.4 L754.0,1082.1 L755.3,1082.7 L756.6,1083.4 L758.0,1084.0 L759.3,1084.7 L760.6,1085.3 L761.9,1085.9 L763.2,1086.5 L764.5,1087.1 L765.9,1087.6 L767.2,1088.2 L768.5,1088.7 L769.8,1089.3 L771.1,1089.8 L772.4,1090.3 L773.8,1090.8 L775.1,1091.3 L776.4,1091.8 L777.7,1092.2 L779.0,1092.7 L780.4,1093.1 L781.7,1093.6 L783.0,1094.0 L784.3,1094.4 L785.6,1094.9 L786.9,1095.3 L788.3,1095.7 L789.6,1096.1 L790.9,1096.5 L792.2,1096.9 L793.5,1097.2 L794.9,1097.6 L796.2,1098.0 L797.5,1098.3 L798.8,1098.7 L800.1,1099.0 L801.5,1099.4 L802.8,1099.7 L804.1,1100.1 L805.4,1100.4 L806.7,1100.7 L808.0,1101.0 L809.4,1101.3 L810.7,1101.6 L812.0,1102.0 L813.3,1102.2 L814.6,1102.5 L816.0,1102.8 L817.3,1103.1 L818.6,1103.4 L819.9,1103.7 L821.2,1103.9 L822.6,1104.2 L823.9,1104.5 L825.2,1104.7 L826.5,1105.0 L827.8,1105.3 L829.2,1105.5 L830.5,1105.8 L831.8,1106.0 L833.1,1106.2 L834.4,1106.5 L835.8,1106.7 L837.1,1106.9 L838.4,1107.2 L839.7,1107.4 L841.0,1107.6 L842.3,1107.8 L843.7,1108.0 L845.0,1108.3 L846.3,1108.5 L847.6,1108.7 L848.9,1108.9 L850.3,1109.1 L851.6,1109.3 L852.9,1109.5 L854.2,1109.7 L855.5,1109.9 L856.9,1110.0 L858.2,1110.2 L859.5,1110.4 L860.8,1110.6 L862.1,1110.8 L863.5,1111.0 L864.8,1111.1 L866.1,1111.3 L867.4,1111.5 L868.7,1111.6 L870.1,1111.8 L871.4,1112.0 L872.7,1112.1 L874.0,1112.3 L875.3,1112.4 L876.7,1112.6 L878.0,1112.8 L879.3,1112.9 L880.6,1113.1 L881.9,1113.2 L883.3,1113.4 L884.6,1113.5 L885.9,1113.6 L887.2,1113.8 L888.5,1113.9 L889.9,1114.1 L891.2,1114.2 L892.5,1114.3 L893.8,1114.5 L895.1,1114.6 L896.4,1114.7 L897.8,1114.8 L899.1,1115.0 L900.4,1115.1 L901.7,1115.2 L903.0,1115.3 L904.4,1115.5 L905.7,1115.6 L907.0,1115.7 L908.3,1115.8 L909.6,1115.9 L911.0,1116.0 L912.3,1116.2 L913.6,1116.3 L914.9,1116.4 L916.2,1116.5 L917.6,1116.6 L918.9,1116.7 L920.2,1116.8 L921.5,1116.9 L922.8,1117.0 L924.2,1117.1 L925.5,1117.2 L926.8,1117.3 L928.1,1117.4 L929.4,1117.5 L930.8,1117.6 L932.1,1117.7 L933.4,1117.8 L934.7,1117.9 L936.0,1118.0 L937.4,1118.1 L938.7,1118.2 L940.0,1118.2 L941.3,1118.3 L942.6,1118.4 L944.0,1118.5 L945.3,1118.6 L946.6,1118.7 L947.9,1118.8 L949.2,1118.8 L950.6,1118.9 L951.9,1119.0 L953.2,1119.1 L954.5,1119.2 L955.8,1119.2 L957.2,1119.3 L958.5,1119.4 L959.8,1119.5 L961.1,1119.5 L962.4,1119.6 L963.7,1119.7 L965.1,1119.8 L966.4,1119.8 L967.7,1119.9 L969.0,1120.0 L970.3,1120.0 L971.7,1120.1 L973.0,1120.2 L974.3,1120.2 L975.6,1120.3 L976.9,1120.3 L978.3,1120.4 L979.6,1120.5 L980.9,1120.5 L982.2,1120.6 L983.5,1120.6 L984.9,1120.7 L986.2,1120.8 L987.5,1120.8 L988.8,1120.9 L990.1,1120.9 L991.5,1121.0 L992.8,1121.0 L994.1,1121.1 L995.4,1121.1 L996.7,1121.2 L998.1,1121.2 L999.4,1121.3 L1000.7,1121.3 L1002.0,1121.4 L1003.3,1121.4 L1004.7,1121.5 L1006.0,1121.5 L1007.3,1121.6 L1008.6,1121.6 L1009.9,1121.7 L1011.3,1121.7 L1012.6,1121.7 L1013.9,1121.8 L1015.2,1121.8 L1016.5,1121.9 L1017.9,1121.9 L1019.2,1121.9 L1020.5,1122.0 L1021.8,1122.0 L1023.1,1122.1 L1024.5,1122.1 L1025.8,1122.1 L1027.1,1122.2 L1028.4,1122.2 L1029.7,1122.2 L1031.1,1122.3 L1032.4,1122.3 L1033.7,1122.3 L1035.0,1122.4 L1036.3,1122.4 L1037.7,1122.4 L1039.0,1122.5 L1040.3,1122.5 L1041.6,1122.5 L1042.9,1122.5 L1044.3,1122.6 L1045.6,1122.6 L1046.9,1122.6 L1048.2,1122.7 L1049.5,1122.7 L1050.9,1122.7 L1052.2,1122.7 L1053.5,1122.8 L1054.8,1122.8 L1056.1,1122.8 L1057.5,1122.8 L1058.8,1122.9 L1060.1,1122.9 L1061.4,1122.9 L1062.7,1122.9 L1064.1,1122.9 L1065.4,1123.0 L1066.7,1123.0 L1068.0,1123.0 L1069.3,1123.0 L1070.7,1123.0 L1072.0,1123.1 L1073.3,1123.1 L1074.6,1123.1 L1075.9,1123.1 L1077.3,1123.1 L1078.6,1123.1 L1079.9,1123.2 L1081.2,1123.2 L1082.5,1123.2 L1083.9,1123.2 L1085.2,1123.2 L1086.5,1123.2 L1087.8,1123.3 L1089.1,1123.3 L1090.5,1123.3 L1091.8,1123.3 L1093.1,1123.3 L1094.4,1123.3 L1095.7,1123.3 L1097.1,1123.3 L1098.4,1123.4 L1099.7,1123.4 L1101.0,1123.4 L1102.3,1123.4 L1103.7,1123.4 L1105.0,1123.4 L1106.3,1123.4 L1107.6,1123.4 L1108.9,1123.4 L1110.3,1123.5 L1111.6,1123.5 L1112.9,1123.5 L1114.2,1123.5 L1115.5,1123.5 L1116.9,1123.5 L1118.2,1123.5 L1119.5,1123.5 L1120.8,1123.5 L1122.1,1123.5 L1123.5,1123.5 L1124.8,1123.5 L1126.1,1123.5 L1127.4,1123.5 L1128.7,1123.5 L1130.1,1123.5 L1131.4,1123.5 L1132.7,1123.5 L1134.0,1123.5 L1135.3,1123.6 L1136.7,1123.6 L1138.0,1123.6 L1139.3,1123.6 L1140.0,1123.6 L1140.0,1123.6 L677.3,1123.6 Z" fill="#F6B27B" fill-opacity="0.13"/>
<path d="M677.3,917.8 L678.6,909.8 L679.9,911.1 L681.3,915.3 L682.6,919.0 L683.9,922.1 L685.2,926.2 L686.5,931.8 L687.9,938.8 L689.2,946.9 L690.5,955.6 L691.8,964.5 L693.1,973.4 L694.5,981.9 L695.8,990.0 L697.1,997.6 L698.4,1004.5 L699.7,1010.7 L701.1,1016.3 L702.4,1021.2 L703.7,1025.6 L705.0,1029.5 L706.3,1032.9 L707.7,1036.0 L709.0,1038.8 L710.3,1041.3 L711.6,1043.7 L712.9,1045.9 L714.3,1048.0 L715.6,1049.9 L716.9,1051.8 L718.2,1053.6 L719.5,1055.2 L720.9,1056.8 L722.2,1058.3 L723.5,1059.8 L724.8,1061.2 L726.1,1062.5 L727.5,1063.8 L728.8,1065.1 L730.1,1066.3 L731.4,1067.4 L732.7,1068.5 L734.1,1069.6 L735.4,1070.6 L736.7,1071.6 L738.0,1072.6 L739.3,1073.6 L740.7,1074.5 L742.0,1075.4 L743.3,1076.2 L744.6,1077.1 L745.9,1077.9 L747.3,1078.7 L748.6,1079.4 L749.9,1080.2 L751.2,1080.9 L752.5,1081.6 L753.9,1082.3 L755.2,1083.0 L756.5,1083.7 L757.8,1084.3 L759.1,1085.0 L760.5,1085.6 L761.8,1086.2 L763.1,1086.8 L764.4,1087.3 L765.7,1087.9 L767.1,1088.5 L768.4,1089.0 L769.7,1089.5 L771.0,1090.1 L772.3,1090.6 L773.7,1091.1 L775.0,1091.6 L776.3,1092.0 L777.6,1092.5 L778.9,1093.0 L780.3,1093.4 L781.6,1093.9 L782.9,1094.3 L784.2,1094.7 L785.5,1095.2 L786.9,1095.6 L788.2,1096.0 L789.5,1096.4 L790.8,1096.8 L792.1,1097.2 L793.5,1097.5 L794.8,1097.9 L796.1,1098.3 L797.4,1098.6 L798.7,1099.0 L800.1,1099.3 L801.4,1099.7 L802.7,1100.0 L804.0,1100.4 L805.3,1100.7 L806.7,1101.0 L808.0,1101.3 L809.3,1101.6 L810.6,1101.9 L811.9,1102.2 L813.3,1102.5 L814.6,1102.8 L815.9,1103.1 L817.2,1103.4 L818.5,1103.7 L819.9,1104.0 L821.2,1104.2 L822.5,1104.5 L823.8,1104.8 L825.1,1105.0 L826.5,1105.3 L827.8,1105.6 L829.1,1105.8 L830.4,1106.0 L831.7,1106.3 L833.1,1106.5 L834.4,1106.8 L835.7,1107.0 L837.0,1107.2 L838.3,1107.5 L839.7,1107.7 L841.0,1107.9 L842.3,1108.1 L843.6,1108.3 L844.9,1108.6 L846.3,1108.8 L847.6,1109.0 L848.9,1109.2 L850.2,1109.4 L851.5,1109.6 L852.9,1109.8 L854.2,1110.0 L855.5,1110.2 L856.8,1110.3 L858.1,1110.5 L859.5,1110.7 L860.8,1110.9 L862.1,1111.1 L863.4,1111.3 L864.7,1111.4 L866.1,1111.6 L867.4,1111.8 L868.7,1111.9 L870.0,1112.1 L871.3,1112.3 L872.7,1112.4 L874.0,1112.6 L875.3,1112.7 L876.6,1112.9 L877.9,1113.1 L879.3,1113.2 L880.6,1113.4 L881.9,1113.5 L883.2,1113.7 L884.5,1113.8 L885.9,1113.9 L887.2,1114.1 L888.5,1114.2 L889.8,1114.4 L891.1,1114.5 L892.5,1114.6 L893.8,1114.8 L895.1,1114.9 L896.4,1115.0 L897.7,1115.1 L899.1,1115.3 L900.4,1115.4 L901.7,1115.5 L903.0,1115.6 L904.3,1115.8 L905.7,1115.9 L907.0,1116.0 L908.3,1116.1 L909.6,1116.2 L910.9,1116.3 L912.3,1116.5 L913.6,1116.6 L914.9,1116.7 L916.2,1116.8 L917.5,1116.9 L918.9,1117.0 L920.2,1117.1 L921.5,1117.2 L922.8,1117.3 L924.1,1117.4 L925.5,1117.5 L926.8,1117.6 L928.1,1117.7 L929.4,1117.8 L930.7,1117.9 L932.1,1118.0 L933.4,1118.1 L934.7,1118.1 L936.0,1118.2 L937.3,1118.3 L938.7,1118.4 L940.0,1118.5 L941.3,1118.6 L942.6,1118.7 L943.9,1118.7 L945.3,1118.8 L946.6,1118.9 L947.9,1119.0 L949.2,1119.1 L950.5,1119.1 L951.9,1119.2 L953.2,1119.3 L954.5,1119.4 L955.8,1119.4 L957.1,1119.5 L958.5,1119.6 L959.8,1119.7 L961.1,1119.7 L962.4,1119.8 L963.7,1119.9 L965.1,1119.9 L966.4,1120.0 L967.7,1120.1 L969.0,1120.1 L970.3,1120.2 L971.7,1120.3 L973.0,1120.3 L974.3,1120.4 L975.6,1120.4 L976.9,1120.5 L978.3,1120.6 L979.6,1120.6 L980.9,1120.7 L982.2,1120.7 L983.5,1120.8 L984.9,1120.8 L986.2,1120.9 L987.5,1120.9 L988.8,1121.0 L990.1,1121.1 L991.5,1121.1 L992.8,1121.2 L994.1,1121.2 L995.4,1121.3 L996.7,1121.3 L998.1,1121.3 L999.4,1121.4 L1000.7,1121.4 L1002.0,1121.5 L1003.3,1121.5 L1004.7,1121.6 L1006.0,1121.6 L1007.3,1121.7 L1008.6,1121.7 L1009.9,1121.7 L1011.3,1121.8 L1012.6,1121.8 L1013.9,1121.9 L1015.2,1121.9 L1016.5,1121.9 L1017.9,1122.0 L1019.2,1122.0 L1020.5,1122.1 L1021.8,1122.1 L1023.1,1122.1 L1024.5,1122.2 L1025.8,1122.2 L1027.1,1122.2 L1028.4,1122.3 L1029.7,1122.3 L1031.1,1122.3 L1032.4,1122.4 L1033.7,1122.4 L1035.0,1122.4 L1036.3,1122.5 L1037.7,1122.5 L1039.0,1122.5 L1040.3,1122.5 L1041.6,1122.6 L1042.9,1122.6 L1044.3,1122.6 L1045.6,1122.6 L1046.9,1122.7 L1048.2,1122.7 L1049.5,1122.7 L1050.9,1122.8 L1052.2,1122.8 L1053.5,1122.8 L1054.8,1122.8 L1056.1,1122.8 L1057.5,1122.9 L1058.8,1122.9 L1060.1,1122.9 L1061.4,1122.9 L1062.7,1123.0 L1064.1,1123.0 L1065.4,1123.0 L1066.7,1123.0 L1068.0,1123.0 L1069.3,1123.0 L1070.7,1123.1 L1072.0,1123.1 L1073.3,1123.1 L1074.6,1123.1 L1075.9,1123.1 L1077.3,1123.2 L1078.6,1123.2 L1079.9,1123.2 L1081.2,1123.2 L1082.5,1123.2 L1083.9,1123.2 L1085.2,1123.2 L1086.5,1123.3 L1087.8,1123.3 L1089.1,1123.3 L1090.5,1123.3 L1091.8,1123.3 L1093.1,1123.3 L1094.4,1123.3 L1095.7,1123.3 L1097.1,1123.4 L1098.4,1123.4 L1099.7,1123.4 L1101.0,1123.4 L1102.3,1123.4 L1103.7,1123.4 L1105.0,1123.4 L1106.3,1123.4 L1107.6,1123.4 L1108.9,1123.4 L1110.3,1123.5 L1111.6,1123.5 L1112.9,1123.5 L1114.2,1123.5 L1115.5,1123.5 L1116.9,1123.5 L1118.2,1123.5 L1119.5,1123.5 L1120.8,1123.5 L1122.1,1123.5 L1123.5,1123.5 L1124.8,1123.5 L1126.1,1123.5 L1127.4,1123.5 L1128.7,1123.5 L1130.1,1123.5 L1131.4,1123.5 L1132.7,1123.5 L1134.0,1123.6 L1135.3,1123.6 L1136.7,1123.6 L1138.0,1123.6 L1139.3,1123.6 L1140.0,1123.6" fill="none" stroke="#F6B27B" stroke-opacity="0.1" stroke-width="6.2" stroke-linejoin="round"/>
<line x1="677.4" y1="1140.0" x2="942.4" y2="1140.0" stroke="#F6B27B" stroke-width="3.8"/>
<circle cx="710.7" cy="1140.0" r="5.8" fill="#F6B27B"/>
<line x1="775.8" y1="1164.3" x2="1073.8" y2="1164.3" stroke="#952C80" stroke-width="3.8"/>
<circle cx="924.8" cy="1164.3" r="4.8" fill="#fff" stroke="#952C80" stroke-width="5.2"/>
<line x1="955.0" y1="1188.3" x2="1100.8" y2="1188.3" stroke="#000004" stroke-width="3.8"/>
<circle cx="1036.2" cy="1188.3" r="4.8" fill="#fff" stroke="#000004" stroke-width="5.2"/>
<line x1="676.5" y1="1216.3" x2="1173.1" y2="1216.3" stroke="#999" stroke-width="1.6"/>
<line x1="677.3" y1="1216.3" x2="677.3" y2="1208.3" stroke="#999" stroke-width="1.6"/>
<text x="658.5" y="1238.5" font-size="23" font-weight="bold" stroke="#000" stroke-width="0.6" stroke-linejoin="round" textLength="37.6" lengthAdjust="spacingAndGlyphs" >0.00</text>
<line x1="801.0" y1="1216.3" x2="801.0" y2="1208.3" stroke="#999" stroke-width="1.6"/>
<text x="783.4" y="1238.5" font-size="23" font-weight="bold" stroke="#000" stroke-width="0.6" stroke-linejoin="round" textLength="35.2" lengthAdjust="spacingAndGlyphs" >0.25</text>
<line x1="924.8" y1="1216.3" x2="924.8" y2="1208.3" stroke="#999" stroke-width="1.6"/>
<text x="906.9" y="1238.5" font-size="23" font-weight="bold" stroke="#000" stroke-width="0.6" stroke-linejoin="round" textLength="35.8" lengthAdjust="spacingAndGlyphs" >0.50</text>
<line x1="1048.5" y1="1216.3" x2="1048.5" y2="1208.3" stroke="#999" stroke-width="1.6"/>
<text x="1031.5" y="1238.5" font-size="23" font-weight="bold" stroke="#000" stroke-width="0.6" stroke-linejoin="round" textLength="34.2" lengthAdjust="spacingAndGlyphs" >0.75</text>
<line x1="1172.3" y1="1216.3" x2="1172.3" y2="1208.3" stroke="#999" stroke-width="1.6"/>
<text x="1154.5" y="1238.5" font-size="23" font-weight="bold" stroke="#000" stroke-width="0.6" stroke-linejoin="round" textLength="35.0" lengthAdjust="spacingAndGlyphs" >1.00</text>
<line x1="1655.7" y1="869.3" x2="1655.7" y2="1216.3" stroke="#000" stroke-opacity="0.3" stroke-width="3.6"/>
<path d="M1497.3,1123.6 L1498.0,1123.6 L1498.6,1123.6 L1499.3,1123.6 L1499.9,1123.6 L1500.6,1123.6 L1501.3,1123.6 L1501.9,1123.6 L1502.6,1123.6 L1503.2,1123.5 L1503.9,1123.5 L1504.6,1123.5 L1505.2,1123.4 L1505.9,1123.4 L1506.5,1123.4 L1507.2,1123.4 L1507.9,1123.3 L1508.5,1123.3 L1509.2,1123.3 L1509.8,1123.4 L1510.5,1123.4 L1511.2,1123.4 L1511.8,1123.5 L1512.5,1123.5 L1513.1,1123.5 L1513.8,1123.5 L1514.5,1123.5 L1515.1,1123.5 L1515.8,1123.5 L1516.4,1123.5 L1517.1,1123.5 L1517.8,1123.4 L1518.4,1123.4 L1519.1,1123.4 L1519.7,1123.3 L1520.4,1123.3 L1521.1,1123.3 L1521.7,1123.3 L1522.4,1123.3 L1523.0,1123.3 L1523.7,1123.3 L1524.4,1123.3 L1525.0,1123.2 L1525.7,1123.2 L1526.3,1123.2 L1527.0,1123.2 L1527.7,1123.2 L1528.3,1123.1 L1529.0,1123.1 L1529.6,1123.1 L1530.3,1123.1 L1531.0,1123.0 L1531.6,1123.0 L1532.3,1123.0 L1532.9,1122.9 L1533.6,1122.9 L1534.3,1122.9 L1534.9,1122.8 L1535.6,1122.8 L1536.2,1122.8 L1536.9,1122.7 L1537.6,1122.7 L1538.2,1122.6 L1538.9,1122.6 L1539.5,1122.6 L1540.2,1122.5 L1540.9,1122.5 L1541.5,1122.4 L1542.2,1122.4 L1542.8,1122.3 L1543.5,1122.2 L1544.2,1122.2 L1544.8,1122.1 L1545.5,1122.0 L1546.1,1122.0 L1546.8,1121.9 L1547.5,1121.8 L1548.1,1121.7 L1548.8,1121.7 L1549.4,1121.6 L1550.1,1121.5 L1550.7,1121.4 L1551.4,1121.3 L1552.1,1121.2 L1552.7,1121.2 L1553.4,1121.1 L1554.0,1121.0 L1554.7,1120.9 L1555.4,1120.8 L1556.0,1120.7 L1556.7,1120.7 L1557.3,1120.6 L1558.0,1120.5 L1558.7,1120.5 L1559.3,1120.4 L1560.0,1120.3 L1560.6,1120.3 L1561.3,1120.2 L1562.0,1120.1 L1562.6,1120.0 L1563.3,1119.9 L1563.9,1119.9 L1564.6,1119.8 L1565.2,1119.6 L1565.9,1119.5 L1566.6,1119.4 L1567.2,1119.3 L1567.9,1119.1 L1568.5,1119.0 L1569.2,1118.8 L1569.8,1118.6 L1570.5,1118.4 L1571.1,1118.2 L1571.8,1118.0 L1572.5,1117.8 L1573.1,1117.6 L1573.8,1117.3 L1574.4,1117.1 L1575.1,1116.8 L1575.7,1116.6 L1576.4,1116.3 L1577.0,1116.0 L1577.7,1115.7 L1578.4,1115.4 L1579.0,1115.1 L1579.7,1114.8 L1580.3,1114.4 L1581.0,1114.1 L1581.6,1113.7 L1582.3,1113.3 L1582.9,1112.9 L1583.6,1112.5 L1584.3,1112.1 L1584.9,1111.7 L1585.6,1111.2 L1586.2,1110.8 L1586.9,1110.3 L1587.5,1109.8 L1588.2,1109.3 L1588.9,1108.8 L1589.5,1108.2 L1590.2,1107.7 L1590.8,1107.1 L1591.5,1106.6 L1592.1,1106.0 L1592.8,1105.4 L1593.5,1104.7 L1594.1,1104.1 L1594.8,1103.4 L1595.4,1102.8 L1596.1,1102.1 L1596.7,1101.4 L1597.4,1100.7 L1598.1,1099.9 L1598.7,1099.2 L1599.4,1098.4 L1600.0,1097.6 L1600.7,1096.8 L1601.3,1096.0 L1602.0,1095.2 L1602.7,1094.3 L1603.3,1093.4 L1604.0,1092.5 L1604.6,1091.6 L1605.3,1090.6 L1606.0,1089.7 L1606.6,1088.7 L1607.3,1087.6 L1607.9,1086.6 L1608.6,1085.5 L1609.2,1084.4 L1609.9,1083.3 L1610.6,1082.1 L1611.2,1080.9 L1611.9,1079.7 L1612.5,1078.4 L1613.2,1077.2 L1613.9,1075.9 L1614.5,1074.6 L1615.2,1073.2 L1615.8,1071.9 L1616.5,1070.5 L1617.1,1069.1 L1617.8,1067.7 L1618.5,1066.3 L1619.1,1064.8 L1619.8,1063.4 L1620.4,1061.9 L1621.1,1060.3 L1621.8,1058.8 L1622.4,1057.2 L1623.1,1055.6 L1623.7,1054.0 L1624.4,1052.3 L1625.1,1050.7 L1625.7,1048.9 L1626.4,1047.2 L1627.0,1045.4 L1627.7,1043.6 L1628.4,1041.7 L1629.0,1039.9 L1629.7,1038.0 L1630.3,1036.0 L1631.0,1034.1 L1631.7,1032.2 L1632.3,1030.3 L1633.0,1028.4 L1633.6,1026.5 L1634.3,1024.6 L1635.0,1022.8 L1635.6,1021.0 L1636.3,1019.2 L1636.9,1017.5 L1637.6,1015.8 L1638.3,1014.1 L1638.9,1012.5 L1639.6,1010.9 L1640.2,1009.4 L1640.9,1007.9 L1641.6,1006.5 L1642.2,1005.1 L1642.9,1003.8 L1643.6,1002.6 L1644.2,1001.4 L1644.9,1000.2 L1645.5,999.1 L1646.2,998.1 L1646.9,997.1 L1647.5,996.2 L1648.2,995.3 L1648.9,994.5 L1649.5,993.7 L1650.2,992.9 L1650.9,992.2 L1651.5,991.5 L1652.2,990.8 L1652.9,990.2 L1653.5,989.6 L1654.2,989.0 L1654.8,988.5 L1655.5,987.9 L1656.2,987.4 L1656.8,986.9 L1657.5,986.4 L1658.2,985.9 L1658.8,985.4 L1659.5,984.9 L1660.1,984.5 L1660.8,984.0 L1661.5,983.6 L1662.1,983.1 L1662.8,982.7 L1663.5,982.3 L1664.1,981.9 L1664.8,981.5 L1665.5,981.2 L1666.1,980.9 L1666.8,980.6 L1667.5,980.4 L1668.2,980.1 L1668.8,980.0 L1669.5,979.8 L1670.2,979.7 L1670.9,979.7 L1671.5,979.7 L1672.2,979.7 L1672.9,979.7 L1673.6,979.9 L1674.3,980.0 L1674.9,980.2 L1675.6,980.4 L1676.3,980.7 L1677.0,981.1 L1677.6,981.5 L1678.3,981.9 L1679.0,982.4 L1679.7,983.0 L1680.3,983.6 L1681.0,984.3 L1681.7,985.0 L1682.3,985.8 L1683.0,986.7 L1683.7,987.7 L1684.3,988.7 L1685.0,989.7 L1685.7,990.9 L1686.3,992.1 L1687.0,993.4 L1687.7,994.8 L1688.3,996.2 L1689.0,997.8 L1689.6,999.4 L1690.3,1001.0 L1691.0,1002.8 L1691.6,1004.6 L1692.3,1006.4 L1692.9,1008.3 L1693.6,1010.3 L1694.3,1012.3 L1694.9,1014.4 L1695.6,1016.4 L1696.2,1018.6 L1696.9,1020.7 L1697.6,1022.9 L1698.2,1025.1 L1698.9,1027.3 L1699.5,1029.6 L1700.2,1031.8 L1700.9,1034.1 L1701.5,1036.3 L1702.2,1038.6 L1702.8,1040.9 L1703.5,1043.1 L1704.2,1045.4 L1704.8,1047.7 L1705.5,1049.9 L1706.1,1052.1 L1706.8,1054.3 L1707.5,1056.5 L1708.1,1058.7 L1708.8,1060.9 L1709.4,1063.0 L1710.1,1065.1 L1710.8,1067.2 L1711.4,1069.3 L1712.1,1071.3 L1712.7,1073.3 L1713.4,1075.3 L1714.1,1077.2 L1714.7,1079.1 L1715.4,1081.0 L1716.0,1082.9 L1716.7,1084.7 L1717.4,1086.4 L1718.0,1088.2 L1718.7,1089.8 L1719.3,1091.5 L1720.0,1093.1 L1720.7,1094.7 L1721.3,1096.2 L1722.0,1097.7 L1722.6,1099.1 L1723.3,1100.5 L1723.9,1101.8 L1724.6,1103.1 L1725.3,1104.3 L1725.9,1105.5 L1726.6,1106.6 L1727.2,1107.7 L1727.9,1108.8 L1728.5,1109.8 L1729.2,1110.7 L1729.9,1111.6 L1730.5,1112.5 L1731.2,1113.4 L1731.8,1114.2 L1732.5,1114.9 L1733.1,1115.7 L1733.8,1116.4 L1734.5,1117.0 L1735.1,1117.7 L1735.7,1118.3 L1736.4,1118.9 L1737.0,1119.5 L1737.6,1120.0 L1738.3,1120.5 L1738.9,1121.0 L1739.6,1121.4 L1740.2,1121.7 L1740.9,1122.1 L1741.5,1122.4 L1742.2,1122.6 L1742.2,1123.6 L1497.3,1123.6 Z" fill="#00000E" fill-opacity="0.212"/>
<path d="M1497.3,1123.6 L1498.0,1123.6 L1498.6,1123.6 L1499.3,1123.6 L1499.9,1123.6 L1500.6,1123.6 L1501.3,1123.6 L1501.9,1123.6 L1502.6,1123.6 L1503.2,1123.5 L1503.9,1123.5 L1504.6,1123.5 L1505.2,1123.4 L1505.9,1123.4 L1506.5,1123.4 L1507.2,1123.4 L1507.9,1123.3 L1508.5,1123.3 L1509.2,1123.4 L1509.8,1123.4 L1510.5,1123.4 L1511.2,1123.4 L1511.8,1123.5 L1512.5,1123.5 L1513.1,1123.5 L1513.8,1123.5 L1514.5,1123.5 L1515.1,1123.5 L1515.8,1123.5 L1516.4,1123.5 L1517.1,1123.5 L1517.8,1123.4 L1518.4,1123.4 L1519.1,1123.4 L1519.7,1123.4 L1520.4,1123.3 L1521.1,1123.3 L1521.7,1123.3 L1522.4,1123.3 L1523.0,1123.3 L1523.7,1123.3 L1524.4,1123.3 L1525.0,1123.3 L1525.7,1123.2 L1526.3,1123.2 L1527.0,1123.2 L1527.7,1123.2 L1528.3,1123.2 L1529.0,1123.1 L1529.6,1123.1 L1530.3,1123.1 L1531.0,1123.1 L1531.6,1123.0 L1532.3,1123.0 L1532.9,1123.0 L1533.6,1122.9 L1534.3,1122.9 L1534.9,1122.9 L1535.6,1122.8 L1536.2,1122.8 L1536.9,1122.8 L1537.6,1122.7 L1538.2,1122.7 L1538.9,1122.7 L1539.5,1122.6 L1540.2,1122.6 L1540.9,1122.5 L1541.5,1122.5 L1542.2,1122.4 L1542.8,1122.4 L1543.5,1122.3 L1544.2,1122.2 L1544.8,1122.2 L1545.5,1122.1 L1546.1,1122.1 L1546.8,1122.0 L1547.5,1121.9 L1548.1,1121.8 L1548.8,1121.8 L1549.4,1121.7 L1550.1,1121.6 L1550.8,1121.5 L1551.4,1121.4 L1552.1,1121.4 L1552.7,1121.3 L1553.4,1121.2 L1554.1,1121.1 L1554.7,1121.0 L1555.4,1120.9 L1556.0,1120.9 L1556.7,1120.8 L1557.4,1120.7 L1558.0,1120.7 L1558.7,1120.6 L1559.3,1120.5 L1560.0,1120.5 L1560.7,1120.4 L1561.3,1120.3 L1562.0,1120.3 L1562.6,1120.2 L1563.3,1120.1 L1564.0,1120.0 L1564.6,1119.9 L1565.3,1119.8 L1565.9,1119.7 L1566.6,1119.6 L1567.3,1119.5 L1567.9,1119.3 L1568.6,1119.2 L1569.2,1119.0 L1569.9,1118.8 L1570.6,1118.7 L1571.2,1118.5 L1571.9,1118.3 L1572.5,1118.1 L1573.2,1117.8 L1573.9,1117.6 L1574.5,1117.4 L1575.2,1117.1 L1575.8,1116.9 L1576.5,1116.6 L1577.2,1116.3 L1577.8,1116.0 L1578.5,1115.7 L1579.1,1115.4 L1579.8,1115.0 L1580.5,1114.7 L1581.1,1114.3 L1581.8,1114.0 L1582.4,1113.6 L1583.1,1113.2 L1583.8,1112.8 L1584.4,1112.3 L1585.1,1111.9 L1585.7,1111.5 L1586.4,1111.0 L1587.1,1110.5 L1587.7,1110.0 L1588.4,1109.5 L1589.0,1109.0 L1589.7,1108.5 L1590.4,1107.9 L1591.0,1107.4 L1591.7,1106.8 L1592.3,1106.2 L1593.0,1105.6 L1593.7,1105.0 L1594.3,1104.3 L1595.0,1103.7 L1595.6,1103.0 L1596.3,1102.3 L1597.0,1101.6 L1597.6,1100.9 L1598.3,1100.1 L1598.9,1099.4 L1599.6,1098.6 L1600.3,1097.8 L1600.9,1097.0 L1601.6,1096.2 L1602.2,1095.3 L1602.9,1094.5 L1603.6,1093.6 L1604.2,1092.7 L1604.9,1091.8 L1605.5,1090.8 L1606.2,1089.8 L1606.9,1088.8 L1607.5,1087.8 L1608.2,1086.7 L1608.8,1085.7 L1609.5,1084.6 L1610.2,1083.4 L1610.8,1082.2 L1611.5,1081.1 L1612.1,1079.8 L1612.8,1078.6 L1613.5,1077.3 L1614.1,1076.0 L1614.8,1074.7 L1615.4,1073.4 L1616.1,1072.0 L1616.8,1070.7 L1617.4,1069.3 L1618.1,1067.8 L1618.7,1066.4 L1619.4,1065.0 L1620.1,1063.5 L1620.7,1062.0 L1621.4,1060.5 L1622.0,1058.9 L1622.7,1057.3 L1623.4,1055.7 L1624.0,1054.1 L1624.7,1052.5 L1625.3,1050.8 L1626.0,1049.0 L1626.7,1047.3 L1627.3,1045.5 L1628.0,1043.7 L1628.6,1041.8 L1629.3,1039.9 L1630.0,1038.1 L1630.6,1036.1 L1631.3,1034.2 L1631.9,1032.3 L1632.6,1030.4 L1633.3,1028.5 L1633.9,1026.6 L1634.6,1024.7 L1635.2,1022.9 L1635.9,1021.1 L1636.6,1019.3 L1637.2,1017.6 L1637.9,1015.9 L1638.5,1014.2 L1639.2,1012.6 L1639.9,1011.0 L1640.5,1009.5 L1641.2,1008.0 L1641.8,1006.6 L1642.5,1005.3 L1643.2,1004.0 L1643.8,1002.7 L1644.5,1001.5 L1645.1,1000.4 L1645.8,999.3 L1646.5,998.3 L1647.1,997.3 L1647.8,996.4 L1648.4,995.5 L1649.1,994.7 L1649.8,993.9 L1650.4,993.1 L1651.1,992.4 L1651.7,991.7 L1652.4,991.1 L1653.1,990.4 L1653.7,989.8 L1654.4,989.2 L1655.0,988.7 L1655.7,988.1 L1656.4,987.6 L1657.0,987.1 L1657.7,986.6 L1658.3,986.1 L1659.0,985.6 L1659.7,985.2 L1660.3,984.7 L1661.0,984.2 L1661.6,983.8 L1662.3,983.4 L1663.0,983.0 L1663.6,982.6 L1664.3,982.2 L1664.9,981.8 L1665.6,981.5 L1666.3,981.2 L1666.9,980.9 L1667.6,980.6 L1668.2,980.4 L1668.9,980.3 L1669.6,980.1 L1670.2,980.0 L1670.9,980.0 L1671.5,980.0 L1672.2,980.0 L1672.9,980.0 L1673.5,980.1 L1674.2,980.3 L1674.8,980.5 L1675.5,980.7 L1676.2,981.0 L1676.8,981.3 L1677.5,981.7 L1678.1,982.2 L1678.8,982.6 L1679.5,983.2 L1680.1,983.8 L1680.8,984.5 L1681.4,985.2 L1682.1,986.0 L1682.8,986.9 L1683.4,987.8 L1684.1,988.8 L1684.7,989.9 L1685.4,991.0 L1686.1,992.3 L1686.7,993.6 L1687.4,994.9 L1688.0,996.4 L1688.7,997.9 L1689.4,999.5 L1690.0,1001.1 L1690.7,1002.9 L1691.3,1004.7 L1692.0,1006.5 L1692.7,1008.4 L1693.3,1010.4 L1694.0,1012.4 L1694.6,1014.4 L1695.3,1016.5 L1696.0,1018.7 L1696.6,1020.8 L1697.3,1023.0 L1697.9,1025.2 L1698.6,1027.4 L1699.3,1029.6 L1699.9,1031.9 L1700.6,1034.1 L1701.2,1036.4 L1701.9,1038.7 L1702.6,1041.0 L1703.2,1043.2 L1703.9,1045.5 L1704.5,1047.7 L1705.2,1050.0 L1705.9,1052.2 L1706.5,1054.4 L1707.2,1056.6 L1707.8,1058.8 L1708.5,1061.0 L1709.2,1063.1 L1709.8,1065.2 L1710.5,1067.3 L1711.1,1069.4 L1711.8,1071.4 L1712.5,1073.4 L1713.1,1075.4 L1713.8,1077.3 L1714.4,1079.2 L1715.1,1081.1 L1715.8,1083.0 L1716.4,1084.8 L1717.1,1086.5 L1717.7,1088.3 L1718.4,1090.0 L1719.1,1091.6 L1719.7,1093.2 L1720.4,1094.8 L1721.0,1096.3 L1721.7,1097.8 L1722.4,1099.2 L1723.0,1100.6 L1723.7,1101.9 L1724.3,1103.2 L1725.0,1104.5 L1725.7,1105.6 L1726.3,1106.8 L1727.0,1107.9 L1727.6,1108.9 L1728.3,1109.9 L1729.0,1110.9 L1729.6,1111.8 L1730.3,1112.7 L1730.9,1113.5 L1731.6,1114.3 L1732.3,1115.1 L1732.9,1115.9 L1733.6,1116.6 L1734.2,1117.2 L1734.9,1117.9 L1735.6,1118.5 L1736.2,1119.1 L1736.9,1119.6 L1737.5,1120.1 L1738.2,1120.6 L1738.9,1121.1 L1739.5,1121.5 L1740.2,1121.8 L1740.8,1122.1 L1741.5,1122.4 L1742.2,1122.7" fill="none" stroke="#00000E" stroke-opacity="0.215" stroke-width="6.2" stroke-linejoin="round"/>
<path d="M1357.4,1123.6 L1358.7,1123.6 L1360.0,1123.6 L1361.3,1123.6 L1362.7,1123.6 L1364.0,1123.6 L1365.3,1123.6 L1366.6,1123.6 L1367.9,1123.6 L1369.3,1123.6 L1370.6,1123.6 L1371.9,1123.6 L1373.2,1123.6 L1374.5,1123.5 L1375.9,1123.5 L1377.2,1123.5 L1378.5,1123.5 L1379.8,1123.5 L1381.1,1123.5 L1382.5,1123.5 L1383.8,1123.5 L1385.1,1123.5 L1386.4,1123.5 L1387.7,1123.5 L1389.1,1123.5 L1390.4,1123.5 L1391.7,1123.5 L1393.0,1123.5 L1394.3,1123.5 L1395.7,1123.5 L1397.0,1123.5 L1398.3,1123.5 L1399.6,1123.5 L1400.9,1123.4 L1402.3,1123.4 L1403.6,1123.4 L1404.9,1123.4 L1406.2,1123.4 L1407.5,1123.4 L1408.9,1123.4 L1410.2,1123.4 L1411.5,1123.4 L1412.8,1123.3 L1414.1,1123.3 L1415.5,1123.3 L1416.8,1123.3 L1418.1,1123.3 L1419.4,1123.3 L1420.7,1123.2 L1422.1,1123.2 L1423.4,1123.2 L1424.7,1123.2 L1426.0,1123.2 L1427.3,1123.1 L1428.7,1123.1 L1430.0,1123.1 L1431.3,1123.1 L1432.6,1123.1 L1433.9,1123.0 L1435.3,1123.0 L1436.6,1123.0 L1437.9,1122.9 L1439.2,1122.9 L1440.5,1122.9 L1441.9,1122.8 L1443.2,1122.8 L1444.5,1122.8 L1445.8,1122.7 L1447.1,1122.7 L1448.5,1122.7 L1449.8,1122.6 L1451.1,1122.6 L1452.4,1122.5 L1453.7,1122.5 L1455.1,1122.4 L1456.4,1122.4 L1457.7,1122.3 L1459.0,1122.3 L1460.3,1122.2 L1461.7,1122.2 L1463.0,1122.1 L1464.3,1122.1 L1465.6,1122.0 L1466.9,1121.9 L1468.3,1121.9 L1469.6,1121.8 L1470.9,1121.7 L1472.2,1121.7 L1473.5,1121.6 L1474.9,1121.5 L1476.2,1121.4 L1477.5,1121.3 L1478.8,1121.3 L1480.1,1121.2 L1481.5,1121.1 L1482.8,1121.0 L1484.1,1120.9 L1485.4,1120.8 L1486.7,1120.7 L1488.0,1120.6 L1489.4,1120.5 L1490.7,1120.4 L1492.0,1120.3 L1493.3,1120.2 L1494.6,1120.0 L1496.0,1119.9 L1497.3,1119.8 L1498.6,1119.7 L1499.9,1119.5 L1501.2,1119.4 L1502.6,1119.3 L1503.9,1119.1 L1505.2,1119.0 L1506.5,1118.8 L1507.8,1118.7 L1509.2,1118.5 L1510.5,1118.3 L1511.8,1118.2 L1513.1,1118.0 L1514.4,1117.8 L1515.7,1117.6 L1517.1,1117.5 L1518.4,1117.3 L1519.7,1117.1 L1521.0,1116.9 L1522.3,1116.7 L1523.7,1116.5 L1525.0,1116.3 L1526.3,1116.1 L1527.6,1115.9 L1528.9,1115.7 L1530.2,1115.4 L1531.6,1115.2 L1532.9,1115.0 L1534.2,1114.7 L1535.5,1114.5 L1536.8,1114.2 L1538.2,1114.0 L1539.5,1113.7 L1540.8,1113.5 L1542.1,1113.2 L1543.4,1112.9 L1544.8,1112.6 L1546.1,1112.3 L1547.4,1112.1 L1548.7,1111.8 L1550.0,1111.4 L1551.3,1111.1 L1552.7,1110.8 L1554.0,1110.5 L1555.3,1110.2 L1556.6,1109.8 L1557.9,1109.5 L1559.3,1109.1 L1560.6,1108.8 L1561.9,1108.4 L1563.2,1108.0 L1564.5,1107.6 L1565.9,1107.2 L1567.2,1106.8 L1568.5,1106.4 L1569.8,1106.0 L1571.1,1105.6 L1572.4,1105.2 L1573.8,1104.8 L1575.1,1104.3 L1576.4,1103.9 L1577.7,1103.4 L1579.0,1102.9 L1580.4,1102.5 L1581.7,1102.0 L1583.0,1101.5 L1584.3,1101.0 L1585.6,1100.5 L1587.0,1100.0 L1588.3,1099.5 L1589.6,1098.9 L1590.9,1098.4 L1592.2,1097.9 L1593.5,1097.3 L1594.9,1096.7 L1596.2,1096.2 L1597.5,1095.6 L1598.8,1095.0 L1600.1,1094.4 L1601.5,1093.8 L1602.8,1093.2 L1604.1,1092.6 L1605.4,1091.9 L1606.7,1091.3 L1608.0,1090.6 L1609.4,1090.0 L1610.7,1089.3 L1612.0,1088.6 L1613.3,1087.9 L1614.6,1087.2 L1616.0,1086.5 L1617.3,1085.8 L1618.6,1085.1 L1619.9,1084.4 L1621.2,1083.7 L1622.6,1082.9 L1623.9,1082.2 L1625.2,1081.4 L1626.5,1080.6 L1627.8,1079.8 L1629.1,1079.1 L1630.5,1078.3 L1631.8,1077.5 L1633.1,1076.6 L1634.4,1075.8 L1635.7,1075.0 L1637.1,1074.2 L1638.4,1073.3 L1639.7,1072.5 L1641.0,1071.6 L1642.3,1070.8 L1643.7,1069.9 L1645.0,1069.0 L1646.3,1068.2 L1647.6,1067.3 L1648.9,1066.4 L1650.3,1065.5 L1651.6,1064.6 L1652.9,1063.7 L1654.2,1062.8 L1655.5,1061.9 L1656.8,1060.9 L1658.2,1060.0 L1659.5,1059.1 L1660.8,1058.2 L1662.1,1057.2 L1663.4,1056.3 L1664.8,1055.4 L1666.1,1054.4 L1667.4,1053.5 L1668.7,1052.6 L1670.0,1051.7 L1671.4,1050.7 L1672.7,1049.8 L1674.0,1048.9 L1675.3,1048.0 L1676.6,1047.0 L1678.0,1046.1 L1679.3,1045.2 L1680.6,1044.3 L1681.9,1043.4 L1683.3,1042.6 L1684.6,1041.7 L1685.9,1040.8 L1687.2,1040.0 L1688.5,1039.2 L1689.9,1038.3 L1691.2,1037.5 L1692.5,1036.8 L1693.8,1036.0 L1695.2,1035.2 L1696.5,1034.5 L1697.8,1033.8 L1699.1,1033.1 L1700.5,1032.5 L1701.8,1031.9 L1703.1,1031.3 L1704.4,1030.7 L1705.8,1030.2 L1707.1,1029.7 L1708.4,1029.3 L1709.7,1028.9 L1711.1,1028.6 L1712.4,1028.3 L1713.7,1028.1 L1715.1,1027.9 L1716.4,1027.8 L1717.7,1027.7 L1719.1,1027.8 L1720.4,1027.9 L1721.8,1028.1 L1723.1,1028.4 L1724.4,1028.7 L1725.8,1029.2 L1727.1,1029.9 L1728.5,1030.6 L1729.8,1031.5 L1731.1,1032.6 L1732.5,1033.8 L1733.8,1035.3 L1735.1,1036.9 L1736.5,1038.9 L1737.8,1041.1 L1739.1,1043.6 L1740.5,1046.4 L1741.8,1049.6 L1743.1,1053.2 L1744.4,1057.1 L1745.7,1061.5 L1747.1,1066.1 L1748.4,1071.1 L1749.7,1076.2 L1751.0,1081.5 L1752.4,1086.8 L1753.7,1091.9 L1754.7,1096.9 L1754.7,1123.6 L1357.4,1123.6 Z" fill="#952C80" fill-opacity="0.15"/>
<path d="M1357.4,1123.6 L1358.7,1123.6 L1360.0,1123.6 L1361.3,1123.6 L1362.7,1123.6 L1364.0,1123.6 L1365.3,1123.6 L1366.6,1123.6 L1367.9,1123.6 L1369.3,1123.6 L1370.6,1123.6 L1371.9,1123.6 L1373.2,1123.6 L1374.5,1123.5 L1375.9,1123.5 L1377.2,1123.5 L1378.5,1123.5 L1379.8,1123.5 L1381.1,1123.5 L1382.5,1123.5 L1383.8,1123.5 L1385.1,1123.5 L1386.4,1123.5 L1387.7,1123.5 L1389.1,1123.5 L1390.4,1123.5 L1391.7,1123.5 L1393.0,1123.5 L1394.3,1123.5 L1395.7,1123.5 L1397.0,1123.5 L1398.3,1123.5 L1399.6,1123.5 L1400.9,1123.5 L1402.3,1123.4 L1403.6,1123.4 L1404.9,1123.4 L1406.2,1123.4 L1407.5,1123.4 L1408.9,1123.4 L1410.2,1123.4 L1411.5,1123.4 L1412.8,1123.4 L1414.1,1123.3 L1415.5,1123.3 L1416.8,1123.3 L1418.1,1123.3 L1419.4,1123.3 L1420.7,1123.3 L1422.1,1123.2 L1423.4,1123.2 L1424.7,1123.2 L1426.0,1123.2 L1427.3,1123.2 L1428.7,1123.1 L1430.0,1123.1 L1431.3,1123.1 L1432.6,1123.1 L1433.9,1123.1 L1435.3,1123.0 L1436.6,1123.0 L1437.9,1123.0 L1439.2,1122.9 L1440.5,1122.9 L1441.9,1122.9 L1443.2,1122.8 L1444.5,1122.8 L1445.8,1122.8 L1447.1,1122.7 L1448.5,1122.7 L1449.8,1122.7 L1451.1,1122.6 L1452.4,1122.6 L1453.7,1122.5 L1455.1,1122.5 L1456.4,1122.4 L1457.7,1122.4 L1459.0,1122.3 L1460.3,1122.3 L1461.7,1122.2 L1463.0,1122.2 L1464.3,1122.1 L1465.6,1122.1 L1466.9,1122.0 L1468.3,1121.9 L1469.6,1121.9 L1470.9,1121.8 L1472.2,1121.7 L1473.5,1121.7 L1474.9,1121.6 L1476.2,1121.5 L1477.5,1121.5 L1478.8,1121.4 L1480.1,1121.3 L1481.5,1121.2 L1482.8,1121.1 L1484.1,1121.0 L1485.4,1120.9 L1486.7,1120.8 L1488.1,1120.7 L1489.4,1120.6 L1490.7,1120.5 L1492.0,1120.4 L1493.3,1120.3 L1494.7,1120.2 L1496.0,1120.1 L1497.3,1120.0 L1498.6,1119.8 L1499.9,1119.7 L1501.3,1119.6 L1502.6,1119.5 L1503.9,1119.3 L1505.2,1119.2 L1506.5,1119.0 L1507.9,1118.9 L1509.2,1118.7 L1510.5,1118.6 L1511.8,1118.4 L1513.1,1118.3 L1514.5,1118.1 L1515.8,1117.9 L1517.1,1117.7 L1518.4,1117.6 L1519.7,1117.4 L1521.1,1117.2 L1522.4,1117.0 L1523.7,1116.8 L1525.0,1116.6 L1526.3,1116.4 L1527.7,1116.2 L1529.0,1116.0 L1530.3,1115.7 L1531.6,1115.5 L1532.9,1115.3 L1534.3,1115.0 L1535.6,1114.8 L1536.9,1114.5 L1538.2,1114.3 L1539.5,1114.0 L1540.9,1113.8 L1542.2,1113.5 L1543.5,1113.2 L1544.8,1112.9 L1546.1,1112.6 L1547.5,1112.3 L1548.8,1112.0 L1550.1,1111.7 L1551.4,1111.4 L1552.7,1111.1 L1554.1,1110.8 L1555.4,1110.4 L1556.7,1110.1 L1558.0,1109.8 L1559.3,1109.4 L1560.7,1109.0 L1562.0,1108.7 L1563.3,1108.3 L1564.6,1107.9 L1565.9,1107.5 L1567.3,1107.1 L1568.6,1106.7 L1569.9,1106.3 L1571.2,1105.9 L1572.5,1105.5 L1573.9,1105.0 L1575.2,1104.6 L1576.5,1104.1 L1577.8,1103.7 L1579.1,1103.2 L1580.5,1102.8 L1581.8,1102.3 L1583.1,1101.8 L1584.4,1101.3 L1585.7,1100.8 L1587.1,1100.3 L1588.4,1099.7 L1589.7,1099.2 L1591.0,1098.7 L1592.3,1098.1 L1593.7,1097.6 L1595.0,1097.0 L1596.3,1096.4 L1597.6,1095.9 L1598.9,1095.3 L1600.3,1094.7 L1601.6,1094.1 L1602.9,1093.4 L1604.2,1092.8 L1605.5,1092.2 L1606.9,1091.5 L1608.2,1090.9 L1609.5,1090.2 L1610.8,1089.6 L1612.1,1088.9 L1613.5,1088.2 L1614.8,1087.5 L1616.1,1086.8 L1617.4,1086.1 L1618.7,1085.4 L1620.1,1084.6 L1621.4,1083.9 L1622.7,1083.2 L1624.0,1082.4 L1625.3,1081.6 L1626.7,1080.9 L1628.0,1080.1 L1629.3,1079.3 L1630.6,1078.5 L1631.9,1077.7 L1633.3,1076.9 L1634.6,1076.1 L1635.9,1075.3 L1637.2,1074.4 L1638.5,1073.6 L1639.9,1072.7 L1641.2,1071.9 L1642.5,1071.0 L1643.8,1070.2 L1645.1,1069.3 L1646.5,1068.4 L1647.8,1067.5 L1649.1,1066.6 L1650.4,1065.7 L1651.7,1064.8 L1653.1,1063.9 L1654.4,1063.0 L1655.7,1062.1 L1657.0,1061.2 L1658.3,1060.3 L1659.7,1059.3 L1661.0,1058.4 L1662.3,1057.5 L1663.6,1056.6 L1664.9,1055.6 L1666.3,1054.7 L1667.6,1053.8 L1668.9,1052.8 L1670.2,1051.9 L1671.5,1051.0 L1672.9,1050.0 L1674.2,1049.1 L1675.5,1048.2 L1676.8,1047.3 L1678.1,1046.4 L1679.5,1045.5 L1680.8,1044.6 L1682.1,1043.7 L1683.4,1042.8 L1684.7,1042.0 L1686.1,1041.1 L1687.4,1040.3 L1688.7,1039.4 L1690.0,1038.6 L1691.3,1037.8 L1692.7,1037.0 L1694.0,1036.3 L1695.3,1035.5 L1696.6,1034.8 L1697.9,1034.1 L1699.3,1033.4 L1700.6,1032.8 L1701.9,1032.2 L1703.2,1031.6 L1704.5,1031.0 L1705.9,1030.5 L1707.2,1030.0 L1708.5,1029.6 L1709.8,1029.2 L1711.1,1028.9 L1712.5,1028.6 L1713.8,1028.3 L1715.1,1028.2 L1716.4,1028.1 L1717.7,1028.0 L1719.1,1028.1 L1720.4,1028.2 L1721.7,1028.4 L1723.0,1028.6 L1724.3,1029.0 L1725.7,1029.5 L1727.0,1030.1 L1728.3,1030.9 L1729.6,1031.8 L1730.9,1032.8 L1732.3,1034.1 L1733.6,1035.5 L1734.9,1037.1 L1736.2,1039.0 L1737.5,1041.2 L1738.9,1043.7 L1740.2,1046.5 L1741.5,1049.7 L1742.8,1053.3 L1744.1,1057.2 L1745.5,1061.6 L1746.8,1066.2 L1748.1,1071.2 L1749.4,1076.3 L1750.7,1081.6 L1752.1,1086.9 L1753.4,1092.0 L1754.7,1096.9" fill="none" stroke="#952C80" stroke-opacity="0.13" stroke-width="6.2" stroke-linejoin="round"/>
<path d="M1294.4,1123.6 L1295.7,1123.6 L1297.0,1123.6 L1298.3,1123.5 L1299.6,1123.5 L1300.9,1123.5 L1302.3,1123.5 L1303.6,1123.5 L1304.9,1123.5 L1306.2,1123.5 L1307.5,1123.5 L1308.9,1123.5 L1310.2,1123.5 L1311.5,1123.5 L1312.8,1123.5 L1314.2,1123.5 L1315.5,1123.5 L1316.8,1123.5 L1318.1,1123.5 L1319.4,1123.5 L1320.7,1123.5 L1322.1,1123.4 L1323.4,1123.4 L1324.7,1123.4 L1326.0,1123.4 L1327.3,1123.4 L1328.7,1123.4 L1330.0,1123.4 L1331.3,1123.4 L1332.6,1123.4 L1333.9,1123.4 L1335.3,1123.3 L1336.6,1123.3 L1337.9,1123.3 L1339.2,1123.3 L1340.5,1123.3 L1341.9,1123.3 L1343.2,1123.3 L1344.5,1123.3 L1345.8,1123.2 L1347.1,1123.2 L1348.5,1123.2 L1349.8,1123.2 L1351.1,1123.2 L1352.4,1123.2 L1353.7,1123.1 L1355.1,1123.1 L1356.4,1123.1 L1357.7,1123.1 L1359.0,1123.1 L1360.3,1123.1 L1361.7,1123.0 L1363.0,1123.0 L1364.3,1123.0 L1365.6,1123.0 L1366.9,1123.0 L1368.3,1122.9 L1369.6,1122.9 L1370.9,1122.9 L1372.2,1122.9 L1373.5,1122.8 L1374.9,1122.8 L1376.2,1122.8 L1377.5,1122.8 L1378.8,1122.8 L1380.1,1122.7 L1381.5,1122.7 L1382.8,1122.7 L1384.1,1122.6 L1385.4,1122.6 L1386.7,1122.6 L1388.1,1122.6 L1389.4,1122.5 L1390.7,1122.5 L1392.0,1122.5 L1393.3,1122.4 L1394.7,1122.4 L1396.0,1122.4 L1397.3,1122.4 L1398.6,1122.3 L1399.9,1122.3 L1401.3,1122.3 L1402.6,1122.2 L1403.9,1122.2 L1405.2,1122.2 L1406.5,1122.1 L1407.9,1122.1 L1409.2,1122.0 L1410.5,1122.0 L1411.8,1122.0 L1413.1,1121.9 L1414.5,1121.9 L1415.8,1121.9 L1417.1,1121.8 L1418.4,1121.8 L1419.7,1121.7 L1421.1,1121.7 L1422.4,1121.6 L1423.7,1121.6 L1425.0,1121.6 L1426.3,1121.5 L1427.7,1121.5 L1429.0,1121.4 L1430.3,1121.4 L1431.6,1121.3 L1432.9,1121.3 L1434.3,1121.2 L1435.6,1121.2 L1436.9,1121.1 L1438.2,1121.1 L1439.5,1121.0 L1440.9,1121.0 L1442.2,1120.9 L1443.5,1120.9 L1444.8,1120.8 L1446.1,1120.7 L1447.5,1120.7 L1448.8,1120.6 L1450.1,1120.6 L1451.4,1120.5 L1452.7,1120.5 L1454.1,1120.4 L1455.4,1120.3 L1456.7,1120.3 L1458.0,1120.2 L1459.3,1120.1 L1460.7,1120.1 L1462.0,1120.0 L1463.3,1119.9 L1464.6,1119.9 L1465.9,1119.8 L1467.3,1119.7 L1468.6,1119.7 L1469.9,1119.6 L1471.2,1119.5 L1472.5,1119.4 L1473.9,1119.4 L1475.2,1119.3 L1476.5,1119.2 L1477.8,1119.1 L1479.1,1119.1 L1480.5,1119.0 L1481.8,1118.9 L1483.1,1118.8 L1484.4,1118.7 L1485.7,1118.7 L1487.1,1118.6 L1488.4,1118.5 L1489.7,1118.4 L1491.0,1118.3 L1492.3,1118.2 L1493.7,1118.1 L1495.0,1118.0 L1496.3,1117.9 L1497.6,1117.9 L1498.9,1117.8 L1500.3,1117.7 L1501.6,1117.6 L1502.9,1117.5 L1504.2,1117.4 L1505.5,1117.3 L1506.8,1117.2 L1508.2,1117.1 L1509.5,1117.0 L1510.8,1116.9 L1512.1,1116.8 L1513.4,1116.7 L1514.8,1116.6 L1516.1,1116.5 L1517.4,1116.3 L1518.7,1116.2 L1520.0,1116.1 L1521.4,1116.0 L1522.7,1115.9 L1524.0,1115.8 L1525.3,1115.7 L1526.6,1115.6 L1528.0,1115.4 L1529.3,1115.3 L1530.6,1115.2 L1531.9,1115.1 L1533.2,1114.9 L1534.6,1114.8 L1535.9,1114.7 L1537.2,1114.6 L1538.5,1114.4 L1539.8,1114.3 L1541.2,1114.2 L1542.5,1114.0 L1543.8,1113.9 L1545.1,1113.7 L1546.4,1113.6 L1547.8,1113.5 L1549.1,1113.3 L1550.4,1113.2 L1551.7,1113.0 L1553.0,1112.9 L1554.4,1112.7 L1555.7,1112.6 L1557.0,1112.4 L1558.3,1112.3 L1559.6,1112.1 L1561.0,1111.9 L1562.3,1111.8 L1563.6,1111.6 L1564.9,1111.4 L1566.2,1111.3 L1567.6,1111.1 L1568.9,1110.9 L1570.2,1110.7 L1571.5,1110.6 L1572.8,1110.4 L1574.1,1110.2 L1575.5,1110.0 L1576.8,1109.8 L1578.1,1109.6 L1579.4,1109.4 L1580.7,1109.2 L1582.1,1109.0 L1583.4,1108.8 L1584.7,1108.6 L1586.0,1108.4 L1587.3,1108.2 L1588.7,1108.0 L1590.0,1107.8 L1591.3,1107.6 L1592.6,1107.3 L1593.9,1107.1 L1595.3,1106.9 L1596.6,1106.6 L1597.9,1106.4 L1599.2,1106.2 L1600.5,1105.9 L1601.9,1105.7 L1603.2,1105.4 L1604.5,1105.2 L1605.8,1104.9 L1607.1,1104.7 L1608.5,1104.4 L1609.8,1104.2 L1611.1,1103.9 L1612.4,1103.6 L1613.7,1103.3 L1615.0,1103.0 L1616.4,1102.8 L1617.7,1102.5 L1619.0,1102.2 L1620.3,1101.9 L1621.6,1101.6 L1623.0,1101.3 L1624.3,1100.9 L1625.6,1100.6 L1626.9,1100.3 L1628.2,1100.0 L1629.6,1099.6 L1630.9,1099.3 L1632.2,1099.0 L1633.5,1098.6 L1634.8,1098.3 L1636.1,1097.9 L1637.5,1097.5 L1638.8,1097.2 L1640.1,1096.8 L1641.4,1096.4 L1642.7,1096.0 L1644.1,1095.6 L1645.4,1095.2 L1646.7,1094.8 L1648.0,1094.3 L1649.3,1093.9 L1650.7,1093.5 L1652.0,1093.0 L1653.3,1092.6 L1654.6,1092.1 L1655.9,1091.6 L1657.2,1091.2 L1658.6,1090.7 L1659.9,1090.2 L1661.2,1089.6 L1662.5,1089.1 L1663.8,1088.6 L1665.2,1088.0 L1666.5,1087.5 L1667.8,1086.9 L1669.1,1086.3 L1670.4,1085.8 L1671.7,1085.1 L1673.1,1084.5 L1674.4,1083.9 L1675.7,1083.2 L1677.0,1082.6 L1678.3,1081.9 L1679.6,1081.2 L1681.0,1080.5 L1682.3,1079.7 L1683.6,1079.0 L1684.9,1078.2 L1686.2,1077.4 L1687.6,1076.6 L1688.9,1075.8 L1690.2,1074.9 L1691.5,1074.0 L1692.8,1073.1 L1694.1,1072.1 L1695.4,1071.2 L1696.8,1070.1 L1698.1,1069.1 L1699.4,1068.0 L1700.7,1066.9 L1702.0,1065.7 L1703.3,1064.5 L1704.7,1063.3 L1706.0,1062.0 L1707.3,1060.6 L1708.6,1059.2 L1709.9,1057.8 L1711.2,1056.2 L1712.6,1054.6 L1713.9,1052.9 L1715.2,1051.2 L1716.5,1049.3 L1717.8,1047.3 L1719.1,1045.2 L1720.4,1043.0 L1721.8,1040.6 L1723.1,1038.0 L1724.4,1035.1 L1725.7,1032.0 L1727.0,1028.4 L1728.3,1024.5 L1729.7,1020.0 L1731.0,1014.9 L1732.3,1009.2 L1733.6,1002.8 L1734.9,995.7 L1736.3,988.0 L1737.6,979.8 L1738.9,971.1 L1740.2,962.3 L1741.5,953.4 L1742.9,944.8 L1744.2,936.9 L1745.5,930.2 L1746.8,925.0 L1748.1,921.2 L1749.5,918.0 L1750.8,914.2 L1752.1,910.0 L1754.0,910.6 L1754.7,917.8 L1754.7,1123.6 L1294.4,1123.6 Z" fill="#F6B27B" fill-opacity="0.13"/>
<path d="M1294.4,1123.6 L1295.7,1123.6 L1297.0,1123.6 L1298.3,1123.5 L1299.6,1123.5 L1301.0,1123.5 L1302.3,1123.5 L1303.6,1123.5 L1304.9,1123.5 L1306.2,1123.5 L1307.5,1123.5 L1308.9,1123.5 L1310.2,1123.5 L1311.5,1123.5 L1312.8,1123.5 L1314.2,1123.5 L1315.5,1123.5 L1316.8,1123.5 L1318.1,1123.5 L1319.4,1123.5 L1320.8,1123.5 L1322.1,1123.5 L1323.4,1123.4 L1324.7,1123.4 L1326.0,1123.4 L1327.4,1123.4 L1328.7,1123.4 L1330.0,1123.4 L1331.3,1123.4 L1332.6,1123.4 L1334.0,1123.4 L1335.3,1123.4 L1336.6,1123.3 L1337.9,1123.3 L1339.2,1123.3 L1340.5,1123.3 L1341.9,1123.3 L1343.2,1123.3 L1344.5,1123.3 L1345.8,1123.3 L1347.2,1123.2 L1348.5,1123.2 L1349.8,1123.2 L1351.1,1123.2 L1352.4,1123.2 L1353.8,1123.2 L1355.1,1123.1 L1356.4,1123.1 L1357.7,1123.1 L1359.0,1123.1 L1360.4,1123.1 L1361.7,1123.1 L1363.0,1123.0 L1364.3,1123.0 L1365.6,1123.0 L1367.0,1123.0 L1368.3,1123.0 L1369.6,1122.9 L1370.9,1122.9 L1372.2,1122.9 L1373.5,1122.9 L1374.9,1122.9 L1376.2,1122.8 L1377.5,1122.8 L1378.8,1122.8 L1380.2,1122.8 L1381.5,1122.7 L1382.8,1122.7 L1384.1,1122.7 L1385.4,1122.7 L1386.8,1122.6 L1388.1,1122.6 L1389.4,1122.6 L1390.7,1122.6 L1392.0,1122.5 L1393.4,1122.5 L1394.7,1122.5 L1396.0,1122.4 L1397.3,1122.4 L1398.6,1122.4 L1400.0,1122.4 L1401.3,1122.3 L1402.6,1122.3 L1403.9,1122.3 L1405.2,1122.2 L1406.5,1122.2 L1407.9,1122.2 L1409.2,1122.1 L1410.5,1122.1 L1411.8,1122.0 L1413.2,1122.0 L1414.5,1122.0 L1415.8,1121.9 L1417.1,1121.9 L1418.4,1121.9 L1419.8,1121.8 L1421.1,1121.8 L1422.4,1121.7 L1423.7,1121.7 L1425.0,1121.7 L1426.4,1121.6 L1427.7,1121.6 L1429.0,1121.5 L1430.3,1121.5 L1431.6,1121.4 L1433.0,1121.4 L1434.3,1121.3 L1435.6,1121.3 L1436.9,1121.2 L1438.2,1121.2 L1439.5,1121.1 L1440.9,1121.1 L1442.2,1121.0 L1443.5,1121.0 L1444.8,1120.9 L1446.2,1120.9 L1447.5,1120.8 L1448.8,1120.8 L1450.1,1120.7 L1451.4,1120.7 L1452.8,1120.6 L1454.1,1120.5 L1455.4,1120.5 L1456.7,1120.4 L1458.0,1120.4 L1459.4,1120.3 L1460.7,1120.2 L1462.0,1120.2 L1463.3,1120.1 L1464.6,1120.0 L1466.0,1120.0 L1467.3,1119.9 L1468.6,1119.9 L1469.9,1119.8 L1471.2,1119.7 L1472.5,1119.6 L1473.9,1119.6 L1475.2,1119.5 L1476.5,1119.4 L1477.8,1119.4 L1479.2,1119.3 L1480.5,1119.2 L1481.8,1119.1 L1483.1,1119.0 L1484.4,1119.0 L1485.8,1118.9 L1487.1,1118.8 L1488.4,1118.7 L1489.7,1118.6 L1491.0,1118.6 L1492.3,1118.5 L1493.7,1118.4 L1495.0,1118.3 L1496.3,1118.2 L1497.6,1118.1 L1499.0,1118.0 L1500.3,1117.9 L1501.6,1117.9 L1502.9,1117.8 L1504.2,1117.7 L1505.5,1117.6 L1506.9,1117.5 L1508.2,1117.4 L1509.5,1117.3 L1510.8,1117.2 L1512.2,1117.1 L1513.5,1117.0 L1514.8,1116.9 L1516.1,1116.8 L1517.4,1116.6 L1518.8,1116.5 L1520.1,1116.4 L1521.4,1116.3 L1522.7,1116.2 L1524.0,1116.1 L1525.3,1116.0 L1526.7,1115.9 L1528.0,1115.7 L1529.3,1115.6 L1530.6,1115.5 L1532.0,1115.4 L1533.3,1115.2 L1534.6,1115.1 L1535.9,1115.0 L1537.2,1114.9 L1538.6,1114.7 L1539.9,1114.6 L1541.2,1114.5 L1542.5,1114.3 L1543.8,1114.2 L1545.2,1114.0 L1546.5,1113.9 L1547.8,1113.8 L1549.1,1113.6 L1550.4,1113.5 L1551.8,1113.3 L1553.1,1113.2 L1554.4,1113.0 L1555.7,1112.9 L1557.0,1112.7 L1558.3,1112.5 L1559.7,1112.4 L1561.0,1112.2 L1562.3,1112.1 L1563.6,1111.9 L1565.0,1111.7 L1566.3,1111.6 L1567.6,1111.4 L1568.9,1111.2 L1570.2,1111.0 L1571.6,1110.8 L1572.9,1110.7 L1574.2,1110.5 L1575.5,1110.3 L1576.8,1110.1 L1578.2,1109.9 L1579.5,1109.7 L1580.8,1109.5 L1582.1,1109.3 L1583.4,1109.1 L1584.8,1108.9 L1586.1,1108.7 L1587.4,1108.5 L1588.7,1108.3 L1590.0,1108.1 L1591.3,1107.9 L1592.7,1107.6 L1594.0,1107.4 L1595.3,1107.2 L1596.6,1106.9 L1598.0,1106.7 L1599.3,1106.5 L1600.6,1106.2 L1601.9,1106.0 L1603.2,1105.7 L1604.6,1105.5 L1605.9,1105.2 L1607.2,1105.0 L1608.5,1104.7 L1609.8,1104.4 L1611.2,1104.2 L1612.5,1103.9 L1613.8,1103.6 L1615.1,1103.3 L1616.4,1103.1 L1617.8,1102.8 L1619.1,1102.5 L1620.4,1102.2 L1621.7,1101.9 L1623.0,1101.6 L1624.4,1101.2 L1625.7,1100.9 L1627.0,1100.6 L1628.3,1100.3 L1629.6,1099.9 L1631.0,1099.6 L1632.3,1099.3 L1633.6,1098.9 L1634.9,1098.5 L1636.2,1098.2 L1637.5,1097.8 L1638.9,1097.4 L1640.2,1097.1 L1641.5,1096.7 L1642.8,1096.3 L1644.2,1095.9 L1645.5,1095.5 L1646.8,1095.1 L1648.1,1094.6 L1649.4,1094.2 L1650.8,1093.8 L1652.1,1093.3 L1653.4,1092.9 L1654.7,1092.4 L1656.0,1091.9 L1657.3,1091.4 L1658.7,1090.9 L1660.0,1090.4 L1661.3,1089.9 L1662.6,1089.4 L1664.0,1088.9 L1665.3,1088.3 L1666.6,1087.8 L1667.9,1087.2 L1669.2,1086.6 L1670.5,1086.0 L1671.9,1085.4 L1673.2,1084.8 L1674.5,1084.2 L1675.8,1083.5 L1677.2,1082.8 L1678.5,1082.2 L1679.8,1081.5 L1681.1,1080.7 L1682.4,1080.0 L1683.8,1079.2 L1685.1,1078.5 L1686.4,1077.7 L1687.7,1076.8 L1689.0,1076.0 L1690.3,1075.1 L1691.7,1074.2 L1693.0,1073.3 L1694.3,1072.4 L1695.6,1071.4 L1697.0,1070.4 L1698.3,1069.3 L1699.6,1068.2 L1700.9,1067.1 L1702.2,1066.0 L1703.5,1064.8 L1704.9,1063.5 L1706.2,1062.2 L1707.5,1060.9 L1708.8,1059.4 L1710.2,1058.0 L1711.5,1056.4 L1712.8,1054.8 L1714.1,1053.1 L1715.4,1051.3 L1716.8,1049.5 L1718.1,1047.5 L1719.4,1045.4 L1720.7,1043.1 L1722.0,1040.7 L1723.3,1038.1 L1724.7,1035.2 L1726.0,1032.1 L1727.3,1028.5 L1728.6,1024.6 L1730.0,1020.1 L1731.3,1015.0 L1732.6,1009.2 L1733.9,1002.8 L1735.2,995.8 L1736.5,988.1 L1737.9,979.8 L1739.2,971.2 L1740.5,962.3 L1741.8,953.4 L1743.2,944.8 L1744.5,937.0 L1745.8,930.2 L1747.1,925.0 L1748.4,921.3 L1749.8,918.2 L1751.1,914.3 L1752.4,910.2 L1753.7,910.7 L1754.7,917.8" fill="none" stroke="#F6B27B" stroke-opacity="0.1" stroke-width="6.2" stroke-linejoin="round"/>
<line x1="1487.6" y1="1140.0" x2="1754.6" y2="1140.0" stroke="#F6B27B" stroke-width="3.8"/>
<circle cx="1721.3" cy="1140.0" r="5.8" fill="#F6B27B"/>
<line x1="1530.1" y1="1164.3" x2="1747.9" y2="1164.3" stroke="#952C80" stroke-width="3.8"/>
<circle cx="1684.5" cy="1164.3" r="4.8" fill="#fff" stroke="#952C80" stroke-width="5.2"/>
<line x1="1587.9" y1="1188.3" x2="1715.3" y2="1188.3" stroke="#000004" stroke-width="3.8"/>
<circle cx="1663.1" cy="1188.3" r="4.8" fill="#fff" stroke="#000004" stroke-width="5.2"/>
<line x1="1258.9" y1="1216.3" x2="1755.5" y2="1216.3" stroke="#999" stroke-width="1.6"/>
<line x1="1259.7" y1="1216.3" x2="1259.7" y2="1208.3" stroke="#999" stroke-width="1.6"/>
<text x="1240.9" y="1238.5" font-size="23" font-weight="bold" stroke="#000" stroke-width="0.6" stroke-linejoin="round" textLength="37.6" lengthAdjust="spacingAndGlyphs" >0.00</text>
<line x1="1383.5" y1="1216.3" x2="1383.5" y2="1208.3" stroke="#999" stroke-width="1.6"/>
<text x="1365.9" y="1238.5" font-size="23" font-weight="bold" stroke="#000" stroke-width="0.6" stroke-linejoin="round" textLength="35.2" lengthAdjust="spacingAndGlyphs" >0.25</text>
<line x1="1507.2" y1="1216.3" x2="1507.2" y2="1208.3" stroke="#999" stroke-width="1.6"/>
<text x="1489.3" y="1238.5" font-size="23" font-weight="bold" stroke="#000" stroke-width="0.6" stroke-linejoin="round" textLength="35.8" lengthAdjust="spacingAndGlyphs" >0.50</text>
<line x1="1631.0" y1="1216.3" x2="1631.0" y2="1208.3" stroke="#999" stroke-width="1.6"/>
<text x="1613.9" y="1238.5" font-size="23" font-weight="bold" stroke="#000" stroke-width="0.6" stroke-linejoin="round" textLength="34.2" lengthAdjust="spacingAndGlyphs" >0.75</text>
<line x1="1754.7" y1="1216.3" x2="1754.7" y2="1208.3" stroke="#999" stroke-width="1.6"/>
<text x="1736.9" y="1238.5" font-size="23" font-weight="bold" stroke="#000" stroke-width="0.6" stroke-linejoin="round" textLength="35.0" lengthAdjust="spacingAndGlyphs" >1.00</text>
<text x="810.0" y="1266.5" font-size="28.8" font-weight="bold" stroke="#000" stroke-width="0.4" stroke-linejoin="round" textLength="230.8" lengthAdjust="spacingAndGlyphs" >Belief about Pr(gain)</text>
<text transform="translate(90,1083.0) rotate(-90)" font-size="29.5" font-weight="bold" stroke="#000" stroke-width="0.45" textLength="83.1" lengthAdjust="spacingAndGlyphs">Density</text>
</g>
</svg>
</body></html>
